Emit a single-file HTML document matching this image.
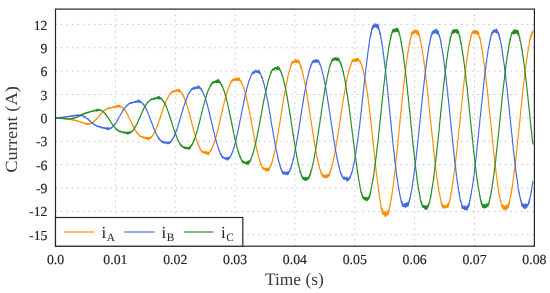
<!DOCTYPE html>
<html><head><meta charset="utf-8"><style>
html,body{margin:0;padding:0;background:#fff;}
svg{display:block;filter:blur(0.3px);text-rendering:geometricPrecision;}
text{font-family:"Liberation Serif",serif;fill:#222;}
</style></head><body>
<svg width="550" height="293" viewBox="0 0 550 293">
<rect width="550" height="293" fill="#fff"/>
<defs><clipPath id="ax"><rect x="55.5" y="9.1" width="478.90" height="237.10"/></clipPath></defs>
<g stroke="#c8c8c8" stroke-width="1" stroke-dasharray="1.6 3.88" fill="none">
<line x1="115.36" y1="246.2" x2="115.36" y2="9.1"/>
<line x1="175.22" y1="246.2" x2="175.22" y2="9.1"/>
<line x1="235.09" y1="246.2" x2="235.09" y2="9.1"/>
<line x1="294.95" y1="246.2" x2="294.95" y2="9.1"/>
<line x1="354.81" y1="246.2" x2="354.81" y2="9.1"/>
<line x1="414.67" y1="246.2" x2="414.67" y2="9.1"/>
<line x1="474.54" y1="246.2" x2="474.54" y2="9.1"/>
<line x1="55.5" y1="234.75" x2="534.4" y2="234.75"/>
<line x1="55.5" y1="211.38" x2="534.4" y2="211.38"/>
<line x1="55.5" y1="188.01" x2="534.4" y2="188.01"/>
<line x1="55.5" y1="164.64" x2="534.4" y2="164.64"/>
<line x1="55.5" y1="141.27" x2="534.4" y2="141.27"/>
<line x1="55.5" y1="117.90" x2="534.4" y2="117.90"/>
<line x1="55.5" y1="94.53" x2="534.4" y2="94.53"/>
<line x1="55.5" y1="71.16" x2="534.4" y2="71.16"/>
<line x1="55.5" y1="47.79" x2="534.4" y2="47.79"/>
<line x1="55.5" y1="24.42" x2="534.4" y2="24.42"/>
</g>
<g clip-path="url(#ax)" fill="none" stroke-width="1.15" stroke-linejoin="round">
<polyline stroke="#ff8c00" points="55.5,117.95 55.6,117.71 55.7,117.85 55.9,118.04 56.0,117.94 56.1,117.87 56.2,118.01 56.3,117.80 56.5,117.99 56.6,117.82 56.7,117.78 56.8,117.74 56.9,117.87 57.1,117.76 57.2,117.61 57.3,117.87 57.4,117.96 57.5,117.73 57.6,117.88 57.8,118.00 57.9,117.69 58.0,117.92 58.1,117.77 58.2,117.62 58.4,117.75 58.5,117.71 58.6,117.63 58.7,118.00 58.8,117.80 59.0,117.90 59.1,117.85 59.2,117.73 59.3,117.55 59.4,117.83 59.6,117.75 59.7,117.94 59.8,117.72 59.9,117.53 60.0,117.92 60.2,117.74 60.3,117.75 60.4,117.62 60.5,117.69 60.6,117.90 60.8,117.76 60.9,117.68 61.0,117.92 61.1,117.61 61.2,117.64 61.3,117.71 61.5,117.88 61.6,117.76 61.7,117.96 61.8,117.67 61.9,117.81 62.1,117.76 62.2,117.90 62.3,117.77 62.4,117.98 62.5,117.99 62.7,117.83 62.8,117.81 62.9,117.89 63.0,117.70 63.1,118.02 63.3,117.84 63.4,117.98 63.5,117.76 63.6,117.85 63.7,118.02 63.9,117.75 64.0,117.93 64.1,118.03 64.2,118.21 64.3,118.21 64.5,118.30 64.6,118.23 64.7,118.14 64.8,118.13 64.9,118.25 65.0,118.26 65.2,118.07 65.3,118.08 65.4,118.03 65.5,118.07 65.6,118.45 65.8,118.31 65.9,118.37 66.0,118.55 66.1,118.28 66.2,118.44 66.4,118.35 66.5,118.41 66.6,118.46 66.7,118.48 66.8,118.56 67.0,118.72 67.1,118.69 67.2,118.71 67.3,118.58 67.4,118.72 67.6,118.61 67.7,118.91 67.8,118.97 67.9,118.73 68.0,118.97 68.2,118.68 68.3,118.89 68.4,118.86 68.5,118.79 68.6,119.06 68.7,118.99 68.9,118.95 69.0,119.04 69.1,119.12 69.2,119.09 69.3,118.96 69.5,118.98 69.6,119.05 69.7,119.09 69.8,119.03 69.9,119.13 70.1,119.18 70.2,119.11 70.3,119.62 70.4,119.29 70.5,119.26 70.7,119.44 70.8,119.55 70.9,119.40 71.0,119.23 71.1,119.43 71.3,119.75 71.4,119.63 71.5,119.64 71.6,119.53 71.7,119.69 71.9,119.74 72.0,119.89 72.1,119.79 72.2,119.72 72.3,119.69 72.4,119.97 72.6,119.81 72.7,119.99 72.8,120.00 72.9,120.16 73.0,119.93 73.2,120.10 73.3,119.94 73.4,119.83 73.5,120.15 73.6,120.00 73.8,119.91 73.9,120.03 74.0,119.99 74.1,120.22 74.2,120.18 74.4,120.15 74.5,120.41 74.6,120.32 74.7,120.47 74.8,120.53 75.0,120.19 75.1,120.21 75.2,120.53 75.3,120.54 75.4,120.48 75.6,120.43 75.7,120.57 75.8,120.48 75.9,120.62 76.0,120.67 76.1,120.61 76.3,120.73 76.4,120.69 76.5,120.54 76.6,120.75 76.7,120.62 76.9,120.81 77.0,121.20 77.1,121.09 77.2,120.81 77.3,121.05 77.5,120.77 77.6,121.37 77.7,121.19 77.8,121.06 77.9,121.15 78.1,121.23 78.2,121.17 78.3,121.11 78.4,121.29 78.5,121.33 78.7,121.33 78.8,121.39 78.9,121.62 79.0,121.51 79.1,121.56 79.3,121.53 79.4,121.65 79.5,121.66 79.6,121.62 79.7,121.61 79.8,121.70 80.0,121.75 80.1,121.84 80.2,121.89 80.3,121.98 80.4,122.03 80.6,121.99 80.7,121.94 80.8,122.03 80.9,122.54 81.0,122.60 81.2,121.93 81.3,122.25 81.4,122.58 81.5,122.59 81.6,122.25 81.8,122.76 81.9,122.52 82.0,122.33 82.1,122.46 82.2,122.77 82.4,122.55 82.5,122.96 82.6,122.91 82.7,122.99 82.8,122.96 83.0,122.86 83.1,123.10 83.2,123.03 83.3,123.28 83.4,122.97 83.5,122.95 83.7,123.03 83.8,123.31 83.9,123.16 84.0,123.17 84.1,123.39 84.3,123.54 84.4,123.19 84.5,123.17 84.6,123.51 84.7,123.43 84.9,123.37 85.0,123.72 85.1,123.51 85.2,123.42 85.3,123.44 85.5,123.70 85.6,123.75 85.7,123.86 85.8,123.26 85.9,124.22 86.1,124.31 86.2,124.55 86.3,123.06 86.4,123.13 86.5,124.14 86.7,124.16 86.8,124.22 86.9,123.79 87.0,124.00 87.1,123.56 87.2,124.34 87.4,123.44 87.5,123.87 87.6,123.85 87.7,123.59 87.8,123.57 88.0,123.99 88.1,124.01 88.2,123.90 88.3,124.38 88.4,123.84 88.6,123.79 88.7,123.72 88.8,124.21 88.9,123.77 89.0,124.12 89.2,123.97 89.3,123.98 89.4,123.54 89.5,123.57 89.6,123.79 89.8,124.00 89.9,123.76 90.0,123.38 90.1,123.60 90.2,123.85 90.4,123.71 90.5,123.30 90.6,123.68 90.7,123.20 90.8,123.23 90.9,123.23 91.1,123.21 91.2,123.03 91.3,123.35 91.4,123.18 91.5,122.87 91.7,123.35 91.8,122.89 91.9,122.66 92.0,122.96 92.1,122.98 92.3,122.72 92.4,122.77 92.5,122.66 92.6,122.48 92.7,122.29 92.9,122.39 93.0,121.95 93.1,122.17 93.2,121.75 93.3,122.04 93.5,121.71 93.6,122.08 93.7,121.63 93.8,121.54 93.9,121.26 94.1,121.30 94.2,121.38 94.3,121.27 94.4,120.93 94.5,121.06 94.6,120.79 94.8,120.53 94.9,120.65 95.0,120.75 95.1,120.39 95.2,120.63 95.4,120.44 95.5,120.10 95.6,120.20 95.7,119.61 95.8,119.76 96.0,119.37 96.1,119.10 96.2,119.36 96.3,119.19 96.4,119.00 96.6,118.99 96.7,118.61 96.8,118.56 96.9,118.57 97.0,118.35 97.2,118.03 97.3,117.91 97.4,118.04 97.5,117.86 97.6,117.43 97.8,117.46 97.9,117.46 98.0,117.05 98.1,116.84 98.2,117.19 98.3,116.81 98.5,116.44 98.6,116.39 98.7,116.25 98.8,116.41 98.9,115.86 99.1,116.12 99.2,115.64 99.3,115.49 99.4,115.36 99.5,115.14 99.7,115.35 99.8,114.81 99.9,115.14 100.0,114.93 100.1,114.57 100.3,114.67 100.4,114.41 100.5,114.29 100.6,113.95 100.7,114.26 100.9,113.95 101.0,113.45 101.1,113.35 101.2,113.47 101.3,113.44 101.5,112.83 101.6,112.96 101.7,112.84 101.8,112.95 101.9,112.67 102.0,112.36 102.2,112.42 102.3,112.39 102.4,112.40 102.5,111.94 102.6,111.86 102.8,111.79 102.9,111.79 103.0,111.62 103.1,111.45 103.2,111.56 103.4,111.37 103.5,111.44 103.6,110.93 103.7,111.21 103.8,110.91 104.0,110.65 104.1,110.61 104.2,110.70 104.3,110.42 104.4,110.18 104.6,110.44 104.7,110.11 104.8,110.05 104.9,109.79 105.0,109.91 105.1,109.81 105.3,109.82 105.4,109.53 105.5,109.62 105.6,109.42 105.7,109.58 105.9,109.51 106.0,109.63 106.1,109.34 106.2,109.09 106.3,109.12 106.5,108.84 106.6,109.18 106.7,109.03 106.8,108.98 106.9,108.77 107.1,108.50 107.2,108.79 107.3,108.51 107.4,108.56 107.5,108.53 107.7,108.29 107.8,108.60 107.9,108.60 108.0,108.44 108.1,108.31 108.3,108.41 108.4,107.93 108.5,108.09 108.6,107.84 108.7,108.26 108.8,107.88 109.0,108.33 109.1,107.90 109.2,107.95 109.3,107.86 109.4,107.94 109.6,108.26 109.7,107.66 109.8,107.57 109.9,107.70 110.0,107.56 110.2,108.19 110.3,108.04 110.4,107.48 110.5,107.91 110.6,107.84 110.8,107.68 110.9,107.60 111.0,107.49 111.1,107.88 111.2,107.53 111.4,107.48 111.5,107.50 111.6,107.52 111.7,107.55 111.8,107.35 112.0,107.24 112.1,107.83 112.2,107.30 112.3,107.16 112.4,107.46 112.5,107.26 112.7,107.10 112.8,107.37 112.9,107.19 113.0,107.21 113.1,106.86 113.3,106.86 113.4,106.69 113.5,107.31 113.6,106.79 113.7,106.89 113.9,106.92 114.0,106.99 114.1,107.34 114.2,107.43 114.3,106.78 114.5,106.96 114.6,106.73 114.7,107.30 114.8,106.94 114.9,106.26 115.1,106.51 115.2,107.00 115.3,106.78 115.4,106.69 115.5,106.30 115.7,106.42 115.8,107.03 115.9,106.66 116.0,107.09 116.1,106.76 116.2,106.24 116.4,105.86 116.5,105.95 116.6,107.11 116.7,106.52 116.8,105.74 117.0,106.54 117.1,106.72 117.2,105.75 117.3,105.59 117.4,106.76 117.6,106.13 117.7,106.91 117.8,107.00 117.9,106.10 118.0,106.78 118.2,105.24 118.3,106.51 118.4,106.70 118.5,105.86 118.6,106.50 118.8,107.00 118.9,105.02 119.0,106.52 119.1,106.67 119.2,106.16 119.4,107.05 119.5,105.59 119.6,106.87 119.7,106.72 119.8,105.77 119.9,106.21 120.1,105.96 120.2,105.97 120.3,105.94 120.4,106.53 120.5,106.38 120.7,106.80 120.8,107.05 120.9,106.32 121.0,106.59 121.1,106.65 121.3,106.84 121.4,106.60 121.5,106.86 121.6,106.66 121.7,106.81 121.9,106.83 122.0,106.90 122.1,106.94 122.2,107.28 122.3,107.35 122.5,107.41 122.6,107.84 122.7,107.50 122.8,107.89 122.9,107.97 123.1,108.29 123.2,108.41 123.3,108.24 123.4,108.18 123.5,108.23 123.6,108.31 123.8,108.91 123.9,109.03 124.0,108.84 124.1,109.21 124.2,109.18 124.4,109.57 124.5,109.44 124.6,109.88 124.7,109.33 124.8,109.90 125.0,110.12 125.1,110.42 125.2,110.50 125.3,110.75 125.4,111.08 125.6,111.25 125.7,111.34 125.8,111.70 125.9,111.81 126.0,112.19 126.2,112.27 126.3,112.26 126.4,112.02 126.5,112.23 126.6,112.57 126.8,113.23 126.9,113.49 127.0,113.35 127.1,113.67 127.2,113.52 127.3,113.94 127.5,114.24 127.6,114.25 127.7,114.36 127.8,114.99 127.9,115.26 128.1,115.63 128.2,115.56 128.3,116.25 128.4,116.11 128.5,116.59 128.7,116.74 128.8,117.17 128.9,117.30 129.0,117.53 129.1,117.62 129.3,118.09 129.4,118.33 129.5,118.35 129.6,118.67 129.7,118.96 129.9,119.09 130.0,119.21 130.1,119.77 130.2,119.91 130.3,120.15 130.5,120.76 130.6,120.76 130.7,120.88 130.8,121.06 130.9,121.39 131.0,121.53 131.2,122.20 131.3,122.27 131.4,122.63 131.5,122.53 131.6,122.87 131.8,123.48 131.9,123.29 132.0,124.00 132.1,123.96 132.2,124.06 132.4,124.44 132.5,124.57 132.6,124.92 132.7,125.58 132.8,125.19 133.0,125.93 133.1,125.79 133.2,126.08 133.3,126.40 133.4,126.77 133.6,126.51 133.7,127.08 133.8,127.58 133.9,127.37 134.0,127.78 134.2,127.94 134.3,128.09 134.4,128.79 134.5,128.74 134.6,128.85 134.7,129.27 134.9,129.39 135.0,129.37 135.1,129.88 135.2,129.78 135.3,129.99 135.5,130.06 135.6,130.40 135.7,130.52 135.8,131.06 135.9,131.10 136.1,131.34 136.2,131.54 136.3,132.01 136.4,131.95 136.5,132.19 136.7,131.96 136.8,132.26 136.9,132.44 137.0,132.47 137.1,132.32 137.3,132.81 137.4,133.26 137.5,133.73 137.6,133.19 137.7,133.07 137.9,133.47 138.0,133.69 138.1,133.93 138.2,134.19 138.3,134.45 138.4,134.53 138.6,134.13 138.7,134.69 138.8,134.94 138.9,135.13 139.0,134.94 139.2,134.91 139.3,135.27 139.4,135.11 139.5,135.35 139.6,135.27 139.8,135.57 139.9,135.69 140.0,136.24 140.1,136.48 140.2,136.02 140.4,136.32 140.5,136.38 140.6,136.31 140.7,136.36 140.8,136.56 141.0,136.61 141.1,136.83 141.2,136.59 141.3,136.55 141.4,136.44 141.6,136.95 141.7,136.98 141.8,136.68 141.9,137.25 142.0,136.38 142.1,137.15 142.3,137.00 142.4,136.80 142.5,136.76 142.6,136.87 142.7,136.96 142.9,137.16 143.0,137.62 143.1,137.53 143.2,137.31 143.3,137.65 143.5,137.14 143.6,138.06 143.7,137.55 143.8,137.51 143.9,137.08 144.1,138.03 144.2,137.83 144.3,137.32 144.4,137.67 144.5,137.69 144.7,138.20 144.8,138.10 144.9,138.26 145.0,137.19 145.1,137.67 145.3,138.01 145.4,137.71 145.5,137.76 145.6,137.49 145.7,138.45 145.8,138.07 146.0,137.47 146.1,138.28 146.2,137.41 146.3,137.77 146.4,137.72 146.6,138.83 146.7,137.35 146.8,137.53 146.9,138.42 147.0,138.01 147.2,139.16 147.3,137.84 147.4,138.29 147.5,137.92 147.6,137.67 147.8,139.70 147.9,137.39 148.0,139.42 148.1,139.67 148.2,138.74 148.4,139.00 148.5,137.83 148.6,139.71 148.7,138.38 148.8,137.79 149.0,137.52 149.1,138.73 149.2,139.04 149.3,138.11 149.4,138.15 149.5,137.35 149.7,138.10 149.8,138.16 149.9,138.37 150.0,137.40 150.1,137.61 150.3,138.09 150.4,138.21 150.5,138.05 150.6,137.40 150.7,137.53 150.9,138.09 151.0,137.15 151.1,137.07 151.2,136.74 151.3,136.66 151.5,136.98 151.6,137.15 151.7,136.28 151.8,136.83 151.9,136.28 152.1,135.91 152.2,136.26 152.3,135.49 152.4,135.61 152.5,135.27 152.7,135.63 152.8,135.05 152.9,135.06 153.0,135.03 153.1,134.60 153.2,134.34 153.4,134.76 153.5,134.05 153.6,134.17 153.7,133.81 153.8,133.64 154.0,133.41 154.1,133.15 154.2,132.71 154.3,132.67 154.4,132.84 154.6,132.29 154.7,132.12 154.8,131.35 154.9,131.68 155.0,130.88 155.2,130.57 155.3,130.91 155.4,130.75 155.5,130.43 155.6,130.36 155.8,130.26 155.9,129.74 156.0,128.97 156.1,128.95 156.2,128.56 156.4,128.28 156.5,127.75 156.6,127.62 156.7,127.35 156.8,127.21 156.9,126.82 157.1,126.55 157.2,126.39 157.3,126.51 157.4,125.32 157.5,125.33 157.7,124.80 157.8,125.13 157.9,124.01 158.0,124.11 158.1,123.91 158.3,123.64 158.4,122.79 158.5,122.25 158.6,122.34 158.7,122.07 158.9,121.50 159.0,121.52 159.1,121.05 159.2,120.41 159.3,120.30 159.5,119.66 159.6,119.24 159.7,119.28 159.8,118.53 159.9,117.95 160.1,117.78 160.2,118.09 160.3,117.54 160.4,116.81 160.5,116.73 160.6,116.53 160.8,115.58 160.9,115.57 161.0,115.30 161.1,114.98 161.2,114.83 161.4,114.34 161.5,113.80 161.6,113.16 161.7,113.21 161.8,112.72 162.0,112.32 162.1,112.00 162.2,111.95 162.3,110.59 162.4,111.25 162.6,110.07 162.7,110.41 162.8,109.37 162.9,109.75 163.0,109.08 163.2,108.47 163.3,108.93 163.4,107.63 163.5,107.84 163.6,107.66 163.8,107.00 163.9,106.78 164.0,105.95 164.1,105.86 164.2,105.89 164.3,105.19 164.5,104.93 164.6,105.13 164.7,104.06 164.8,104.01 164.9,104.32 165.1,103.64 165.2,102.69 165.3,102.49 165.4,103.27 165.5,102.56 165.7,102.09 165.8,102.16 165.9,101.45 166.0,101.31 166.1,101.02 166.3,100.28 166.4,100.49 166.5,100.27 166.6,100.25 166.7,99.63 166.9,99.51 167.0,98.96 167.1,98.68 167.2,99.15 167.3,98.05 167.5,98.56 167.6,98.02 167.7,98.21 167.8,97.34 167.9,97.52 168.0,97.15 168.2,97.32 168.3,96.70 168.4,96.73 168.5,96.24 168.6,96.24 168.8,96.24 168.9,95.69 169.0,95.22 169.1,95.11 169.2,94.89 169.4,95.02 169.5,94.60 169.6,94.32 169.7,94.10 169.8,94.09 170.0,93.65 170.1,93.79 170.2,93.66 170.3,93.23 170.4,93.52 170.6,93.10 170.7,93.12 170.8,93.40 170.9,92.57 171.0,92.85 171.2,92.73 171.3,92.03 171.4,92.05 171.5,92.33 171.6,91.90 171.7,91.92 171.9,92.00 172.0,92.19 172.1,91.71 172.2,92.53 172.3,92.27 172.5,92.04 172.6,91.99 172.7,91.35 172.8,91.58 172.9,91.06 173.1,91.77 173.2,91.86 173.3,90.67 173.4,91.13 173.5,91.95 173.7,91.09 173.8,91.38 173.9,91.55 174.0,91.50 174.1,90.98 174.3,91.75 174.4,90.94 174.5,91.12 174.6,91.15 174.7,91.54 174.9,90.33 175.0,90.96 175.1,90.69 175.2,90.53 175.3,91.17 175.4,90.40 175.6,91.19 175.7,90.16 175.8,91.27 175.9,91.16 176.0,90.89 176.2,91.01 176.3,89.88 176.4,90.81 176.5,89.94 176.6,91.05 176.8,91.07 176.9,90.81 177.0,90.20 177.1,90.03 177.2,90.52 177.4,90.84 177.5,90.02 177.6,91.22 177.7,90.02 177.8,90.51 178.0,89.96 178.1,89.49 178.2,90.77 178.3,91.36 178.4,90.87 178.6,91.47 178.7,91.71 178.8,91.01 178.9,90.16 179.0,90.23 179.1,89.52 179.3,89.32 179.4,89.70 179.5,90.22 179.6,91.37 179.7,90.34 179.9,91.74 180.0,92.28 180.1,92.10 180.2,91.29 180.3,91.27 180.5,92.12 180.6,91.63 180.7,91.76 180.8,91.58 180.9,92.11 181.1,92.60 181.2,92.88 181.3,92.82 181.4,92.48 181.5,92.57 181.7,92.74 181.8,93.50 181.9,93.80 182.0,93.49 182.1,93.87 182.3,93.89 182.4,94.44 182.5,94.17 182.6,94.78 182.7,94.56 182.8,95.04 183.0,95.15 183.1,95.61 183.2,95.78 183.3,95.17 183.4,96.63 183.6,95.61 183.7,96.40 183.8,96.25 183.9,96.92 184.0,97.65 184.2,97.12 184.3,97.69 184.4,98.15 184.5,98.31 184.6,98.89 184.8,99.17 184.9,99.00 185.0,99.35 185.1,99.45 185.2,100.26 185.4,100.75 185.5,100.67 185.6,101.07 185.7,101.10 185.8,101.60 186.0,101.81 186.1,102.50 186.2,102.91 186.3,103.53 186.4,103.45 186.5,104.36 186.7,104.43 186.8,104.72 186.9,104.90 187.0,105.39 187.1,105.87 187.3,106.21 187.4,106.60 187.5,107.24 187.6,107.08 187.7,107.78 187.9,108.30 188.0,108.91 188.1,109.18 188.2,109.86 188.3,110.17 188.5,110.31 188.6,110.49 188.7,111.24 188.8,111.48 188.9,112.25 189.1,112.76 189.2,112.79 189.3,113.03 189.4,113.80 189.5,114.30 189.7,114.88 189.8,115.47 189.9,115.87 190.0,115.58 190.1,116.53 190.2,116.76 190.4,117.46 190.5,118.32 190.6,118.24 190.7,118.49 190.8,119.22 191.0,119.57 191.1,119.95 191.2,120.46 191.3,120.93 191.4,121.70 191.6,121.84 191.7,122.43 191.8,123.05 191.9,123.33 192.0,124.29 192.2,124.67 192.3,125.19 192.4,125.62 192.5,125.56 192.6,125.91 192.8,126.65 192.9,127.48 193.0,127.91 193.1,128.33 193.2,128.41 193.4,129.61 193.5,128.80 193.6,129.68 193.7,130.53 193.8,130.68 193.9,131.10 194.1,131.86 194.2,131.82 194.3,132.75 194.4,132.88 194.5,133.10 194.7,133.70 194.8,134.49 194.9,134.69 195.0,134.75 195.1,135.31 195.3,135.31 195.4,136.22 195.5,136.43 195.6,136.36 195.7,137.36 195.9,137.55 196.0,138.60 196.1,138.07 196.2,138.25 196.3,139.78 196.5,139.98 196.6,140.38 196.7,139.78 196.8,140.79 196.9,140.61 197.1,141.12 197.2,141.51 197.3,141.99 197.4,142.11 197.5,142.95 197.6,142.37 197.8,143.52 197.9,143.84 198.0,143.39 198.1,144.05 198.2,144.65 198.4,144.93 198.5,144.45 198.6,145.92 198.7,146.14 198.8,146.07 199.0,146.30 199.1,146.09 199.2,147.07 199.3,146.97 199.4,147.10 199.6,147.74 199.7,147.68 199.8,147.72 199.9,148.53 200.0,147.76 200.2,148.92 200.3,149.27 200.4,148.71 200.5,149.16 200.6,148.98 200.7,149.54 200.9,150.32 201.0,150.13 201.1,150.03 201.2,150.54 201.3,151.10 201.5,150.50 201.6,151.51 201.7,150.78 201.8,150.85 201.9,150.67 202.1,152.48 202.2,152.24 202.3,151.34 202.4,151.51 202.5,151.36 202.7,152.41 202.8,152.47 202.9,151.96 203.0,152.12 203.1,151.62 203.3,151.68 203.4,152.33 203.5,151.74 203.6,153.03 203.7,152.25 203.9,151.92 204.0,152.37 204.1,152.74 204.2,152.88 204.3,151.98 204.4,152.10 204.6,152.27 204.7,153.35 204.8,152.98 204.9,151.71 205.0,152.64 205.2,153.19 205.3,152.26 205.4,151.39 205.5,152.89 205.6,152.56 205.8,152.37 205.9,152.11 206.0,152.11 206.1,152.38 206.2,154.03 206.4,153.52 206.5,153.39 206.6,152.51 206.7,152.76 206.8,151.68 207.0,153.42 207.1,153.62 207.2,153.89 207.3,153.36 207.4,152.16 207.6,152.20 207.7,153.75 207.8,152.54 207.9,152.35 208.0,152.97 208.1,154.40 208.3,152.50 208.4,152.68 208.5,153.81 208.6,152.61 208.7,154.31 208.9,153.06 209.0,152.08 209.1,152.28 209.2,152.82 209.3,151.79 209.5,152.75 209.6,152.19 209.7,152.17 209.8,152.09 209.9,151.56 210.1,151.53 210.2,150.72 210.3,150.92 210.4,150.13 210.5,151.10 210.7,149.88 210.8,149.99 210.9,150.39 211.0,150.63 211.1,149.93 211.3,149.56 211.4,149.09 211.5,148.75 211.6,149.17 211.7,148.36 211.8,148.12 212.0,147.99 212.1,147.69 212.2,147.46 212.3,147.92 212.4,146.98 212.6,146.69 212.7,146.47 212.8,146.35 212.9,145.95 213.0,146.17 213.2,145.57 213.3,145.65 213.4,144.48 213.5,144.17 213.6,143.47 213.8,144.23 213.9,143.40 214.0,143.08 214.1,142.59 214.2,142.64 214.4,142.10 214.5,142.69 214.6,141.16 214.7,140.67 214.8,140.64 215.0,140.13 215.1,140.04 215.2,139.53 215.3,138.71 215.4,139.08 215.5,138.13 215.7,137.58 215.8,137.25 215.9,136.29 216.0,136.84 216.1,136.12 216.3,136.65 216.4,134.89 216.5,135.09 216.6,134.80 216.7,133.91 216.9,132.98 217.0,133.00 217.1,133.04 217.2,131.92 217.3,131.05 217.5,131.33 217.6,130.49 217.7,130.52 217.8,129.52 217.9,129.69 218.1,129.72 218.2,128.72 218.3,127.63 218.4,127.36 218.5,127.00 218.7,126.35 218.8,126.06 218.9,125.49 219.0,125.00 219.1,124.28 219.2,123.25 219.4,123.45 219.5,122.42 219.6,122.59 219.7,122.04 219.8,121.39 220.0,120.11 220.1,120.44 220.2,119.75 220.3,119.10 220.4,118.40 220.6,118.23 220.7,117.75 220.8,117.52 220.9,116.06 221.0,115.44 221.2,114.85 221.3,114.38 221.4,114.09 221.5,113.34 221.6,113.64 221.8,113.07 221.9,112.17 222.0,111.79 222.1,111.23 222.2,110.29 222.4,110.31 222.5,109.56 222.6,108.78 222.7,108.49 222.8,107.77 222.9,107.85 223.1,107.23 223.2,106.90 223.3,105.99 223.4,105.82 223.5,105.44 223.7,104.74 223.8,104.64 223.9,103.69 224.0,103.54 224.1,103.03 224.3,102.34 224.4,101.81 224.5,101.07 224.6,101.12 224.7,100.08 224.9,99.39 225.0,99.74 225.1,98.87 225.2,98.88 225.3,98.32 225.5,97.38 225.6,97.10 225.7,96.98 225.8,95.83 225.9,95.29 226.1,95.20 226.2,94.89 226.3,95.63 226.4,93.88 226.5,93.42 226.6,93.70 226.8,93.48 226.9,92.85 227.0,91.79 227.1,92.23 227.2,92.13 227.4,90.99 227.5,91.67 227.6,90.75 227.7,90.70 227.8,90.15 228.0,89.53 228.1,89.34 228.2,88.26 228.3,88.28 228.4,88.49 228.6,88.69 228.7,87.40 228.8,87.46 228.9,86.36 229.0,86.94 229.2,86.23 229.3,86.01 229.4,86.25 229.5,85.59 229.6,85.00 229.8,84.78 229.9,84.34 230.0,84.77 230.1,84.20 230.2,84.46 230.3,84.28 230.5,82.72 230.6,83.51 230.7,82.55 230.8,82.14 230.9,82.79 231.1,82.08 231.2,81.85 231.3,81.50 231.4,81.24 231.5,81.20 231.7,81.69 231.8,80.77 231.9,80.30 232.0,80.83 232.1,81.55 232.3,80.86 232.4,79.93 232.5,80.64 232.6,80.07 232.7,80.47 232.9,79.52 233.0,79.21 233.1,80.58 233.2,79.90 233.3,79.54 233.5,80.30 233.6,80.03 233.7,79.80 233.8,79.10 233.9,79.67 234.0,80.21 234.2,80.32 234.3,79.44 234.4,78.97 234.5,78.59 234.6,78.83 234.8,79.62 234.9,79.86 235.0,79.53 235.1,79.68 235.2,79.68 235.4,79.88 235.5,79.53 235.6,78.54 235.7,79.91 235.8,78.43 236.0,78.58 236.1,78.26 236.2,78.37 236.3,80.53 236.4,79.19 236.6,79.48 236.7,79.77 236.8,78.50 236.9,80.41 237.0,78.90 237.2,78.30 237.3,79.46 237.4,78.62 237.5,79.56 237.6,78.19 237.7,78.38 237.9,78.73 238.0,78.00 238.1,78.91 238.2,78.61 238.3,80.58 238.5,77.98 238.6,79.47 238.7,78.16 238.8,79.15 238.9,79.71 239.1,79.26 239.2,78.04 239.3,79.33 239.4,80.29 239.5,79.64 239.7,79.28 239.8,80.71 239.9,80.81 240.0,79.74 240.1,80.36 240.3,80.23 240.4,81.02 240.5,80.45 240.6,81.29 240.7,81.32 240.9,81.07 241.0,80.72 241.1,81.70 241.2,82.44 241.3,82.71 241.4,82.23 241.6,82.64 241.7,83.12 241.8,83.27 241.9,82.89 242.0,83.42 242.2,84.61 242.3,84.37 242.4,84.91 242.5,84.46 242.6,85.16 242.8,85.27 242.9,85.88 243.0,86.23 243.1,85.81 243.2,86.19 243.4,86.74 243.5,87.24 243.6,87.01 243.7,88.22 243.8,88.81 244.0,88.69 244.1,89.27 244.2,88.93 244.3,89.79 244.4,89.53 244.6,90.80 244.7,90.92 244.8,92.22 244.9,91.74 245.0,92.45 245.1,93.03 245.3,92.99 245.4,93.53 245.5,93.92 245.6,94.40 245.7,94.64 245.9,95.57 246.0,95.78 246.1,96.23 246.2,96.71 246.3,97.17 246.5,96.91 246.6,98.57 246.7,98.89 246.8,99.74 246.9,99.65 247.1,100.50 247.2,100.80 247.3,101.40 247.4,101.92 247.5,102.22 247.7,102.38 247.8,103.15 247.9,104.14 248.0,104.55 248.1,106.10 248.3,105.93 248.4,106.18 248.5,106.51 248.6,107.22 248.7,107.68 248.8,108.66 249.0,109.01 249.1,110.32 249.2,110.37 249.3,110.84 249.4,111.86 249.6,112.74 249.7,113.70 249.8,113.33 249.9,114.46 250.0,114.92 250.2,115.28 250.3,116.50 250.4,116.53 250.5,117.00 250.6,118.31 250.8,117.64 250.9,118.89 251.0,119.98 251.1,119.82 251.2,120.41 251.4,122.42 251.5,122.43 251.6,123.33 251.7,123.09 251.8,124.51 252.0,125.75 252.1,126.09 252.2,125.42 252.3,126.91 252.4,127.25 252.5,128.69 252.7,128.87 252.8,130.09 252.9,131.19 253.0,130.84 253.1,131.51 253.3,132.38 253.4,132.91 253.5,132.94 253.6,133.83 253.7,134.51 253.9,135.37 254.0,135.42 254.1,136.48 254.2,136.96 254.3,137.87 254.5,138.80 254.6,138.13 254.7,138.92 254.8,140.01 254.9,141.29 255.1,140.96 255.2,141.25 255.3,142.93 255.4,143.45 255.5,143.56 255.7,144.16 255.8,145.12 255.9,145.57 256.0,145.79 256.1,146.62 256.2,146.76 256.4,147.15 256.5,147.59 256.6,148.95 256.7,148.71 256.8,149.57 257.0,150.21 257.1,151.50 257.2,150.60 257.3,151.35 257.4,151.81 257.6,153.10 257.7,152.37 257.8,153.69 257.9,153.99 258.0,154.52 258.2,155.10 258.3,155.69 258.4,155.16 258.5,157.24 258.6,157.30 258.8,157.72 258.9,157.87 259.0,158.22 259.1,158.28 259.2,158.92 259.4,158.90 259.5,159.32 259.6,160.17 259.7,159.85 259.8,161.07 259.9,161.84 260.1,162.05 260.2,162.70 260.3,161.69 260.4,162.64 260.5,163.62 260.7,164.10 260.8,163.60 260.9,163.26 261.0,165.33 261.1,164.10 261.3,165.25 261.4,165.61 261.5,165.29 261.6,165.82 261.7,166.69 261.9,166.48 262.0,166.90 262.1,166.81 262.2,167.79 262.3,168.12 262.5,167.70 262.6,167.79 262.7,167.85 262.8,167.22 262.9,167.63 263.1,167.74 263.2,168.32 263.3,169.17 263.4,169.44 263.5,169.34 263.6,168.74 263.8,167.97 263.9,169.09 264.0,168.37 264.1,168.01 264.2,169.42 264.4,168.99 264.5,169.50 264.6,168.65 264.7,169.49 264.8,169.05 265.0,168.80 265.1,169.48 265.2,168.64 265.3,169.18 265.4,170.35 265.6,169.67 265.7,169.88 265.8,168.50 265.9,168.99 266.0,170.62 266.2,168.98 266.3,169.37 266.4,169.66 266.5,170.84 266.6,168.02 266.8,169.83 266.9,169.53 267.0,168.89 267.1,170.70 267.2,169.77 267.3,170.57 267.5,170.56 267.6,167.96 267.7,170.29 267.8,168.68 267.9,168.35 268.1,169.94 268.2,168.67 268.3,170.62 268.4,170.69 268.5,170.14 268.7,171.04 268.8,170.58 268.9,170.92 269.0,170.90 269.1,170.23 269.3,168.89 269.4,169.37 269.5,167.70 269.6,167.54 269.7,167.08 269.9,166.96 270.0,166.34 270.1,166.40 270.2,166.36 270.3,166.94 270.5,166.97 270.6,165.64 270.7,166.27 270.8,164.70 270.9,164.84 271.0,164.37 271.2,165.06 271.3,164.06 271.4,164.64 271.5,163.24 271.6,163.91 271.8,162.63 271.9,163.00 272.0,162.72 272.1,161.43 272.2,161.89 272.4,161.26 272.5,161.19 272.6,160.60 272.7,159.23 272.8,158.89 273.0,158.54 273.1,158.14 273.2,158.20 273.3,157.25 273.4,156.63 273.6,155.81 273.7,156.07 273.8,155.04 273.9,155.84 274.0,154.27 274.2,153.96 274.3,154.03 274.4,152.25 274.5,151.90 274.6,152.06 274.7,151.26 274.9,150.61 275.0,150.43 275.1,149.77 275.2,149.36 275.3,147.42 275.5,147.75 275.6,146.85 275.7,146.83 275.8,145.43 275.9,145.44 276.1,144.85 276.2,144.56 276.3,142.57 276.4,142.67 276.5,142.08 276.7,141.88 276.8,141.23 276.9,139.54 277.0,139.45 277.1,138.37 277.3,137.83 277.4,137.42 277.5,135.74 277.6,135.87 277.7,135.21 277.9,134.60 278.0,134.27 278.1,132.90 278.2,133.24 278.3,132.03 278.4,131.51 278.6,130.97 278.7,129.86 278.8,128.44 278.9,127.94 279.0,127.57 279.2,126.37 279.3,126.06 279.4,124.84 279.5,124.35 279.6,124.43 279.8,122.93 279.9,123.02 280.0,122.57 280.1,121.31 280.2,120.66 280.4,118.48 280.5,118.85 280.6,117.70 280.7,117.32 280.8,117.30 281.0,115.63 281.1,114.64 281.2,114.68 281.3,112.77 281.4,112.33 281.6,112.30 281.7,111.54 281.8,110.37 281.9,109.60 282.0,109.61 282.1,108.09 282.3,106.71 282.4,106.49 282.5,105.92 282.6,105.49 282.7,104.34 282.9,104.08 283.0,102.66 283.1,102.25 283.2,101.14 283.3,100.76 283.5,99.71 283.6,98.70 283.7,98.87 283.8,98.03 283.9,98.13 284.1,95.84 284.2,95.15 284.3,94.48 284.4,94.61 284.5,93.61 284.7,93.51 284.8,92.23 284.9,91.58 285.0,91.71 285.1,90.87 285.3,89.79 285.4,89.09 285.5,88.81 285.6,87.81 285.7,86.87 285.8,87.39 286.0,85.83 286.1,85.95 286.2,85.19 286.3,83.83 286.4,83.97 286.6,82.88 286.7,82.65 286.8,81.19 286.9,81.77 287.0,80.97 287.2,80.62 287.3,80.09 287.4,79.19 287.5,78.53 287.6,77.25 287.8,77.72 287.9,76.36 288.0,75.74 288.1,75.19 288.2,75.21 288.4,73.99 288.5,74.13 288.6,74.31 288.7,73.10 288.8,72.94 289.0,71.95 289.1,71.78 289.2,70.54 289.3,71.17 289.4,70.71 289.5,69.60 289.7,69.41 289.8,70.06 289.9,68.90 290.0,69.21 290.1,68.39 290.3,68.21 290.4,66.91 290.5,67.79 290.6,66.42 290.7,65.79 290.9,64.96 291.0,66.04 291.1,65.61 291.2,63.63 291.3,63.82 291.5,64.08 291.6,63.66 291.7,63.51 291.8,64.23 291.9,63.78 292.1,61.61 292.2,62.51 292.3,62.19 292.4,61.47 292.5,62.21 292.7,63.23 292.8,62.35 292.9,62.18 293.0,61.59 293.1,61.77 293.2,61.34 293.4,62.25 293.5,62.40 293.6,62.20 293.7,61.43 293.8,61.71 294.0,61.37 294.1,61.90 294.2,62.56 294.3,61.71 294.4,60.96 294.6,61.31 294.7,60.57 294.8,60.77 294.9,61.33 295.0,59.79 295.2,59.95 295.3,61.05 295.4,60.44 295.5,60.13 295.6,61.68 295.8,60.30 295.9,62.52 296.0,61.58 296.1,61.33 296.2,60.92 296.4,61.34 296.5,61.83 296.6,62.66 296.7,62.33 296.8,59.81 296.9,59.88 297.1,60.07 297.2,60.34 297.3,60.68 297.4,61.87 297.5,60.79 297.7,61.21 297.8,60.18 297.9,62.07 298.0,61.16 298.1,60.83 298.3,61.11 298.4,60.21 298.5,60.82 298.6,62.07 298.7,61.77 298.9,62.95 299.0,62.64 299.1,61.02 299.2,63.38 299.3,62.41 299.5,61.86 299.6,62.99 299.7,64.11 299.8,63.02 299.9,63.28 300.0,65.06 300.2,66.00 300.3,65.72 300.4,65.62 300.5,66.41 300.6,66.76 300.8,66.37 300.9,67.20 301.0,65.46 301.1,66.62 301.2,68.88 301.4,67.51 301.5,68.14 301.6,67.96 301.7,69.82 301.8,69.79 302.0,70.99 302.1,70.88 302.2,71.00 302.3,71.87 302.4,71.76 302.6,73.18 302.7,73.19 302.8,73.80 302.9,74.66 303.0,74.10 303.2,75.23 303.3,76.12 303.4,75.93 303.5,75.50 303.6,76.75 303.7,78.29 303.9,78.49 304.0,78.58 304.1,79.33 304.2,80.00 304.3,81.15 304.5,81.56 304.6,81.97 304.7,82.49 304.8,82.01 304.9,83.74 305.1,84.57 305.2,84.08 305.3,85.61 305.4,85.20 305.5,86.78 305.7,87.59 305.8,88.14 305.9,88.85 306.0,89.23 306.1,89.66 306.3,90.71 306.4,91.45 306.5,93.36 306.6,93.17 306.7,93.11 306.9,94.86 307.0,95.46 307.1,95.45 307.2,96.96 307.3,97.76 307.4,98.63 307.6,98.24 307.7,98.98 307.8,100.26 307.9,101.53 308.0,101.77 308.2,103.21 308.3,102.49 308.4,103.50 308.5,104.54 308.6,105.83 308.8,105.60 308.9,107.23 309.0,107.69 309.1,108.29 309.2,109.96 309.4,110.06 309.5,110.77 309.6,111.28 309.7,112.40 309.8,113.01 310.0,114.04 310.1,114.61 310.2,115.12 310.3,115.86 310.4,117.33 310.6,118.34 310.7,118.41 310.8,119.37 310.9,120.96 311.0,120.65 311.1,121.33 311.3,122.09 311.4,122.46 311.5,124.36 311.6,125.21 311.7,125.73 311.9,126.02 312.0,128.05 312.1,128.04 312.2,128.77 312.3,129.59 312.5,130.48 312.6,130.38 312.7,131.42 312.8,132.69 312.9,133.47 313.1,134.15 313.2,135.55 313.3,135.63 313.4,135.67 313.5,137.96 313.7,138.43 313.8,138.94 313.9,139.84 314.0,141.55 314.1,140.65 314.3,142.04 314.4,142.12 314.5,143.66 314.6,143.93 314.7,145.05 314.8,145.80 315.0,146.31 315.1,145.00 315.2,147.03 315.3,147.55 315.4,147.86 315.6,149.48 315.7,150.23 315.8,150.53 315.9,151.87 316.0,151.48 316.2,152.77 316.3,152.87 316.4,154.19 316.5,154.75 316.6,155.10 316.8,156.34 316.9,156.07 317.0,157.24 317.1,157.78 317.2,157.61 317.4,158.24 317.5,158.61 317.6,160.03 317.7,159.96 317.8,159.68 318.0,161.84 318.1,161.18 318.2,162.28 318.3,163.32 318.4,163.64 318.5,164.42 318.7,164.36 318.8,164.90 318.9,165.44 319.0,165.88 319.1,165.46 319.3,167.68 319.4,166.55 319.5,167.97 319.6,168.12 319.7,168.52 319.9,169.49 320.0,169.82 320.1,170.05 320.2,169.43 320.3,169.86 320.5,170.89 320.6,170.16 320.7,172.33 320.8,172.69 320.9,171.45 321.1,172.65 321.2,172.52 321.3,172.60 321.4,174.14 321.5,173.22 321.7,173.01 321.8,173.56 321.9,174.27 322.0,174.04 322.1,175.20 322.2,174.70 322.4,175.79 322.5,174.89 322.6,175.43 322.7,176.79 322.8,174.32 323.0,175.61 323.1,175.05 323.2,175.14 323.3,175.89 323.4,176.39 323.6,177.07 323.7,177.08 323.8,176.74 323.9,174.96 324.0,177.49 324.2,176.31 324.3,175.39 324.4,177.54 324.5,176.09 324.6,175.98 324.8,176.65 324.9,177.66 325.0,176.09 325.1,177.08 325.2,177.33 325.4,175.70 325.5,175.86 325.6,175.05 325.7,178.02 325.8,177.15 325.9,177.67 326.1,177.43 326.2,177.40 326.3,176.75 326.4,175.68 326.5,174.58 326.7,174.92 326.8,176.82 326.9,177.02 327.0,177.07 327.1,176.27 327.3,175.22 327.4,176.31 327.5,175.59 327.6,177.46 327.7,177.10 327.9,175.03 328.0,176.81 328.1,174.65 328.2,174.16 328.3,176.53 328.5,176.36 328.6,175.76 328.7,175.57 328.8,176.16 328.9,175.76 329.1,175.55 329.2,174.19 329.3,175.42 329.4,174.21 329.5,172.82 329.6,174.19 329.8,172.84 329.9,172.48 330.0,172.12 330.1,172.23 330.2,172.46 330.4,172.17 330.5,170.89 330.6,170.41 330.7,169.42 330.8,170.28 331.0,169.51 331.1,169.12 331.2,169.25 331.3,168.31 331.4,168.47 331.6,167.19 331.7,167.21 331.8,166.60 331.9,166.39 332.0,165.13 332.2,165.28 332.3,165.67 332.4,164.53 332.5,162.89 332.6,162.62 332.8,162.51 332.9,162.24 333.0,161.88 333.1,160.98 333.2,160.13 333.3,159.65 333.5,159.13 333.6,159.46 333.7,158.83 333.8,157.99 333.9,157.06 334.1,157.14 334.2,156.03 334.3,156.46 334.4,156.05 334.5,154.26 334.7,154.22 334.8,153.66 334.9,152.70 335.0,150.79 335.1,151.17 335.3,150.58 335.4,150.30 335.5,148.34 335.6,148.43 335.7,147.80 335.9,147.83 336.0,146.55 336.1,146.03 336.2,145.58 336.3,143.95 336.5,143.22 336.6,142.82 336.7,142.45 336.8,141.14 336.9,140.05 337.0,140.15 337.2,139.90 337.3,139.27 337.4,137.95 337.5,137.07 337.6,137.19 337.8,135.05 337.9,135.49 338.0,134.69 338.1,133.20 338.2,132.13 338.4,131.99 338.5,131.24 338.6,130.25 338.7,130.41 338.8,129.65 339.0,129.01 339.1,127.59 339.2,127.28 339.3,125.45 339.4,124.69 339.6,123.55 339.7,122.92 339.8,122.62 339.9,122.43 340.0,121.44 340.2,120.06 340.3,119.78 340.4,118.80 340.5,117.77 340.6,116.70 340.7,115.52 340.9,115.37 341.0,115.23 341.1,114.37 341.2,113.03 341.3,112.80 341.5,111.87 341.6,111.32 341.7,110.57 341.8,109.52 341.9,108.91 342.1,107.57 342.2,106.54 342.3,105.40 342.4,105.61 342.5,104.26 342.7,104.33 342.8,103.29 342.9,102.73 343.0,101.55 343.1,101.07 343.3,99.61 343.4,99.86 343.5,99.34 343.6,98.15 343.7,96.87 343.9,95.99 344.0,96.30 344.1,94.57 344.2,94.58 344.3,93.90 344.4,92.95 344.6,92.32 344.7,91.20 344.8,90.66 344.9,89.21 345.0,89.65 345.2,89.13 345.3,88.23 345.4,87.74 345.5,87.11 345.6,85.94 345.8,85.77 345.9,84.35 346.0,84.01 346.1,83.16 346.2,82.77 346.4,82.67 346.5,81.69 346.6,80.81 346.7,79.80 346.8,80.06 347.0,78.61 347.1,78.39 347.2,78.52 347.3,77.50 347.4,76.91 347.6,75.99 347.7,75.59 347.8,75.10 347.9,74.83 348.0,74.99 348.1,73.96 348.3,73.16 348.4,72.73 348.5,72.76 348.6,72.29 348.7,70.59 348.9,70.56 349.0,71.01 349.1,69.99 349.2,69.97 349.3,68.87 349.5,69.44 349.6,67.62 349.7,68.04 349.8,67.44 349.9,67.49 350.1,66.92 350.2,66.10 350.3,65.78 350.4,66.60 350.5,66.37 350.7,65.54 350.8,64.16 350.9,64.11 351.0,63.94 351.1,64.47 351.3,64.09 351.4,62.74 351.5,62.58 351.6,62.01 351.7,62.49 351.8,61.64 352.0,62.39 352.1,61.59 352.2,60.35 352.3,59.99 352.4,59.89 352.6,60.64 352.7,60.26 352.8,60.88 352.9,60.67 353.0,61.10 353.2,60.13 353.3,61.26 353.4,61.19 353.5,59.62 353.6,60.56 353.8,60.83 353.9,59.57 354.0,61.22 354.1,61.49 354.2,60.41 354.4,61.41 354.5,59.21 354.6,59.59 354.7,60.94 354.8,59.39 355.0,60.50 355.1,59.97 355.2,60.16 355.3,59.42 355.4,59.92 355.5,58.94 355.7,60.11 355.8,60.59 355.9,59.29 356.0,61.64 356.1,61.02 356.3,59.57 356.4,58.52 356.5,59.54 356.6,59.52 356.7,61.25 356.9,60.84 357.0,58.82 357.1,59.39 357.2,58.55 357.3,60.31 357.5,59.74 357.6,60.05 357.7,60.48 357.8,58.74 357.9,59.46 358.1,61.14 358.2,59.87 358.3,58.77 358.4,58.86 358.5,60.37 358.7,60.49 358.8,60.10 358.9,60.57 359.0,60.01 359.1,60.43 359.2,60.62 359.4,60.60 359.5,61.00 359.6,60.96 359.7,60.55 359.8,61.38 360.0,60.46 360.1,62.17 360.2,61.61 360.3,62.28 360.4,63.04 360.6,62.84 360.7,62.78 360.8,62.90 360.9,63.07 361.0,63.69 361.2,63.87 361.3,64.29 361.4,64.47 361.5,64.20 361.6,65.09 361.8,65.66 361.9,64.84 362.0,65.61 362.1,67.15 362.2,67.37 362.4,68.07 362.5,66.89 362.6,67.73 362.7,69.06 362.8,69.58 362.9,69.55 363.1,70.67 363.2,69.63 363.3,70.13 363.4,70.82 363.5,72.90 363.7,72.61 363.8,73.13 363.9,73.17 364.0,73.83 364.1,75.52 364.3,75.37 364.4,75.79 364.5,75.64 364.6,76.91 364.7,78.29 364.9,78.99 365.0,78.25 365.1,79.87 365.2,79.88 365.3,80.31 365.5,81.55 365.6,81.78 365.7,83.14 365.8,83.81 365.9,84.33 366.1,84.54 366.2,85.57 366.3,86.56 366.4,88.00 366.5,87.49 366.6,89.04 366.8,89.43 366.9,89.95 367.0,91.52 367.1,91.83 367.2,91.37 367.4,93.21 367.5,93.74 367.6,94.41 367.7,96.03 367.8,96.72 368.0,97.88 368.1,98.29 368.2,99.38 368.3,99.90 368.4,102.35 368.6,103.21 368.7,103.42 368.8,104.17 368.9,104.91 369.0,106.58 369.2,107.37 369.3,108.40 369.4,109.09 369.5,109.86 369.6,111.15 369.8,111.55 369.9,113.60 370.0,114.11 370.1,114.81 370.2,115.76 370.3,116.32 370.5,118.44 370.6,119.72 370.7,120.29 370.8,121.52 370.9,122.07 371.1,123.27 371.2,123.94 371.3,125.35 371.4,126.77 371.5,127.70 371.7,130.06 371.8,130.39 371.9,130.91 372.0,131.52 372.1,132.91 372.3,134.21 372.4,134.72 372.5,135.56 372.6,138.16 372.7,138.81 372.9,139.52 373.0,141.43 373.1,142.96 373.2,142.42 373.3,143.77 373.5,146.10 373.6,147.21 373.7,148.46 373.8,150.21 373.9,149.88 374.0,150.14 374.2,151.54 374.3,153.30 374.4,153.91 374.5,155.67 374.6,157.13 374.8,157.77 374.9,157.93 375.0,160.26 375.1,161.18 375.2,162.12 375.4,163.44 375.5,164.83 375.6,165.24 375.7,166.31 375.8,168.51 376.0,169.13 376.1,169.20 376.2,170.87 376.3,172.09 376.4,173.30 376.6,173.88 376.7,174.03 376.8,176.29 376.9,175.77 377.0,176.99 377.2,178.69 377.3,180.64 377.4,181.34 377.5,182.18 377.6,182.46 377.7,183.35 377.9,185.07 378.0,184.76 378.1,185.67 378.2,186.70 378.3,189.30 378.5,190.07 378.6,190.71 378.7,191.72 378.8,192.18 378.9,192.03 379.1,192.44 379.2,195.34 379.3,195.27 379.4,195.58 379.5,196.31 379.7,197.18 379.8,198.15 379.9,200.06 380.0,199.99 380.1,200.16 380.3,202.52 380.4,202.11 380.5,202.33 380.6,202.25 380.7,204.04 380.9,203.61 381.0,205.74 381.1,207.35 381.2,207.28 381.3,209.07 381.4,208.44 381.6,208.00 381.7,207.82 381.8,208.60 381.9,210.83 382.0,211.02 382.2,212.27 382.3,212.69 382.4,209.17 382.5,212.96 382.6,212.58 382.8,211.60 382.9,213.60 383.0,212.36 383.1,214.48 383.2,210.78 383.4,214.13 383.5,214.13 383.6,213.29 383.7,212.61 383.8,213.11 384.0,214.76 384.1,213.73 384.2,213.75 384.3,212.89 384.4,214.09 384.6,212.89 384.7,214.99 384.8,214.96 384.9,215.87 385.0,214.07 385.1,210.98 385.3,214.44 385.4,214.03 385.5,215.85 385.6,214.00 385.7,216.56 385.9,214.99 386.0,214.76 386.1,213.69 386.2,214.30 386.3,214.94 386.5,215.17 386.6,213.54 386.7,214.80 386.8,212.05 386.9,211.62 387.1,212.98 387.2,212.18 387.3,213.44 387.4,214.80 387.5,211.08 387.7,210.82 387.8,214.90 387.9,213.49 388.0,214.09 388.1,211.66 388.3,210.93 388.4,213.87 388.5,210.43 388.6,212.42 388.7,211.40 388.8,211.39 389.0,211.17 389.1,209.65 389.2,209.07 389.3,209.80 389.4,207.26 389.6,207.65 389.7,207.02 389.8,205.17 389.9,206.40 390.0,206.01 390.2,204.57 390.3,203.92 390.4,203.87 390.5,202.53 390.6,202.16 390.8,200.91 390.9,200.04 391.0,200.02 391.1,198.57 391.2,199.88 391.4,197.39 391.5,197.85 391.6,197.64 391.7,195.38 391.8,194.08 392.0,194.78 392.1,193.70 392.2,192.86 392.3,191.40 392.4,191.08 392.5,190.86 392.7,189.22 392.8,187.89 392.9,187.00 393.0,187.76 393.1,187.00 393.3,184.66 393.4,183.73 393.5,182.82 393.6,181.16 393.7,181.89 393.9,179.94 394.0,178.92 394.1,177.79 394.2,177.18 394.3,175.53 394.5,175.41 394.6,173.15 394.7,174.03 394.8,172.83 394.9,170.63 395.1,170.94 395.2,168.86 395.3,168.02 395.4,166.99 395.5,164.53 395.6,163.54 395.8,163.09 395.9,161.80 396.0,161.80 396.1,158.73 396.2,157.99 396.4,157.37 396.5,156.48 396.6,156.47 396.7,155.47 396.8,153.30 397.0,152.51 397.1,150.82 397.2,149.85 397.3,149.00 397.4,146.88 397.6,145.70 397.7,144.24 397.8,145.61 397.9,143.20 398.0,141.17 398.2,139.04 398.3,138.27 398.4,137.93 398.5,136.91 398.6,134.86 398.8,133.69 398.9,132.53 399.0,131.71 399.1,131.66 399.2,130.07 399.3,127.44 399.5,127.23 399.6,126.38 399.7,124.62 399.8,123.19 399.9,121.27 400.1,122.03 400.2,119.11 400.3,118.70 400.4,116.53 400.5,115.38 400.7,114.62 400.8,114.01 400.9,111.42 401.0,111.70 401.1,111.13 401.3,109.65 401.4,106.66 401.5,105.48 401.6,105.74 401.7,104.29 401.9,102.97 402.0,100.90 402.1,101.30 402.2,99.11 402.3,97.59 402.5,97.22 402.6,96.29 402.7,94.99 402.8,94.01 402.9,93.29 403.0,92.23 403.2,90.26 403.3,88.77 403.4,87.27 403.5,86.81 403.6,85.40 403.8,84.80 403.9,84.70 404.0,83.74 404.1,82.95 404.2,81.16 404.4,80.07 404.5,78.20 404.6,76.83 404.7,76.16 404.8,76.83 405.0,74.46 405.1,74.10 405.2,74.06 405.3,71.55 405.4,71.11 405.6,68.86 405.7,67.49 405.8,68.26 405.9,66.30 406.0,65.80 406.2,65.16 406.3,64.51 406.4,64.11 406.5,61.80 406.6,61.23 406.7,60.32 406.9,60.29 407.0,58.63 407.1,59.27 407.2,56.97 407.3,56.31 407.5,54.74 407.6,54.84 407.7,52.99 407.8,54.23 407.9,53.16 408.1,52.78 408.2,50.40 408.3,51.15 408.4,50.50 408.5,49.06 408.7,47.47 408.8,47.96 408.9,46.73 409.0,47.14 409.1,46.13 409.3,43.45 409.4,43.72 409.5,44.62 409.6,43.84 409.7,42.02 409.9,42.88 410.0,41.13 410.1,40.45 410.2,41.06 410.3,38.80 410.4,38.53 410.6,38.65 410.7,39.08 410.8,38.12 410.9,37.84 411.0,35.79 411.2,36.25 411.3,35.65 411.4,33.35 411.5,34.12 411.6,33.98 411.8,33.34 411.9,34.55 412.0,32.03 412.1,34.92 412.2,34.00 412.4,33.76 412.5,32.58 412.6,33.47 412.7,33.94 412.8,32.66 413.0,31.08 413.1,30.90 413.2,32.67 413.3,33.17 413.4,31.90 413.6,32.76 413.7,32.93 413.8,31.78 413.9,32.79 414.0,33.58 414.1,31.51 414.3,32.67 414.4,33.31 414.5,31.97 414.6,32.62 414.7,30.11 414.9,31.56 415.0,31.24 415.1,30.48 415.2,32.27 415.3,30.81 415.5,32.04 415.6,30.06 415.7,31.60 415.8,32.33 415.9,30.17 416.1,32.17 416.2,32.71 416.3,31.07 416.4,31.56 416.5,31.36 416.7,32.68 416.8,32.12 416.9,30.68 417.0,34.23 417.1,31.08 417.3,31.84 417.4,31.21 417.5,30.58 417.6,32.39 417.7,34.63 417.8,31.43 418.0,32.26 418.1,31.02 418.2,33.18 418.3,32.42 418.4,32.26 418.6,32.87 418.7,32.87 418.8,35.07 418.9,34.79 419.0,34.83 419.2,33.62 419.3,34.99 419.4,36.83 419.5,35.77 419.6,36.33 419.8,36.50 419.9,37.49 420.0,38.47 420.1,38.76 420.2,40.55 420.4,40.30 420.5,40.27 420.6,40.87 420.7,42.38 420.8,42.40 421.0,43.67 421.1,43.53 421.2,45.02 421.3,45.15 421.4,44.92 421.5,46.84 421.7,47.08 421.8,46.87 421.9,47.98 422.0,49.24 422.1,49.79 422.3,50.46 422.4,51.40 422.5,51.98 422.6,52.52 422.7,53.56 422.9,54.87 423.0,55.37 423.1,55.13 423.2,56.10 423.3,57.72 423.5,58.34 423.6,58.65 423.7,59.98 423.8,61.19 423.9,62.58 424.1,61.67 424.2,62.79 424.3,63.02 424.4,65.31 424.5,66.11 424.7,67.38 424.8,68.30 424.9,68.76 425.0,69.18 425.1,71.53 425.2,70.86 425.4,73.37 425.5,73.43 425.6,75.12 425.7,75.05 425.8,76.18 426.0,77.41 426.1,80.29 426.2,79.87 426.3,80.12 426.4,82.28 426.6,82.51 426.7,83.37 426.8,84.09 426.9,84.69 427.0,86.57 427.2,89.53 427.3,88.53 427.4,90.23 427.5,91.20 427.6,91.97 427.8,92.99 427.9,94.89 428.0,94.80 428.1,95.80 428.2,97.86 428.4,98.84 428.5,99.89 428.6,100.82 428.7,101.78 428.8,103.42 428.9,105.09 429.1,106.93 429.2,106.80 429.3,107.93 429.4,109.55 429.5,111.73 429.7,112.99 429.8,111.93 429.9,113.56 430.0,115.16 430.1,116.20 430.3,117.76 430.4,119.34 430.5,119.93 430.6,121.08 430.7,121.71 430.9,123.28 431.0,123.37 431.1,125.46 431.2,127.12 431.3,127.83 431.5,129.46 431.6,130.79 431.7,132.13 431.8,132.09 431.9,133.53 432.1,134.51 432.2,135.21 432.3,137.18 432.4,137.90 432.5,138.56 432.6,139.48 432.8,141.02 432.9,142.81 433.0,144.32 433.1,144.45 433.2,146.52 433.4,148.00 433.5,147.73 433.6,149.04 433.7,150.14 433.8,151.51 434.0,152.27 434.1,153.90 434.2,155.62 434.3,157.42 434.4,156.64 434.6,157.80 434.7,160.38 434.8,160.85 434.9,160.68 435.0,162.52 435.2,162.66 435.3,164.11 435.4,164.61 435.5,166.46 435.6,167.62 435.8,169.10 435.9,169.57 436.0,170.81 436.1,170.88 436.2,171.43 436.3,172.82 436.5,174.24 436.6,175.44 436.7,175.52 436.8,176.43 436.9,178.52 437.1,179.41 437.2,179.36 437.3,180.03 437.4,181.32 437.5,181.95 437.7,183.38 437.8,181.98 437.9,183.88 438.0,184.92 438.1,184.70 438.3,187.27 438.4,188.23 438.5,188.38 438.6,188.67 438.7,190.38 438.9,190.89 439.0,191.56 439.1,191.96 439.2,193.49 439.3,192.87 439.5,193.28 439.6,194.24 439.7,195.91 439.8,195.71 439.9,195.91 440.0,195.66 440.2,196.32 440.3,197.42 440.4,198.24 440.5,199.21 440.6,199.70 440.8,199.58 440.9,200.82 441.0,201.56 441.1,201.35 441.2,202.97 441.4,202.04 441.5,203.90 441.6,202.25 441.7,204.41 441.8,204.76 442.0,205.22 442.1,206.00 442.2,205.48 442.3,206.49 442.4,205.59 442.6,205.69 442.7,204.60 442.8,206.60 442.9,207.44 443.0,206.66 443.2,205.38 443.3,207.15 443.4,207.27 443.5,208.15 443.6,205.55 443.7,207.57 443.9,207.75 444.0,205.57 444.1,206.99 444.2,205.80 444.3,206.00 444.5,206.90 444.6,205.94 444.7,207.65 444.8,206.10 444.9,206.84 445.1,207.14 445.2,205.67 445.3,206.33 445.4,207.91 445.5,206.78 445.7,206.75 445.8,207.50 445.9,207.48 446.0,207.49 446.1,206.51 446.3,207.41 446.4,205.99 446.5,205.79 446.6,206.20 446.7,206.39 446.9,206.85 447.0,205.30 447.1,204.28 447.2,205.35 447.3,206.38 447.4,204.40 447.6,206.66 447.7,205.82 447.8,206.67 447.9,207.09 448.0,207.52 448.2,205.43 448.3,203.34 448.4,203.19 448.5,203.41 448.6,205.09 448.8,205.72 448.9,203.08 449.0,203.06 449.1,201.56 449.2,202.01 449.4,202.73 449.5,200.73 449.6,200.34 449.7,201.01 449.8,199.82 450.0,200.13 450.1,198.14 450.2,198.91 450.3,196.92 450.4,197.07 450.6,196.02 450.7,196.34 450.8,194.55 450.9,194.83 451.0,192.30 451.1,192.45 451.3,191.86 451.4,192.08 451.5,191.71 451.6,190.78 451.7,189.72 451.9,189.55 452.0,189.28 452.1,186.29 452.2,186.35 452.3,186.36 452.5,183.96 452.6,184.64 452.7,184.12 452.8,182.41 452.9,181.36 453.1,181.49 453.2,180.02 453.3,180.90 453.4,178.98 453.5,177.57 453.7,176.97 453.8,175.78 453.9,174.92 454.0,174.34 454.1,173.64 454.3,172.24 454.4,171.12 454.5,170.73 454.6,170.38 454.7,167.48 454.8,167.78 455.0,167.39 455.1,165.82 455.2,165.17 455.3,163.18 455.4,162.96 455.6,162.14 455.7,159.75 455.8,159.65 455.9,158.05 456.0,157.26 456.2,155.87 456.3,155.89 456.4,154.37 456.5,153.94 456.6,152.14 456.8,151.11 456.9,150.14 457.0,148.02 457.1,147.52 457.2,146.61 457.4,145.50 457.5,144.93 457.6,142.03 457.7,141.23 457.8,140.56 458.0,139.98 458.1,139.48 458.2,138.09 458.3,136.98 458.4,135.33 458.5,134.62 458.7,132.88 458.8,131.83 458.9,130.68 459.0,130.37 459.1,128.17 459.3,127.83 459.4,125.90 459.5,124.60 459.6,125.04 459.7,123.86 459.9,121.11 460.0,121.47 460.1,120.16 460.2,117.56 460.3,117.99 460.5,115.71 460.6,114.00 460.7,113.07 460.8,112.46 460.9,111.31 461.1,110.45 461.2,107.79 461.3,108.01 461.4,106.55 461.5,105.06 461.7,104.74 461.8,102.22 461.9,102.60 462.0,102.06 462.1,100.20 462.2,99.08 462.4,97.20 462.5,95.74 462.6,95.54 462.7,95.27 462.8,93.99 463.0,91.40 463.1,91.17 463.2,91.01 463.3,88.25 463.4,87.85 463.6,86.39 463.7,85.31 463.8,83.49 463.9,82.72 464.0,83.10 464.2,80.87 464.3,80.20 464.4,78.39 464.5,78.29 464.6,76.13 464.8,75.34 464.9,75.98 465.0,74.56 465.1,73.28 465.2,72.42 465.4,70.08 465.5,70.19 465.6,69.96 465.7,67.84 465.8,66.93 465.9,67.61 466.1,66.69 466.2,64.44 466.3,63.18 466.4,62.65 466.5,62.00 466.7,60.99 466.8,60.23 466.9,59.47 467.0,58.36 467.1,58.25 467.3,56.36 467.4,56.41 467.5,54.50 467.6,54.39 467.7,53.86 467.9,53.14 468.0,52.82 468.1,52.61 468.2,51.66 468.3,50.16 468.5,48.94 468.6,48.19 468.7,48.88 468.8,45.83 468.9,46.37 469.1,44.83 469.2,45.97 469.3,43.23 469.4,44.67 469.5,43.52 469.6,42.49 469.8,40.81 469.9,41.19 470.0,40.72 470.1,40.27 470.2,40.92 470.4,40.98 470.5,39.61 470.6,39.86 470.7,36.96 470.8,37.58 471.0,36.27 471.1,36.06 471.2,34.79 471.3,36.57 471.4,35.97 471.6,34.83 471.7,35.07 471.8,34.42 471.9,32.53 472.0,33.27 472.2,32.05 472.3,32.81 472.4,32.83 472.5,33.22 472.6,32.31 472.8,31.53 472.9,31.58 473.0,31.08 473.1,32.75 473.2,32.98 473.3,31.65 473.5,32.50 473.6,30.94 473.7,33.33 473.8,30.59 473.9,30.84 474.1,34.19 474.2,33.52 474.3,30.77 474.4,32.01 474.5,33.08 474.7,30.87 474.8,30.76 474.9,31.94 475.0,31.76 475.1,30.31 475.3,33.02 475.4,31.37 475.5,31.97 475.6,33.34 475.7,30.67 475.9,33.28 476.0,32.05 476.1,32.93 476.2,32.66 476.3,31.18 476.5,33.25 476.6,31.71 476.7,31.01 476.8,31.10 476.9,33.32 477.0,33.75 477.2,31.96 477.3,33.16 477.4,31.40 477.5,34.76 477.6,31.04 477.8,32.99 477.9,33.66 478.0,33.62 478.1,34.60 478.2,32.82 478.4,32.30 478.5,33.53 478.6,33.69 478.7,33.16 478.8,35.15 479.0,34.81 479.1,35.90 479.2,36.43 479.3,36.54 479.4,37.73 479.6,37.49 479.7,38.75 479.8,36.73 479.9,38.25 480.0,38.90 480.2,39.48 480.3,38.94 480.4,41.17 480.5,41.59 480.6,42.79 480.7,42.48 480.9,42.80 481.0,43.91 481.1,44.06 481.2,44.33 481.3,46.28 481.5,45.72 481.6,47.06 481.7,48.60 481.8,48.33 481.9,49.51 482.1,49.28 482.2,50.49 482.3,50.45 482.4,52.54 482.5,51.77 482.7,52.73 482.8,54.63 482.9,55.91 483.0,55.37 483.1,56.25 483.3,57.52 483.4,58.46 483.5,59.19 483.6,60.43 483.7,62.28 483.9,62.71 484.0,62.52 484.1,63.72 484.2,63.84 484.3,64.52 484.4,65.62 484.6,67.63 484.7,68.27 484.8,68.20 484.9,69.52 485.0,70.66 485.2,71.76 485.3,72.89 485.4,72.45 485.5,75.08 485.6,74.90 485.8,77.14 485.9,77.50 486.0,77.68 486.1,79.12 486.2,81.08 486.4,82.01 486.5,83.71 486.6,83.06 486.7,85.57 486.8,86.50 487.0,86.24 487.1,88.50 487.2,88.84 487.3,90.18 487.4,90.92 487.6,92.80 487.7,94.34 487.8,95.25 487.9,94.62 488.0,96.24 488.1,97.72 488.3,98.81 488.4,100.20 488.5,101.90 488.6,102.22 488.7,104.52 488.9,105.61 489.0,106.68 489.1,107.73 489.2,108.18 489.3,110.67 489.5,111.97 489.6,112.47 489.7,113.83 489.8,114.50 489.9,115.34 490.1,116.12 490.2,117.10 490.3,119.87 490.4,119.97 490.5,122.29 490.7,122.32 490.8,123.29 490.9,125.35 491.0,125.57 491.1,126.85 491.2,126.98 491.4,129.80 491.5,131.26 491.6,131.27 491.7,133.67 491.8,134.20 492.0,135.35 492.1,135.94 492.2,137.85 492.3,139.33 492.4,140.06 492.6,140.03 492.7,142.78 492.8,142.42 492.9,144.06 493.0,145.85 493.2,146.34 493.3,148.12 493.4,149.03 493.5,149.86 493.6,151.54 493.8,153.14 493.9,153.20 494.0,154.27 494.1,155.20 494.2,157.17 494.4,156.82 494.5,158.85 494.6,159.09 494.7,160.25 494.8,162.04 494.9,162.84 495.1,162.87 495.2,165.06 495.3,166.82 495.4,166.25 495.5,167.30 495.7,168.69 495.8,170.04 495.9,171.39 496.0,172.69 496.1,173.03 496.3,174.43 496.4,174.87 496.5,175.79 496.6,177.03 496.7,177.63 496.9,179.19 497.0,179.28 497.1,181.51 497.2,180.50 497.3,181.20 497.5,182.75 497.6,182.86 497.7,184.31 497.8,185.97 497.9,185.64 498.1,187.12 498.2,187.16 498.3,189.59 498.4,189.06 498.5,190.69 498.6,191.00 498.8,190.63 498.9,192.47 499.0,193.80 499.1,193.71 499.2,194.80 499.4,195.05 499.5,196.68 499.6,194.64 499.7,197.32 499.8,197.71 500.0,198.33 500.1,198.42 500.2,199.38 500.3,200.58 500.4,201.23 500.6,200.62 500.7,200.89 500.8,200.76 500.9,201.78 501.0,201.71 501.2,204.47 501.3,204.15 501.4,204.63 501.5,204.66 501.6,205.87 501.8,206.50 501.9,205.45 502.0,205.33 502.1,206.96 502.2,205.72 502.3,204.90 502.5,205.63 502.6,206.69 502.7,205.52 502.8,208.37 502.9,205.91 503.1,207.54 503.2,208.48 503.3,208.95 503.4,205.84 503.5,206.14 503.7,205.48 503.8,206.89 503.9,207.04 504.0,208.05 504.1,210.16 504.3,209.52 504.4,208.08 504.5,207.90 504.6,209.12 504.7,208.74 504.9,209.03 505.0,209.00 505.1,205.78 505.2,206.58 505.3,208.64 505.5,208.71 505.6,207.28 505.7,206.40 505.8,209.14 505.9,206.98 506.0,207.63 506.2,205.62 506.3,209.99 506.4,206.81 506.5,207.23 506.6,206.27 506.8,207.04 506.9,205.45 507.0,206.67 507.1,208.12 507.2,206.30 507.4,208.09 507.5,205.13 507.6,208.18 507.7,207.98 507.8,205.85 508.0,207.57 508.1,207.53 508.2,207.28 508.3,207.23 508.4,204.64 508.6,205.15 508.7,204.14 508.8,203.91 508.9,202.01 509.0,205.46 509.2,201.96 509.3,202.94 509.4,202.81 509.5,200.64 509.6,200.39 509.7,201.32 509.9,198.43 510.0,198.64 510.1,197.64 510.2,197.84 510.3,197.04 510.5,196.57 510.6,195.98 510.7,194.60 510.8,195.57 510.9,195.31 511.1,194.82 511.2,192.38 511.3,193.38 511.4,191.36 511.5,191.89 511.7,190.77 511.8,189.93 511.9,188.41 512.0,187.34 512.1,187.34 512.3,187.74 512.4,186.00 512.5,184.42 512.6,183.65 512.7,183.30 512.9,182.58 513.0,181.80 513.1,180.29 513.2,179.99 513.3,179.20 513.4,177.72 513.6,177.23 513.7,176.89 513.8,175.73 513.9,174.42 514.0,173.81 514.2,172.36 514.3,171.15 514.4,171.58 514.5,170.22 514.6,168.78 514.8,168.04 514.9,165.91 515.0,166.83 515.1,163.87 515.2,162.73 515.4,163.43 515.5,163.07 515.6,160.41 515.7,160.77 515.8,158.77 516.0,157.91 516.1,156.14 516.2,154.97 516.3,153.82 516.4,153.90 516.6,152.30 516.7,150.66 516.8,149.77 516.9,149.04 517.0,147.17 517.1,145.97 517.3,145.28 517.4,144.16 517.5,143.71 517.6,140.91 517.7,140.11 517.9,139.67 518.0,137.89 518.1,137.18 518.2,136.45 518.3,135.68 518.5,133.95 518.6,132.43 518.7,132.14 518.8,129.95 518.9,130.03 519.1,128.47 519.2,126.32 519.3,124.85 519.4,123.81 519.5,122.68 519.7,122.18 519.8,122.47 519.9,119.76 520.0,118.47 520.1,118.08 520.3,116.97 520.4,115.28 520.5,113.38 520.6,112.80 520.7,110.50 520.8,110.54 521.0,108.16 521.1,108.14 521.2,106.36 521.3,105.71 521.4,105.06 521.6,103.52 521.7,103.84 521.8,101.09 521.9,99.24 522.0,99.69 522.2,97.82 522.3,96.33 522.4,95.90 522.5,94.34 522.6,92.77 522.8,91.95 522.9,91.09 523.0,89.95 523.1,88.51 523.2,87.46 523.4,86.53 523.5,84.89 523.6,83.92 523.7,83.02 523.8,82.18 524.0,81.56 524.1,79.76 524.2,79.90 524.3,79.87 524.4,77.86 524.5,76.83 524.7,76.01 524.8,73.88 524.9,72.87 525.0,72.12 525.1,72.50 525.3,70.02 525.4,70.41 525.5,68.02 525.6,67.97 525.7,66.78 525.9,65.08 526.0,63.93 526.1,64.78 526.2,63.76 526.3,62.52 526.5,61.77 526.6,61.27 526.7,59.24 526.8,58.79 526.9,57.97 527.1,57.96 527.2,56.90 527.3,55.71 527.4,54.71 527.5,53.16 527.7,52.90 527.8,52.92 527.9,51.80 528.0,50.43 528.1,49.25 528.2,48.96 528.4,49.72 528.5,47.98 528.6,47.45 528.7,45.97 528.8,46.07 529.0,45.69 529.1,45.53 529.2,45.08 529.3,43.30 529.4,41.99 529.6,41.57 529.7,41.05 529.8,40.78 529.9,39.07 530.0,40.24 530.2,39.14 530.3,39.37 530.4,38.33 530.5,39.51 530.6,35.50 530.8,35.45 530.9,35.73 531.0,37.08 531.1,35.08 531.2,35.23 531.4,36.28 531.5,34.21 531.6,35.20 531.7,33.78 531.8,32.90 531.9,34.35 532.1,33.78 532.2,32.68 532.3,32.14 532.4,32.21 532.5,33.86 532.7,31.79 532.8,30.79 532.9,32.95"/>
<polyline stroke="#4169e1" points="55.5,117.92 55.6,117.90 55.7,117.65 55.9,117.75 56.0,117.70 56.1,117.98 56.2,117.82 56.3,117.77 56.5,118.00 56.6,117.92 56.7,117.83 56.8,117.91 56.9,117.83 57.1,117.63 57.2,117.77 57.3,117.88 57.4,117.81 57.5,117.89 57.6,117.73 57.8,117.63 57.9,117.66 58.0,117.60 58.1,117.73 58.2,117.79 58.4,117.65 58.5,117.84 58.6,117.73 58.7,117.84 58.8,117.61 59.0,117.59 59.1,117.64 59.2,117.73 59.3,117.67 59.4,117.66 59.6,117.65 59.7,117.57 59.8,117.47 59.9,117.51 60.0,117.78 60.2,117.66 60.3,117.36 60.4,117.65 60.5,117.47 60.6,117.50 60.8,117.50 60.9,117.48 61.0,117.46 61.1,117.61 61.2,117.41 61.3,117.30 61.5,117.25 61.6,117.38 61.7,117.54 61.8,117.46 61.9,117.56 62.1,117.47 62.2,117.34 62.3,117.22 62.4,117.40 62.5,117.46 62.7,117.26 62.8,117.26 62.9,117.37 63.0,117.44 63.1,117.15 63.3,117.12 63.4,117.33 63.5,117.29 63.6,117.01 63.7,117.12 63.9,117.07 64.0,117.00 64.1,117.26 64.2,116.98 64.3,117.11 64.5,117.00 64.6,117.26 64.7,117.26 64.8,116.88 64.9,117.08 65.0,117.02 65.2,116.85 65.3,116.99 65.4,116.94 65.5,117.07 65.6,116.86 65.8,116.96 65.9,116.85 66.0,116.86 66.1,116.91 66.2,116.94 66.4,116.68 66.5,116.67 66.6,116.71 66.7,116.79 66.8,116.89 67.0,116.65 67.1,116.69 67.2,116.57 67.3,116.67 67.4,116.69 67.6,116.77 67.7,116.76 67.8,116.75 67.9,116.67 68.0,116.48 68.2,116.47 68.3,116.41 68.4,116.56 68.5,116.43 68.6,116.63 68.7,116.54 68.9,116.29 69.0,116.20 69.1,116.36 69.2,116.66 69.3,116.48 69.5,116.18 69.6,116.33 69.7,116.26 69.8,116.44 69.9,116.22 70.1,116.23 70.2,116.36 70.3,116.44 70.4,116.08 70.5,116.44 70.7,116.16 70.8,116.36 70.9,116.34 71.0,116.16 71.1,116.36 71.3,115.88 71.4,116.12 71.5,116.04 71.6,116.18 71.7,116.04 71.9,115.83 72.0,116.07 72.1,116.06 72.2,116.02 72.3,116.05 72.4,116.13 72.6,115.66 72.7,115.69 72.8,115.95 72.9,115.67 73.0,116.04 73.2,115.94 73.3,116.19 73.4,115.97 73.5,116.04 73.6,115.89 73.8,115.51 73.9,115.65 74.0,115.91 74.1,115.65 74.2,115.59 74.4,115.95 74.5,115.96 74.6,115.22 74.7,115.68 74.8,115.69 75.0,115.56 75.1,115.43 75.2,115.44 75.3,115.37 75.4,115.17 75.6,115.60 75.7,115.16 75.8,115.18 75.9,115.41 76.0,115.24 76.1,115.74 76.3,115.19 76.4,115.23 76.5,115.04 76.6,115.22 76.7,115.36 76.9,115.44 77.0,115.41 77.1,115.52 77.2,115.12 77.3,115.21 77.5,115.08 77.6,115.42 77.7,115.55 77.8,115.05 77.9,115.14 78.1,115.30 78.2,115.24 78.3,115.13 78.4,115.11 78.5,115.40 78.7,115.23 78.8,115.10 78.9,114.92 79.0,115.24 79.1,115.34 79.3,115.06 79.4,115.38 79.5,115.19 79.6,115.36 79.7,115.28 79.8,115.29 80.0,115.24 80.1,115.51 80.2,115.55 80.3,115.02 80.4,115.37 80.6,115.12 80.7,115.41 80.8,115.28 80.9,115.26 81.0,115.64 81.2,115.56 81.3,115.59 81.4,115.60 81.5,115.49 81.6,115.56 81.8,115.74 81.9,115.81 82.0,115.97 82.1,115.61 82.2,115.82 82.4,115.54 82.5,116.00 82.6,115.71 82.7,115.98 82.8,115.98 83.0,115.70 83.1,116.10 83.2,115.99 83.3,116.17 83.4,116.22 83.5,116.16 83.7,116.10 83.8,116.63 83.9,116.32 84.0,116.50 84.1,116.23 84.3,116.90 84.4,116.45 84.5,116.66 84.6,116.88 84.7,116.79 84.9,117.28 85.0,117.09 85.1,116.95 85.2,117.12 85.3,117.33 85.5,117.15 85.6,117.45 85.7,117.68 85.8,117.45 85.9,117.65 86.1,117.76 86.2,118.02 86.3,117.78 86.4,117.95 86.5,118.27 86.7,118.23 86.8,118.36 86.9,118.24 87.0,118.74 87.1,118.49 87.2,118.59 87.4,118.80 87.5,118.91 87.6,118.88 87.7,119.32 87.8,119.37 88.0,119.01 88.1,119.25 88.2,119.57 88.3,119.50 88.4,119.38 88.6,119.70 88.7,119.94 88.8,120.05 88.9,120.24 89.0,119.89 89.2,120.27 89.3,120.38 89.4,120.26 89.5,120.51 89.6,120.90 89.8,120.88 89.9,120.94 90.0,120.87 90.1,121.11 90.2,121.30 90.4,121.35 90.5,121.49 90.6,121.41 90.7,121.59 90.8,121.58 90.9,121.77 91.1,121.90 91.2,121.97 91.3,122.35 91.4,122.34 91.5,122.21 91.7,122.23 91.8,122.59 91.9,122.40 92.0,122.76 92.1,122.67 92.3,123.15 92.4,123.09 92.5,123.30 92.6,123.41 92.7,123.37 92.9,123.13 93.0,123.38 93.1,123.45 93.2,123.89 93.3,123.77 93.5,124.22 93.6,124.08 93.7,123.89 93.8,124.10 93.9,124.42 94.1,124.41 94.2,124.51 94.3,124.70 94.4,124.45 94.5,124.54 94.6,124.57 94.8,125.00 94.9,125.08 95.0,125.10 95.1,124.88 95.2,125.04 95.4,125.45 95.5,125.19 95.6,125.19 95.7,125.52 95.8,125.22 96.0,125.53 96.1,125.65 96.2,125.42 96.3,125.67 96.4,126.07 96.6,125.66 96.7,125.74 96.8,126.20 96.9,125.81 97.0,126.28 97.2,125.95 97.3,125.89 97.4,126.16 97.5,126.45 97.6,126.06 97.8,126.53 97.9,126.53 98.0,126.56 98.1,126.29 98.2,126.54 98.3,126.63 98.5,126.88 98.6,126.69 98.7,126.50 98.8,126.78 98.9,126.58 99.1,126.78 99.2,127.04 99.3,126.81 99.4,126.54 99.5,126.63 99.7,126.78 99.8,126.87 99.9,126.68 100.0,127.07 100.1,126.94 100.3,126.69 100.4,127.47 100.5,127.33 100.6,126.96 100.7,127.68 100.9,127.22 101.0,127.26 101.1,127.49 101.2,127.33 101.3,127.68 101.5,127.35 101.6,126.94 101.7,127.50 101.8,127.46 101.9,127.40 102.0,127.71 102.2,127.35 102.3,127.71 102.4,127.56 102.5,128.11 102.6,127.85 102.8,127.85 102.9,127.47 103.0,128.13 103.1,127.56 103.2,127.50 103.4,127.79 103.5,127.66 103.6,127.90 103.7,127.69 103.8,128.00 104.0,128.31 104.1,128.32 104.2,127.77 104.3,127.59 104.4,128.11 104.6,128.14 104.7,128.43 104.8,128.25 104.9,128.06 105.0,127.78 105.1,128.77 105.3,128.22 105.4,127.83 105.5,128.68 105.6,128.17 105.7,128.35 105.9,128.12 106.0,128.06 106.1,128.74 106.2,128.93 106.3,128.92 106.5,128.77 106.6,128.28 106.7,128.86 106.8,128.15 106.9,129.17 107.1,129.25 107.2,127.61 107.3,128.60 107.4,129.07 107.5,128.00 107.7,129.69 107.8,128.46 107.9,127.65 108.0,129.78 108.1,129.07 108.3,129.58 108.4,128.54 108.5,128.29 108.6,128.32 108.7,128.79 108.8,129.42 109.0,129.23 109.1,128.51 109.2,128.14 109.3,129.03 109.4,129.01 109.6,128.39 109.7,128.23 109.8,128.25 109.9,128.76 110.0,128.71 110.2,128.28 110.3,128.19 110.4,128.24 110.5,128.23 110.6,128.00 110.8,128.04 110.9,128.55 111.0,127.75 111.1,128.21 111.2,127.95 111.4,127.96 111.5,127.65 111.6,127.63 111.7,127.57 111.8,127.34 112.0,127.43 112.1,127.06 112.2,127.18 112.3,126.68 112.4,127.19 112.5,126.82 112.7,126.46 112.8,126.37 112.9,126.40 113.0,126.51 113.1,126.14 113.3,126.24 113.4,125.96 113.5,125.69 113.6,125.89 113.7,125.49 113.9,125.66 114.0,125.58 114.1,125.50 114.2,125.18 114.3,125.10 114.5,124.96 114.6,124.82 114.7,124.56 114.8,124.19 114.9,124.37 115.1,124.06 115.2,123.88 115.3,123.71 115.4,123.62 115.5,123.53 115.7,123.41 115.8,122.91 115.9,122.72 116.0,122.67 116.1,122.53 116.2,122.60 116.4,121.93 116.5,121.84 116.6,121.92 116.7,121.44 116.8,121.32 117.0,120.86 117.1,121.07 117.2,120.85 117.3,120.52 117.4,120.46 117.6,120.00 117.7,120.19 117.8,119.67 117.9,119.32 118.0,119.40 118.2,119.32 118.3,118.74 118.4,118.77 118.5,118.33 118.6,118.07 118.8,118.27 118.9,117.58 119.0,117.47 119.1,117.31 119.2,116.82 119.4,116.79 119.5,116.48 119.6,116.61 119.7,116.32 119.8,116.20 119.9,115.55 120.1,115.88 120.2,115.15 120.3,115.22 120.4,114.93 120.5,114.86 120.7,114.40 120.8,114.08 120.9,113.93 121.0,113.81 121.1,113.23 121.3,113.28 121.4,113.27 121.5,112.88 121.6,113.00 121.7,112.69 121.9,112.26 122.0,112.03 122.1,112.23 122.2,111.80 122.3,111.46 122.5,111.78 122.6,111.28 122.7,111.26 122.8,110.34 122.9,110.74 123.1,109.99 123.2,110.46 123.3,110.30 123.4,110.13 123.5,109.78 123.6,109.34 123.8,109.66 123.9,109.04 124.0,108.70 124.1,108.87 124.2,108.45 124.4,108.35 124.5,108.42 124.6,108.01 124.7,108.10 124.8,108.17 125.0,107.52 125.1,107.44 125.2,107.12 125.3,107.34 125.4,107.09 125.6,107.00 125.7,106.96 125.8,106.65 125.9,106.58 126.0,106.31 126.2,106.53 126.3,105.88 126.4,106.25 126.5,106.03 126.6,105.62 126.8,105.61 126.9,105.50 127.0,105.75 127.1,105.38 127.2,105.15 127.3,105.04 127.5,104.95 127.6,104.62 127.7,105.04 127.8,104.94 127.9,104.24 128.1,104.79 128.2,104.35 128.3,104.45 128.4,104.42 128.5,104.04 128.7,104.13 128.8,103.60 128.9,103.99 129.0,103.89 129.1,103.61 129.3,103.71 129.4,103.85 129.5,103.37 129.6,103.09 129.7,103.18 129.9,103.14 130.0,102.88 130.1,103.31 130.2,103.11 130.3,103.46 130.5,103.30 130.6,102.90 130.7,102.74 130.8,103.47 130.9,102.72 131.0,103.39 131.2,102.90 131.3,102.99 131.4,102.75 131.5,102.66 131.6,103.21 131.8,102.56 131.9,102.34 132.0,102.84 132.1,103.09 132.2,102.78 132.4,103.10 132.5,102.64 132.6,102.98 132.7,102.31 132.8,102.35 133.0,102.38 133.1,102.61 133.2,102.06 133.3,102.62 133.4,101.97 133.6,102.18 133.7,102.10 133.8,102.20 133.9,102.43 134.0,102.06 134.2,102.16 134.3,102.46 134.4,101.73 134.5,102.35 134.6,102.00 134.7,102.24 134.9,102.35 135.0,101.81 135.1,101.50 135.2,101.38 135.3,101.79 135.5,102.09 135.6,102.00 135.7,102.11 135.8,101.77 135.9,102.46 136.1,101.84 136.2,101.14 136.3,101.68 136.4,101.01 136.5,101.26 136.7,101.48 136.8,101.97 136.9,101.65 137.0,101.89 137.1,101.35 137.3,101.13 137.4,101.06 137.5,100.90 137.6,102.18 137.7,102.12 137.9,102.11 138.0,102.26 138.1,100.67 138.2,102.05 138.3,100.10 138.4,101.86 138.6,101.42 138.7,100.58 138.8,100.18 138.9,100.28 139.0,101.63 139.2,100.59 139.3,102.14 139.4,101.33 139.5,102.38 139.6,102.17 139.8,101.84 139.9,101.83 140.0,100.97 140.1,101.70 140.2,101.05 140.4,101.90 140.5,102.26 140.6,101.23 140.7,101.49 140.8,102.05 141.0,102.29 141.1,101.79 141.2,102.31 141.3,101.96 141.4,102.37 141.6,102.66 141.7,102.61 141.8,102.44 141.9,102.58 142.0,102.64 142.1,102.89 142.3,103.14 142.4,102.96 142.5,103.49 142.6,103.70 142.7,103.71 142.9,103.48 143.0,103.65 143.1,104.00 143.2,104.17 143.3,104.56 143.5,104.18 143.6,104.76 143.7,104.63 143.8,105.21 143.9,105.03 144.1,104.84 144.2,105.50 144.3,105.88 144.4,105.54 144.5,106.02 144.7,106.38 144.8,106.25 144.9,106.62 145.0,106.59 145.1,107.23 145.3,107.15 145.4,107.21 145.5,107.96 145.6,107.99 145.7,107.96 145.8,108.24 146.0,108.23 146.1,108.78 146.2,109.01 146.3,109.41 146.4,109.48 146.6,109.45 146.7,109.86 146.8,110.19 146.9,110.82 147.0,110.56 147.2,111.38 147.3,111.50 147.4,111.87 147.5,111.86 147.6,112.07 147.8,112.30 147.9,113.22 148.0,112.54 148.1,113.17 148.2,113.65 148.4,114.10 148.5,114.43 148.6,114.57 148.7,114.98 148.8,115.22 149.0,115.40 149.1,115.67 149.2,115.90 149.3,115.93 149.4,116.33 149.5,116.65 149.7,117.46 149.8,117.69 149.9,117.44 150.0,118.28 150.1,118.67 150.3,119.17 150.4,119.11 150.5,119.84 150.6,119.87 150.7,120.18 150.9,120.31 151.0,120.71 151.1,120.95 151.2,121.81 151.3,121.57 151.5,121.64 151.6,122.30 151.7,122.37 151.8,123.02 151.9,122.90 152.1,123.81 152.2,123.76 152.3,124.46 152.4,124.83 152.5,125.33 152.7,125.69 152.8,125.66 152.9,125.70 153.0,125.97 153.1,126.33 153.2,126.73 153.4,127.56 153.5,127.65 153.6,128.02 153.7,127.88 153.8,128.33 154.0,128.74 154.1,129.15 154.2,129.24 154.3,129.58 154.4,129.74 154.6,130.37 154.7,129.96 154.8,130.71 154.9,130.93 155.0,131.47 155.2,131.24 155.3,131.98 155.4,132.13 155.5,132.30 155.6,132.72 155.8,132.97 155.9,132.95 156.0,133.33 156.1,133.83 156.2,133.67 156.4,134.11 156.5,134.47 156.6,134.64 156.7,134.54 156.8,135.15 156.9,135.34 157.1,135.74 157.2,135.67 157.3,136.27 157.4,136.23 157.5,136.52 157.7,136.68 157.8,136.88 157.9,137.31 158.0,137.31 158.1,137.03 158.3,137.44 158.4,137.21 158.5,138.27 158.6,138.42 158.7,138.15 158.9,138.42 159.0,138.44 159.1,139.21 159.2,139.07 159.3,138.82 159.5,138.57 159.6,138.75 159.7,139.82 159.8,139.23 159.9,140.11 160.1,139.90 160.2,140.32 160.3,140.12 160.4,140.79 160.5,140.15 160.6,140.53 160.8,140.59 160.9,140.97 161.0,140.47 161.1,141.10 161.2,141.16 161.4,141.10 161.5,141.57 161.6,141.46 161.7,141.07 161.8,141.44 162.0,141.31 162.1,141.52 162.2,141.28 162.3,142.30 162.4,142.14 162.6,141.92 162.7,141.42 162.8,142.51 162.9,141.98 163.0,142.32 163.2,141.53 163.3,141.38 163.4,142.81 163.5,142.26 163.6,142.66 163.8,142.48 163.9,142.83 164.0,142.48 164.1,142.47 164.2,141.98 164.3,141.90 164.5,142.69 164.6,142.67 164.7,142.33 164.8,142.90 164.9,143.19 165.1,142.81 165.2,143.04 165.3,143.01 165.4,142.09 165.5,142.62 165.7,142.02 165.8,142.65 165.9,142.73 166.0,142.76 166.1,142.91 166.3,142.49 166.4,143.28 166.5,142.42 166.6,142.02 166.7,142.73 166.9,143.07 167.0,143.39 167.1,142.43 167.2,143.04 167.3,143.40 167.5,143.72 167.6,142.95 167.7,142.22 167.8,142.66 167.9,143.53 168.0,142.14 168.2,143.81 168.3,142.17 168.4,142.99 168.5,143.14 168.6,142.46 168.8,142.76 168.9,143.28 169.0,143.13 169.1,142.36 169.2,142.88 169.4,142.18 169.5,141.80 169.6,143.43 169.7,143.11 169.8,143.23 170.0,141.45 170.1,142.64 170.2,142.55 170.3,141.80 170.4,142.32 170.6,142.15 170.7,141.79 170.8,142.00 170.9,141.76 171.0,142.03 171.2,141.11 171.3,140.51 171.4,140.40 171.5,140.38 171.6,140.67 171.7,140.59 171.9,140.13 172.0,140.51 172.1,139.39 172.2,139.48 172.3,139.36 172.5,139.49 172.6,138.75 172.7,138.69 172.8,138.51 172.9,138.27 173.1,137.66 173.2,138.33 173.3,137.82 173.4,138.16 173.5,137.40 173.7,137.26 173.8,137.07 173.9,136.59 174.0,136.40 174.1,135.91 174.3,136.78 174.4,135.49 174.5,135.19 174.6,135.76 174.7,134.66 174.9,134.93 175.0,134.19 175.1,133.98 175.2,134.03 175.3,133.25 175.4,132.85 175.6,132.99 175.7,133.14 175.8,132.18 175.9,131.98 176.0,131.88 176.2,131.51 176.3,131.36 176.4,130.60 176.5,130.02 176.6,130.32 176.8,129.58 176.9,129.36 177.0,129.08 177.1,129.04 177.2,128.40 177.4,127.59 177.5,127.54 177.6,126.93 177.7,126.65 177.8,125.91 178.0,125.90 178.1,125.34 178.2,125.31 178.3,124.70 178.4,124.47 178.6,124.12 178.7,123.35 178.8,123.34 178.9,122.72 179.0,122.91 179.1,121.99 179.3,121.99 179.4,120.89 179.5,121.33 179.6,120.33 179.7,120.47 179.9,119.72 180.0,118.86 180.1,118.91 180.2,118.58 180.3,117.72 180.5,117.52 180.6,117.36 180.7,116.89 180.8,116.58 180.9,115.76 181.1,115.37 181.2,115.31 181.3,114.24 181.4,114.74 181.5,114.01 181.7,113.47 181.8,112.94 181.9,112.92 182.0,112.55 182.1,111.75 182.3,111.45 182.4,111.01 182.5,110.63 182.6,110.09 182.7,110.28 182.8,109.20 183.0,109.36 183.1,108.69 183.2,108.82 183.3,107.82 183.4,107.41 183.6,107.25 183.7,106.77 183.8,106.12 183.9,105.60 184.0,105.68 184.2,105.32 184.3,105.22 184.4,104.90 184.5,104.41 184.6,104.06 184.8,103.37 184.9,103.70 185.0,102.95 185.1,102.03 185.2,101.55 185.4,102.11 185.5,101.50 185.6,101.49 185.7,100.52 185.8,100.70 186.0,100.04 186.1,99.62 186.2,100.10 186.3,99.49 186.4,98.55 186.5,98.50 186.7,98.27 186.8,98.13 186.9,97.83 187.0,97.29 187.1,96.98 187.3,97.20 187.4,96.80 187.5,96.36 187.6,96.14 187.7,95.91 187.9,95.86 188.0,94.96 188.1,94.68 188.2,94.70 188.3,94.14 188.5,93.78 188.6,93.71 188.7,93.25 188.8,93.22 188.9,92.99 189.1,93.21 189.2,92.80 189.3,92.86 189.4,91.91 189.5,91.93 189.7,91.93 189.8,92.06 189.9,91.67 190.0,91.51 190.1,91.41 190.2,91.32 190.4,91.35 190.5,90.79 190.6,90.79 190.7,91.01 190.8,89.94 191.0,90.48 191.1,90.30 191.2,90.29 191.3,89.28 191.4,90.01 191.6,89.32 191.7,89.14 191.8,88.65 191.9,89.30 192.0,88.74 192.2,89.42 192.3,88.66 192.4,89.09 192.5,88.00 192.6,88.48 192.8,89.20 192.9,88.75 193.0,89.14 193.1,89.39 193.2,88.36 193.4,87.75 193.5,88.29 193.6,88.38 193.7,88.66 193.8,87.79 193.9,88.29 194.1,88.12 194.2,88.68 194.3,87.32 194.4,87.74 194.5,87.44 194.7,87.31 194.8,88.03 194.9,88.26 195.0,87.81 195.1,88.95 195.3,87.30 195.4,88.18 195.5,87.16 195.6,87.61 195.7,87.61 195.9,87.16 196.0,87.69 196.1,87.40 196.2,88.35 196.3,87.97 196.5,86.96 196.6,88.14 196.7,87.55 196.8,88.04 196.9,87.38 197.1,88.20 197.2,87.70 197.3,87.37 197.4,87.48 197.5,88.61 197.6,86.95 197.8,86.67 197.9,86.18 198.0,86.93 198.1,86.83 198.2,87.71 198.4,87.11 198.5,86.91 198.6,87.49 198.7,85.94 198.8,86.93 199.0,88.27 199.1,88.29 199.2,88.23 199.3,87.91 199.4,86.92 199.6,86.76 199.7,88.17 199.8,88.53 199.9,88.49 200.0,87.77 200.2,87.68 200.3,88.63 200.4,88.47 200.5,88.58 200.6,88.65 200.7,89.20 200.9,88.26 201.0,88.93 201.1,90.07 201.2,90.09 201.3,89.07 201.5,89.79 201.6,90.26 201.7,90.07 201.8,90.42 201.9,90.27 202.1,90.46 202.2,91.28 202.3,90.41 202.4,91.37 202.5,91.88 202.7,92.16 202.8,91.66 202.9,92.63 203.0,92.63 203.1,92.94 203.3,93.29 203.4,93.30 203.5,93.72 203.6,94.55 203.7,94.29 203.9,94.79 204.0,94.29 204.1,95.24 204.2,95.08 204.3,95.45 204.4,95.80 204.6,96.02 204.7,96.37 204.8,96.73 204.9,97.30 205.0,97.25 205.2,97.66 205.3,98.20 205.4,98.26 205.5,99.21 205.6,98.97 205.8,99.81 205.9,99.96 206.0,99.93 206.1,100.31 206.2,100.94 206.4,101.88 206.5,102.21 206.6,102.41 206.7,102.86 206.8,103.40 207.0,103.65 207.1,104.47 207.2,103.83 207.3,104.93 207.4,105.25 207.6,106.06 207.7,106.05 207.8,106.42 207.9,107.47 208.0,107.43 208.1,108.02 208.3,108.42 208.4,108.91 208.5,109.94 208.6,109.54 208.7,110.34 208.9,110.70 209.0,111.96 209.1,111.74 209.2,111.84 209.3,112.58 209.5,113.08 209.6,114.02 209.7,113.87 209.8,115.18 209.9,115.00 210.1,116.26 210.2,116.52 210.3,116.87 210.4,117.66 210.5,118.07 210.7,118.31 210.8,118.39 210.9,119.70 211.0,120.22 211.1,120.43 211.3,120.95 211.4,121.48 211.5,121.21 211.6,122.32 211.7,123.14 211.8,123.10 212.0,124.25 212.1,123.89 212.2,124.29 212.3,124.98 212.4,126.28 212.6,126.25 212.7,126.82 212.8,127.57 212.9,127.65 213.0,128.60 213.2,129.53 213.3,129.35 213.4,130.15 213.5,130.83 213.6,131.41 213.8,130.95 213.9,131.84 214.0,131.99 214.1,132.40 214.2,133.10 214.4,133.52 214.5,134.75 214.6,134.73 214.7,135.58 214.8,136.42 215.0,136.63 215.1,136.67 215.2,137.71 215.3,137.27 215.4,137.85 215.5,138.75 215.7,139.38 215.8,139.83 215.9,139.50 216.0,140.23 216.1,140.37 216.3,140.64 216.4,141.63 216.5,142.20 216.6,142.49 216.7,143.16 216.9,143.93 217.0,143.65 217.1,144.10 217.2,144.51 217.3,145.35 217.5,145.47 217.6,146.07 217.7,146.38 217.8,147.09 217.9,147.34 218.1,147.14 218.2,147.43 218.3,147.98 218.4,148.53 218.5,148.49 218.7,149.13 218.8,149.60 218.9,149.83 219.0,149.79 219.1,149.87 219.2,150.70 219.4,150.67 219.5,151.03 219.6,150.86 219.7,151.87 219.8,151.90 220.0,152.87 220.1,153.41 220.2,152.75 220.3,153.24 220.4,154.31 220.6,153.87 220.7,153.64 220.8,153.77 220.9,154.06 221.0,154.76 221.2,154.80 221.3,154.42 221.4,155.54 221.5,155.19 221.6,156.34 221.8,155.60 221.9,155.53 222.0,156.93 222.1,156.88 222.2,157.15 222.4,157.65 222.5,157.22 222.6,157.70 222.7,157.52 222.8,157.56 222.9,156.69 223.1,157.43 223.2,158.09 223.3,157.10 223.4,158.14 223.5,157.42 223.7,157.28 223.8,158.10 223.9,157.61 224.0,158.50 224.1,158.26 224.3,158.31 224.4,158.18 224.5,157.55 224.6,158.50 224.7,158.75 224.9,158.79 225.0,158.75 225.1,159.14 225.2,158.92 225.3,158.32 225.5,159.27 225.6,159.00 225.7,158.23 225.8,159.02 225.9,158.44 226.1,157.58 226.2,158.29 226.3,158.63 226.4,158.43 226.5,158.24 226.6,158.93 226.8,158.57 226.9,158.11 227.0,157.68 227.1,159.89 227.2,159.56 227.4,158.68 227.5,159.80 227.6,159.37 227.7,160.02 227.8,157.25 228.0,157.91 228.1,158.74 228.2,159.70 228.3,158.41 228.4,158.62 228.6,159.08 228.7,157.55 228.8,157.34 228.9,158.61 229.0,158.39 229.2,157.44 229.3,157.59 229.4,157.67 229.5,158.63 229.6,157.22 229.8,156.74 229.9,156.95 230.0,156.58 230.1,156.70 230.2,156.56 230.3,156.80 230.5,156.93 230.6,155.62 230.7,156.00 230.8,156.20 230.9,155.36 231.1,154.58 231.2,154.95 231.3,154.54 231.4,154.69 231.5,154.44 231.7,153.35 231.8,154.00 231.9,152.97 232.0,152.90 232.1,153.08 232.3,153.01 232.4,152.04 232.5,151.62 232.6,151.06 232.7,151.50 232.9,150.84 233.0,150.68 233.1,150.31 233.2,149.28 233.3,149.37 233.5,148.57 233.6,149.03 233.7,148.77 233.8,148.71 233.9,147.10 234.0,147.50 234.2,147.12 234.3,146.48 234.4,146.13 234.5,145.53 234.6,144.46 234.8,145.10 234.9,144.28 235.0,143.34 235.1,142.82 235.2,142.93 235.4,142.65 235.5,142.02 235.6,141.27 235.7,140.60 235.8,139.75 236.0,140.39 236.1,139.70 236.2,139.29 236.3,138.66 236.4,138.10 236.6,137.20 236.7,136.39 236.8,135.70 236.9,135.70 237.0,135.20 237.2,134.52 237.3,134.00 237.4,133.69 237.5,133.53 237.6,132.87 237.7,132.33 237.9,132.17 238.0,130.77 238.1,130.05 238.2,130.14 238.3,129.00 238.5,129.01 238.6,128.03 238.7,127.40 238.8,127.24 238.9,126.07 239.1,125.55 239.2,124.73 239.3,124.53 239.4,123.99 239.5,123.19 239.7,123.07 239.8,122.21 239.9,121.80 240.0,121.00 240.1,120.15 240.3,119.61 240.4,119.12 240.5,118.10 240.6,117.99 240.7,117.66 240.9,116.79 241.0,115.74 241.1,115.07 241.2,114.92 241.3,114.58 241.4,113.71 241.6,112.88 241.7,112.27 241.8,111.78 241.9,111.14 242.0,110.61 242.2,110.45 242.3,109.24 242.4,109.17 242.5,108.30 242.6,107.95 242.8,107.48 242.9,106.75 243.0,105.89 243.1,105.35 243.2,105.14 243.4,104.27 243.5,103.63 243.6,102.19 243.7,103.01 243.8,101.35 244.0,100.90 244.1,100.76 244.2,100.60 244.3,99.19 244.4,99.38 244.6,98.39 244.7,97.22 244.8,97.70 244.9,96.88 245.0,96.46 245.1,95.11 245.3,94.74 245.4,94.88 245.5,94.25 245.6,93.95 245.7,92.76 245.9,92.38 246.0,92.68 246.1,91.96 246.2,90.62 246.3,91.06 246.5,90.05 246.6,89.88 246.7,88.95 246.8,88.66 246.9,88.73 247.1,87.82 247.2,87.84 247.3,86.63 247.4,86.26 247.5,85.94 247.7,86.20 247.8,84.95 247.9,84.09 248.0,84.97 248.1,83.97 248.3,83.18 248.4,83.42 248.5,82.70 248.6,81.84 248.7,81.45 248.8,80.78 249.0,80.94 249.1,80.96 249.2,79.98 249.3,80.05 249.4,79.60 249.6,79.21 249.7,80.01 249.8,78.47 249.9,78.61 250.0,78.35 250.2,77.89 250.3,77.44 250.4,77.40 250.5,77.88 250.6,76.77 250.8,76.32 250.9,75.22 251.0,75.34 251.1,75.38 251.2,75.15 251.4,75.01 251.5,74.36 251.6,74.13 251.7,74.49 251.8,74.66 252.0,74.47 252.1,72.96 252.2,73.60 252.3,73.16 252.4,72.32 252.5,73.03 252.7,72.44 252.8,72.33 252.9,73.49 253.0,73.72 253.1,72.75 253.3,72.17 253.4,72.05 253.5,71.75 253.6,72.98 253.7,71.63 253.9,72.17 254.0,72.44 254.1,71.65 254.2,71.54 254.3,72.22 254.5,71.99 254.6,72.69 254.7,73.11 254.8,71.65 254.9,72.21 255.1,71.85 255.2,70.87 255.3,71.63 255.4,71.08 255.5,70.15 255.7,70.59 255.8,71.50 255.9,71.56 256.0,70.90 256.1,70.65 256.2,72.16 256.4,71.55 256.5,71.98 256.6,71.52 256.7,71.40 256.8,70.98 257.0,71.55 257.1,71.88 257.2,72.38 257.3,72.46 257.4,71.43 257.6,72.38 257.7,71.64 257.8,70.99 257.9,72.07 258.0,71.82 258.2,72.44 258.3,71.84 258.4,72.28 258.5,69.99 258.6,72.49 258.8,70.44 258.9,72.35 259.0,71.15 259.1,70.99 259.2,73.48 259.4,71.75 259.5,72.95 259.6,72.49 259.7,72.78 259.8,73.09 259.9,73.12 260.1,72.61 260.2,73.90 260.3,73.40 260.4,73.39 260.5,73.67 260.7,74.12 260.8,74.70 260.9,74.66 261.0,75.18 261.1,75.29 261.3,76.24 261.4,75.62 261.5,75.74 261.6,77.07 261.7,77.57 261.9,76.76 262.0,77.58 262.1,77.16 262.2,78.13 262.3,78.03 262.5,78.06 262.6,78.50 262.7,79.54 262.8,80.78 262.9,80.05 263.1,80.86 263.2,82.02 263.3,81.13 263.4,81.67 263.5,82.51 263.6,82.98 263.8,83.12 263.9,83.03 264.0,83.50 264.1,84.12 264.2,85.11 264.4,84.95 264.5,86.55 264.6,86.86 264.7,86.94 264.8,87.27 265.0,88.55 265.1,88.75 265.2,88.89 265.3,88.88 265.4,90.65 265.6,90.48 265.7,90.28 265.8,92.07 265.9,92.49 266.0,92.80 266.2,93.19 266.3,93.70 266.4,95.29 266.5,95.04 266.6,96.18 266.8,96.83 266.9,96.70 267.0,97.98 267.1,97.76 267.2,98.73 267.3,99.84 267.5,100.07 267.6,99.90 267.7,100.58 267.8,102.36 267.9,102.21 268.1,103.73 268.2,103.84 268.3,105.25 268.4,104.81 268.5,105.29 268.7,106.10 268.8,107.11 268.9,107.36 269.0,109.05 269.1,109.64 269.3,109.83 269.4,110.62 269.5,111.07 269.6,112.12 269.7,112.81 269.9,113.33 270.0,114.20 270.1,114.57 270.2,115.48 270.3,116.14 270.5,116.87 270.6,117.62 270.7,117.23 270.8,118.89 270.9,119.41 271.0,120.89 271.2,121.56 271.3,122.13 271.4,123.72 271.5,122.76 271.6,124.36 271.8,125.37 271.9,125.53 272.0,126.12 272.1,127.53 272.2,127.20 272.4,128.41 272.5,129.54 272.6,129.42 272.7,130.62 272.8,131.11 273.0,131.57 273.1,132.04 273.2,132.61 273.3,134.01 273.4,135.23 273.6,135.54 273.7,136.26 273.8,136.06 273.9,136.70 274.0,138.91 274.2,139.62 274.3,139.62 274.4,139.93 274.5,140.86 274.6,141.33 274.7,142.32 274.9,142.36 275.0,143.79 275.1,144.44 275.2,144.62 275.3,145.52 275.5,146.35 275.6,145.76 275.7,147.10 275.8,148.84 275.9,147.91 276.1,149.61 276.2,149.73 276.3,150.45 276.4,150.49 276.5,151.84 276.7,151.50 276.8,152.77 276.9,152.95 277.0,153.36 277.1,153.82 277.3,154.35 277.4,155.68 277.5,155.91 277.6,156.13 277.7,157.41 277.9,157.32 278.0,157.94 278.1,159.13 278.2,158.98 278.3,159.33 278.4,160.39 278.6,160.40 278.7,160.79 278.8,161.44 278.9,161.82 279.0,162.98 279.2,162.78 279.3,163.06 279.4,162.79 279.5,163.73 279.6,164.58 279.8,164.76 279.9,165.26 280.0,165.55 280.1,166.32 280.2,165.78 280.4,167.66 280.5,166.73 280.6,167.03 280.7,168.42 280.8,168.19 281.0,169.17 281.1,169.65 281.2,169.51 281.3,169.85 281.4,168.93 281.6,170.76 281.7,171.49 281.8,169.99 281.9,170.67 282.0,170.87 282.1,171.91 282.3,171.95 282.4,171.82 282.5,173.26 282.6,171.56 282.7,173.35 282.9,172.00 283.0,172.68 283.1,172.01 283.2,172.92 283.3,171.73 283.5,171.87 283.6,173.66 283.7,173.68 283.8,173.96 283.9,173.43 284.1,173.85 284.2,172.52 284.3,173.34 284.4,173.61 284.5,172.99 284.7,173.90 284.8,171.88 284.9,173.66 285.0,174.17 285.1,173.53 285.3,173.30 285.4,173.72 285.5,174.31 285.6,173.91 285.7,172.91 285.8,174.28 286.0,173.58 286.1,172.99 286.2,174.24 286.3,172.81 286.4,172.34 286.6,173.92 286.7,172.65 286.8,172.65 286.9,173.08 287.0,171.95 287.2,172.14 287.3,174.56 287.4,173.24 287.5,172.91 287.6,174.60 287.8,173.83 287.9,173.68 288.0,171.49 288.1,174.05 288.2,174.44 288.4,172.94 288.5,174.06 288.6,172.24 288.7,173.12 288.8,172.12 289.0,171.43 289.1,171.97 289.2,171.76 289.3,170.76 289.4,171.87 289.5,171.24 289.7,171.25 289.8,171.43 289.9,170.67 290.0,169.45 290.1,168.79 290.3,169.46 290.4,169.21 290.5,168.05 290.6,169.13 290.7,169.02 290.9,168.71 291.0,168.63 291.1,167.69 291.2,165.77 291.3,165.88 291.5,166.31 291.6,165.24 291.7,164.53 291.8,165.22 291.9,163.81 292.1,164.34 292.2,163.99 292.3,163.17 292.4,162.59 292.5,162.48 292.7,161.63 292.8,160.87 292.9,161.12 293.0,159.65 293.1,160.30 293.2,158.97 293.4,159.75 293.5,158.66 293.6,158.03 293.7,157.85 293.8,156.91 294.0,157.03 294.1,155.86 294.2,154.81 294.3,154.87 294.4,154.16 294.6,153.36 294.7,152.95 294.8,152.40 294.9,150.71 295.0,150.10 295.2,149.71 295.3,149.03 295.4,148.75 295.5,147.81 295.6,148.13 295.8,146.95 295.9,146.43 296.0,146.07 296.1,145.61 296.2,144.84 296.4,144.01 296.5,142.90 296.6,142.00 296.7,141.43 296.8,140.72 296.9,140.25 297.1,139.58 297.2,139.10 297.3,138.79 297.4,136.96 297.5,137.85 297.7,136.18 297.8,135.14 297.9,135.09 298.0,134.38 298.1,133.56 298.3,132.22 298.4,130.90 298.5,131.20 298.6,130.44 298.7,130.47 298.9,128.88 299.0,128.23 299.1,127.85 299.2,126.33 299.3,125.63 299.5,124.94 299.6,124.35 299.7,124.12 299.8,122.39 299.9,122.33 300.0,122.02 300.2,121.08 300.3,119.69 300.4,118.84 300.5,118.24 300.6,117.01 300.8,115.78 300.9,115.50 301.0,115.55 301.1,114.55 301.2,113.84 301.4,113.46 301.5,111.53 301.6,111.07 301.7,110.44 301.8,109.11 302.0,109.03 302.1,108.25 302.2,107.63 302.3,106.74 302.4,106.05 302.6,105.59 302.7,104.22 302.8,104.19 302.9,102.85 303.0,101.36 303.2,102.14 303.3,100.71 303.4,100.24 303.5,99.22 303.6,98.70 303.7,97.77 303.9,96.87 304.0,96.50 304.1,95.87 304.2,95.03 304.3,94.66 304.5,94.10 304.6,92.98 304.7,92.37 304.8,91.64 304.9,91.67 305.1,89.80 305.2,89.40 305.3,89.15 305.4,88.87 305.5,87.65 305.7,87.06 305.8,86.58 305.9,85.52 306.0,85.34 306.1,84.18 306.3,83.44 306.4,83.32 306.5,82.57 306.6,82.07 306.7,81.63 306.9,80.52 307.0,79.38 307.1,80.02 307.2,79.43 307.3,78.22 307.4,77.78 307.6,77.70 307.7,77.17 307.8,76.89 307.9,76.33 308.0,75.61 308.2,75.38 308.3,74.48 308.4,74.01 308.5,73.61 308.6,73.30 308.8,72.78 308.9,72.74 309.0,71.45 309.1,71.76 309.2,70.16 309.4,70.24 309.5,70.56 309.6,69.42 309.7,69.30 309.8,68.77 310.0,68.50 310.1,68.03 310.2,68.09 310.3,66.48 310.4,67.48 310.6,67.24 310.7,65.73 310.8,65.17 310.9,66.12 311.0,64.74 311.1,65.54 311.3,64.24 311.4,64.61 311.5,64.60 311.6,63.91 311.7,62.60 311.9,63.73 312.0,63.77 312.1,61.85 312.2,63.00 312.3,62.16 312.5,62.18 312.6,61.48 312.7,62.22 312.8,62.14 312.9,62.65 313.1,62.30 313.2,61.71 313.3,60.38 313.4,60.57 313.5,61.27 313.7,60.84 313.8,61.70 313.9,62.13 314.0,60.82 314.1,60.34 314.3,62.21 314.4,61.30 314.5,61.46 314.6,60.65 314.7,61.15 314.8,61.14 315.0,60.04 315.1,61.08 315.2,61.02 315.3,60.54 315.4,62.49 315.6,61.01 315.7,59.48 315.8,62.24 315.9,61.52 316.0,60.48 316.2,62.23 316.3,61.10 316.4,60.32 316.5,59.73 316.6,60.41 316.8,61.40 316.9,61.39 317.0,60.09 317.1,61.37 317.2,61.06 317.4,62.17 317.5,62.17 317.6,60.79 317.7,60.45 317.8,62.17 318.0,59.99 318.1,61.83 318.2,62.04 318.3,61.06 318.4,60.63 318.5,60.77 318.7,60.45 318.8,61.59 318.9,60.95 319.0,61.46 319.1,62.08 319.3,63.94 319.4,62.95 319.5,63.64 319.6,62.87 319.7,63.86 319.9,63.62 320.0,64.15 320.1,64.88 320.2,64.50 320.3,64.83 320.5,65.75 320.6,66.04 320.7,66.53 320.8,66.34 320.9,66.62 321.1,67.10 321.2,67.96 321.3,68.21 321.4,68.66 321.5,68.53 321.7,69.67 321.8,69.48 321.9,70.50 322.0,70.82 322.1,71.62 322.2,71.72 322.4,72.23 322.5,72.79 322.6,73.33 322.7,73.17 322.8,73.32 323.0,74.29 323.1,75.54 323.2,75.40 323.3,75.63 323.4,76.28 323.6,76.64 323.7,77.85 323.8,79.00 323.9,78.16 324.0,79.51 324.2,79.62 324.3,80.56 324.4,81.16 324.5,81.61 324.6,82.84 324.8,83.73 324.9,83.68 325.0,83.62 325.1,84.53 325.2,85.41 325.4,85.72 325.5,87.23 325.6,87.44 325.7,87.61 325.8,89.00 325.9,88.56 326.1,89.10 326.2,90.26 326.3,92.01 326.4,91.94 326.5,93.14 326.7,93.80 326.8,93.97 326.9,94.95 327.0,95.01 327.1,95.66 327.3,96.57 327.4,97.53 327.5,98.07 327.6,99.03 327.7,100.24 327.9,100.82 328.0,101.63 328.1,102.41 328.2,102.42 328.3,104.56 328.5,103.85 328.6,104.59 328.7,105.72 328.8,106.51 328.9,107.76 329.1,108.64 329.2,109.48 329.3,110.35 329.4,110.62 329.5,111.18 329.6,111.47 329.8,112.27 329.9,113.45 330.0,114.70 330.1,115.41 330.2,115.83 330.4,116.61 330.5,117.39 330.6,118.43 330.7,119.19 330.8,119.71 331.0,121.10 331.1,122.03 331.2,121.93 331.3,123.64 331.4,124.36 331.6,124.57 331.7,125.81 331.8,126.37 331.9,126.79 332.0,127.78 332.2,129.12 332.3,129.79 332.4,129.64 332.5,130.86 332.6,131.69 332.8,132.12 332.9,132.67 333.0,134.91 333.1,134.93 333.2,135.36 333.3,137.13 333.5,138.19 333.6,138.85 333.7,139.01 333.8,139.47 333.9,140.27 334.1,141.12 334.2,141.88 334.3,142.04 334.4,143.11 334.5,143.04 334.7,144.90 334.8,144.19 334.9,146.42 335.0,146.77 335.1,147.86 335.3,148.81 335.4,149.12 335.5,149.89 335.6,149.12 335.7,151.26 335.9,151.54 336.0,151.96 336.1,152.19 336.2,153.63 336.3,154.15 336.5,154.11 336.6,155.29 336.7,155.01 336.8,156.94 336.9,157.35 337.0,158.47 337.2,159.16 337.3,158.92 337.4,160.14 337.5,159.74 337.6,160.60 337.8,160.72 337.9,162.73 338.0,162.23 338.1,163.06 338.2,163.24 338.4,164.65 338.5,165.23 338.6,164.68 338.7,165.77 338.8,165.78 339.0,166.78 339.1,165.82 339.2,167.79 339.3,167.46 339.4,167.78 339.6,168.85 339.7,169.88 339.8,169.97 339.9,169.83 340.0,171.22 340.2,171.25 340.3,171.53 340.4,172.37 340.5,171.66 340.6,172.59 340.7,173.42 340.9,173.25 341.0,174.12 341.1,173.19 341.2,173.75 341.3,174.49 341.5,175.42 341.6,175.12 341.7,175.62 341.8,174.63 341.9,175.37 342.1,177.20 342.2,176.38 342.3,176.99 342.4,176.58 342.5,176.79 342.7,177.27 342.8,176.95 342.9,177.07 343.0,177.41 343.1,177.18 343.3,177.92 343.4,177.67 343.5,178.83 343.6,178.02 343.7,179.08 343.9,177.93 344.0,177.05 344.1,176.94 344.2,178.18 344.3,179.22 344.4,178.93 344.6,177.39 344.7,178.12 344.8,178.27 344.9,177.59 345.0,179.59 345.2,178.07 345.3,178.02 345.4,178.43 345.5,178.43 345.6,178.66 345.8,178.69 345.9,178.49 346.0,177.86 346.1,178.74 346.2,179.43 346.4,178.13 346.5,179.36 346.6,177.72 346.7,177.11 346.8,181.23 347.0,177.79 347.1,177.82 347.2,180.39 347.3,178.12 347.4,179.04 347.6,179.22 347.7,178.19 347.8,178.91 347.9,178.58 348.0,180.54 348.1,179.98 348.3,180.30 348.4,178.76 348.5,179.08 348.6,178.00 348.7,178.75 348.9,178.62 349.0,178.72 349.1,179.45 349.2,177.96 349.3,178.63 349.5,178.02 349.6,178.21 349.7,176.83 349.8,178.21 349.9,177.71 350.1,177.50 350.2,178.10 350.3,176.23 350.4,177.23 350.5,176.39 350.7,175.40 350.8,175.47 350.9,174.82 351.0,175.22 351.1,174.13 351.3,174.21 351.4,173.24 351.5,172.83 351.6,173.10 351.7,173.89 351.8,172.30 352.0,171.39 352.1,172.00 352.2,171.22 352.3,171.95 352.4,170.50 352.6,169.37 352.7,169.60 352.8,169.78 352.9,167.79 353.0,167.15 353.2,167.13 353.3,167.33 353.4,165.51 353.5,165.93 353.6,165.65 353.8,164.75 353.9,163.17 354.0,163.68 354.1,163.64 354.2,161.57 354.4,161.86 354.5,161.84 354.6,160.30 354.7,160.29 354.8,158.51 355.0,157.95 355.1,158.57 355.2,158.15 355.3,155.59 355.4,155.66 355.5,155.46 355.7,153.85 355.8,152.74 355.9,152.71 356.0,152.11 356.1,150.98 356.3,149.48 356.4,149.73 356.5,148.31 356.6,148.64 356.7,146.65 356.9,146.12 357.0,144.85 357.1,145.27 357.2,143.47 357.3,142.89 357.5,142.77 357.6,141.60 357.7,139.83 357.8,139.27 357.9,139.05 358.1,137.72 358.2,136.50 358.3,135.90 358.4,133.74 358.5,133.83 358.7,133.44 358.8,131.43 358.9,130.84 359.0,130.08 359.1,130.16 359.2,128.91 359.4,127.28 359.5,127.31 359.6,126.09 359.7,124.30 359.8,124.25 360.0,122.59 360.1,120.87 360.2,120.26 360.3,120.09 360.4,118.23 360.6,117.10 360.7,116.66 360.8,115.62 360.9,113.48 361.0,113.63 361.2,111.68 361.3,111.57 361.4,109.34 361.5,108.94 361.6,107.49 361.8,106.00 361.9,105.31 362.0,105.06 362.1,102.84 362.2,102.22 362.4,100.68 362.5,99.25 362.6,98.05 362.7,97.57 362.8,96.65 362.9,95.39 363.1,94.26 363.2,92.62 363.3,91.39 363.4,90.60 363.5,89.84 363.7,88.43 363.8,87.66 363.9,86.54 364.0,84.80 364.1,84.66 364.3,82.66 364.4,83.33 364.5,81.20 364.6,79.60 364.7,78.61 364.9,78.22 365.0,76.36 365.1,75.70 365.2,74.95 365.3,73.41 365.5,73.10 365.6,72.28 365.7,70.79 365.8,69.77 365.9,68.36 366.1,67.46 366.2,66.50 366.3,65.98 366.4,64.84 366.5,63.70 366.6,62.99 366.8,62.28 366.9,61.12 367.0,58.96 367.1,58.04 367.2,58.81 367.4,57.43 367.5,56.72 367.6,55.63 367.7,54.20 367.8,53.09 368.0,52.29 368.1,51.58 368.2,50.26 368.3,49.83 368.4,48.31 368.6,47.32 368.7,47.37 368.8,46.85 368.9,44.61 369.0,46.42 369.2,43.29 369.3,42.27 369.4,42.18 369.5,40.59 369.6,40.17 369.8,39.48 369.9,38.44 370.0,39.05 370.1,37.14 370.2,38.08 370.3,36.23 370.5,36.92 370.6,35.04 370.7,34.81 370.8,35.49 370.9,32.21 371.1,34.23 371.2,33.04 371.3,32.00 371.4,30.45 371.5,32.30 371.7,28.65 371.8,29.19 371.9,29.52 372.0,29.21 372.1,29.76 372.3,28.84 372.4,26.06 372.5,28.49 372.6,27.52 372.7,27.27 372.9,28.26 373.0,27.00 373.1,28.13 373.2,25.25 373.3,27.30 373.5,27.49 373.6,25.52 373.7,26.23 373.8,24.79 373.9,25.11 374.0,27.53 374.2,25.95 374.3,25.99 374.4,24.89 374.5,26.39 374.6,26.03 374.8,25.62 374.9,23.81 375.0,25.48 375.1,23.65 375.2,26.37 375.4,24.96 375.5,26.25 375.6,27.02 375.7,24.96 375.8,25.02 376.0,26.38 376.1,25.12 376.2,25.35 376.3,26.04 376.4,25.56 376.6,24.62 376.7,25.36 376.8,26.67 376.9,27.72 377.0,25.09 377.2,25.68 377.3,26.20 377.4,25.69 377.5,25.86 377.6,24.17 377.7,25.95 377.9,28.65 378.0,28.25 378.1,26.35 378.2,25.08 378.3,27.61 378.5,28.83 378.6,26.43 378.7,28.90 378.8,27.40 378.9,29.51 379.1,29.25 379.2,29.47 379.3,30.77 379.4,31.69 379.5,30.27 379.7,31.38 379.8,33.51 379.9,32.91 380.0,32.31 380.1,34.56 380.3,33.06 380.4,33.00 380.5,34.10 380.6,36.05 380.7,37.25 380.9,38.46 381.0,37.76 381.1,38.38 381.2,38.22 381.3,39.58 381.4,42.15 381.6,41.01 381.7,41.99 381.8,41.91 381.9,42.83 382.0,45.31 382.2,45.18 382.3,46.17 382.4,45.65 382.5,46.95 382.6,47.42 382.8,48.31 382.9,50.34 383.0,51.16 383.1,52.88 383.2,52.02 383.4,54.36 383.5,53.79 383.6,54.68 383.7,56.42 383.8,56.76 384.0,58.86 384.1,59.23 384.2,59.16 384.3,61.27 384.4,62.92 384.6,61.73 384.7,64.26 384.8,65.30 384.9,65.68 385.0,65.99 385.1,68.12 385.3,67.53 385.4,68.55 385.5,70.99 385.6,71.15 385.7,73.39 385.9,74.22 386.0,75.31 386.1,75.24 386.2,77.02 386.3,78.20 386.5,80.07 386.6,81.21 386.7,81.43 386.8,83.14 386.9,84.68 387.1,83.78 387.2,86.17 387.3,87.69 387.4,88.18 387.5,91.48 387.7,91.77 387.8,91.92 387.9,92.14 388.0,94.86 388.1,96.90 388.3,96.44 388.4,97.32 388.5,98.65 388.6,100.78 388.7,101.02 388.8,102.83 389.0,104.42 389.1,104.57 389.2,106.10 389.3,107.55 389.4,108.84 389.6,110.16 389.7,110.97 389.8,111.00 389.9,111.41 390.0,115.05 390.2,116.12 390.3,116.53 390.4,117.65 390.5,119.20 390.6,120.27 390.8,122.11 390.9,121.04 391.0,123.93 391.1,124.84 391.2,126.34 391.4,126.96 391.5,128.59 391.6,129.92 391.7,131.47 391.8,132.58 392.0,133.19 392.1,134.47 392.2,136.36 392.3,136.52 392.4,138.62 392.5,138.44 392.7,140.16 392.8,142.47 392.9,143.14 393.0,143.62 393.1,145.30 393.3,146.16 393.4,146.99 393.5,149.07 393.6,149.62 393.7,150.50 393.9,151.38 394.0,152.06 394.1,152.43 394.2,154.92 394.3,155.81 394.5,156.98 394.6,158.34 394.7,159.62 394.8,161.66 394.9,161.16 395.1,162.90 395.2,163.33 395.3,163.89 395.4,165.29 395.5,165.17 395.6,167.77 395.8,167.48 395.9,168.81 396.0,169.25 396.1,169.91 396.2,172.04 396.4,173.29 396.5,173.43 396.6,174.36 396.7,175.98 396.8,176.08 397.0,177.41 397.1,178.67 397.2,178.11 397.3,179.79 397.4,181.24 397.6,180.96 397.7,181.73 397.8,182.37 397.9,183.89 398.0,184.52 398.2,184.74 398.3,186.49 398.4,186.42 398.5,186.42 398.6,188.16 398.8,189.13 398.9,189.00 399.0,190.94 399.1,190.79 399.2,190.52 399.3,191.91 399.5,192.58 399.6,193.32 399.7,193.46 399.8,194.81 399.9,194.16 400.1,196.33 400.2,196.99 400.3,197.22 400.4,197.57 400.5,197.76 400.7,199.25 400.8,199.22 400.9,198.64 401.0,199.98 401.1,201.60 401.3,201.85 401.4,202.80 401.5,202.25 401.6,201.73 401.7,201.99 401.9,201.33 402.0,203.83 402.1,203.72 402.2,205.99 402.3,203.80 402.5,204.02 402.6,205.56 402.7,203.20 402.8,203.61 402.9,205.76 403.0,205.37 403.2,206.26 403.3,205.82 403.4,205.64 403.5,206.06 403.6,205.76 403.8,206.68 403.9,205.26 404.0,204.52 404.1,206.92 404.2,206.46 404.4,203.74 404.5,204.97 404.6,206.43 404.7,206.34 404.8,203.55 405.0,205.79 405.1,203.55 405.2,203.98 405.3,204.83 405.4,206.02 405.6,203.97 405.7,205.07 405.8,207.55 405.9,205.32 406.0,206.77 406.2,203.42 406.3,205.38 406.4,205.20 406.5,202.96 406.6,204.27 406.7,206.46 406.9,204.12 407.0,204.47 407.1,202.93 407.2,205.64 407.3,204.39 407.5,203.23 407.6,205.39 407.7,203.84 407.8,203.40 407.9,202.83 408.1,206.09 408.2,202.22 408.3,203.68 408.4,204.05 408.5,204.39 408.7,202.27 408.8,202.53 408.9,203.41 409.0,200.82 409.1,200.60 409.3,201.52 409.4,201.21 409.5,200.81 409.6,200.03 409.7,198.38 409.9,199.15 410.0,197.44 410.1,198.54 410.2,197.43 410.3,197.24 410.4,195.86 410.6,195.95 410.7,195.31 410.8,194.26 410.9,193.16 411.0,193.66 411.2,192.34 411.3,191.81 411.4,191.01 411.5,191.11 411.6,190.94 411.8,189.29 411.9,189.17 412.0,188.67 412.1,187.80 412.2,185.37 412.4,186.31 412.5,184.44 412.6,184.18 412.7,183.09 412.8,182.82 413.0,181.16 413.1,180.79 413.2,180.12 413.3,179.33 413.4,178.53 413.6,177.42 413.7,176.28 413.8,176.47 413.9,175.27 414.0,173.53 414.1,173.36 414.3,171.66 414.4,171.43 414.5,169.06 414.6,169.96 414.7,170.05 414.9,167.20 415.0,166.88 415.1,164.74 415.2,165.10 415.3,164.77 415.5,163.76 415.6,162.12 415.7,160.32 415.8,159.58 415.9,159.17 416.1,158.98 416.2,156.09 416.3,155.54 416.4,154.73 416.5,153.69 416.7,152.87 416.8,151.20 416.9,150.23 417.0,150.49 417.1,148.14 417.3,148.10 417.4,146.19 417.5,144.22 417.6,144.22 417.7,142.98 417.8,141.78 418.0,139.80 418.1,139.45 418.2,139.13 418.3,136.29 418.4,136.32 418.6,134.52 418.7,134.18 418.8,133.08 418.9,131.81 419.0,130.42 419.2,128.83 419.3,127.83 419.4,126.36 419.5,125.63 419.6,123.65 419.8,123.30 419.9,121.94 420.0,119.49 420.1,119.16 420.2,118.40 420.4,117.61 420.5,116.44 420.6,116.00 420.7,115.12 420.8,113.35 421.0,112.20 421.1,110.52 421.2,110.10 421.3,107.72 421.4,107.26 421.5,105.17 421.7,104.22 421.8,104.34 421.9,103.01 422.0,101.88 422.1,101.37 422.3,99.47 422.4,97.38 422.5,97.03 422.6,95.55 422.7,95.50 422.9,93.56 423.0,92.82 423.1,91.82 423.2,90.53 423.3,89.10 423.5,87.85 423.6,87.02 423.7,87.24 423.8,85.83 423.9,83.23 424.1,83.95 424.2,81.65 424.3,80.46 424.4,80.47 424.5,79.34 424.7,76.92 424.8,75.89 424.9,76.25 425.0,73.99 425.1,73.83 425.2,72.87 425.4,72.44 425.5,71.78 425.6,70.29 425.7,69.14 425.8,67.85 426.0,66.47 426.1,66.43 426.2,66.69 426.3,64.23 426.4,63.68 426.6,62.84 426.7,60.98 426.8,59.95 426.9,59.62 427.0,58.76 427.2,58.89 427.3,56.42 427.4,56.78 427.5,56.74 427.6,54.35 427.8,54.59 427.9,53.44 428.0,51.70 428.1,52.20 428.2,51.14 428.4,50.87 428.5,49.08 428.6,49.54 428.7,46.87 428.8,48.34 428.9,46.59 429.1,45.35 429.2,44.88 429.3,45.05 429.4,44.19 429.5,44.86 429.7,43.62 429.8,42.47 429.9,41.75 430.0,42.20 430.1,39.81 430.3,40.59 430.4,38.97 430.5,38.07 430.6,39.18 430.7,38.84 430.9,36.76 431.0,36.24 431.1,36.72 431.2,36.80 431.3,35.53 431.5,33.80 431.6,35.67 431.7,34.41 431.8,33.77 431.9,33.89 432.1,32.15 432.2,33.87 432.3,33.61 432.4,31.45 432.5,31.98 432.6,34.15 432.8,33.38 432.9,32.44 433.0,31.86 433.1,32.50 433.2,31.51 433.4,32.09 433.5,30.71 433.6,31.52 433.7,30.57 433.8,30.37 434.0,33.32 434.1,31.76 434.2,32.56 434.3,32.68 434.4,30.96 434.6,31.86 434.7,30.00 434.8,31.13 434.9,32.81 435.0,32.17 435.2,31.84 435.3,32.61 435.4,30.82 435.5,30.76 435.6,29.80 435.8,32.09 435.9,31.86 436.0,31.09 436.1,31.89 436.2,31.43 436.3,30.58 436.5,29.11 436.6,33.76 436.7,33.02 436.8,31.47 436.9,33.01 437.1,30.62 437.2,33.62 437.3,30.42 437.4,32.61 437.5,33.41 437.7,31.69 437.8,33.51 437.9,32.11 438.0,34.21 438.1,32.70 438.3,31.08 438.4,33.15 438.5,33.99 438.6,33.82 438.7,33.60 438.9,34.88 439.0,34.44 439.1,35.32 439.2,36.18 439.3,36.63 439.5,35.01 439.6,37.15 439.7,36.94 439.8,37.15 439.9,37.75 440.0,38.06 440.2,39.00 440.3,39.81 440.4,39.26 440.5,39.94 440.6,41.93 440.8,40.93 440.9,42.50 441.0,41.66 441.1,44.12 441.2,44.72 441.4,44.35 441.5,46.28 441.6,46.38 441.7,47.49 441.8,47.42 442.0,48.73 442.1,48.39 442.2,50.27 442.3,50.58 442.4,51.93 442.6,52.69 442.7,52.99 442.8,52.42 442.9,53.10 443.0,55.61 443.2,55.81 443.3,56.74 443.4,57.39 443.5,59.46 443.6,59.05 443.7,60.54 443.9,60.88 444.0,60.86 444.1,63.15 444.2,63.49 444.3,64.84 444.5,64.87 444.6,66.88 444.7,67.13 444.8,67.96 444.9,68.29 445.1,70.46 445.2,71.14 445.3,72.91 445.4,73.06 445.5,73.99 445.7,75.06 445.8,75.60 445.9,76.87 446.0,78.16 446.1,78.04 446.3,80.35 446.4,82.22 446.5,81.99 446.6,83.41 446.7,84.48 446.9,85.80 447.0,87.12 447.1,87.61 447.2,89.82 447.3,89.43 447.4,89.91 447.6,91.02 447.7,92.13 447.8,94.82 447.9,95.65 448.0,97.41 448.2,97.68 448.3,98.82 448.4,99.59 448.5,100.59 448.6,101.71 448.8,103.45 448.9,103.61 449.0,105.96 449.1,105.90 449.2,107.57 449.4,109.52 449.5,110.17 449.6,111.80 449.7,112.77 449.8,112.98 450.0,114.91 450.1,116.81 450.2,116.97 450.3,118.13 450.4,120.21 450.6,122.20 450.7,121.79 450.8,122.28 450.9,124.81 451.0,124.48 451.1,127.37 451.3,126.61 451.4,129.59 451.5,130.61 451.6,130.93 451.7,132.35 451.9,133.36 452.0,133.82 452.1,135.82 452.2,136.67 452.3,138.59 452.5,138.99 452.6,141.39 452.7,140.39 452.8,142.21 452.9,144.45 453.1,145.10 453.2,147.28 453.3,147.81 453.4,148.18 453.5,149.35 453.7,150.95 453.8,152.00 453.9,152.61 454.0,153.26 454.1,155.14 454.3,156.81 454.4,157.83 454.5,158.29 454.6,161.22 454.7,159.62 454.8,161.18 455.0,162.96 455.1,163.19 455.2,164.00 455.3,165.28 455.4,166.79 455.6,166.86 455.7,167.96 455.8,170.21 455.9,171.18 456.0,170.63 456.2,172.99 456.3,173.57 456.4,175.35 456.5,174.42 456.6,175.94 456.8,177.77 456.9,178.88 457.0,180.14 457.1,179.21 457.2,181.22 457.4,181.96 457.5,183.40 457.6,182.91 457.7,183.45 457.8,184.19 458.0,186.02 458.1,186.39 458.2,188.03 458.3,187.82 458.4,188.96 458.5,189.93 458.7,190.92 458.8,190.58 458.9,191.71 459.0,193.54 459.1,193.02 459.3,192.35 459.4,194.27 459.5,195.15 459.6,196.47 459.7,196.77 459.9,197.50 460.0,198.03 460.1,199.49 460.2,199.75 460.3,201.05 460.5,200.46 460.6,200.77 460.7,200.99 460.8,200.30 460.9,202.18 461.1,202.23 461.2,202.42 461.3,202.54 461.4,203.18 461.5,203.71 461.7,203.88 461.8,205.61 461.9,206.50 462.0,206.99 462.1,206.67 462.2,208.37 462.4,206.54 462.5,205.82 462.6,207.80 462.7,205.81 462.8,208.46 463.0,206.77 463.1,207.91 463.2,206.53 463.3,206.65 463.4,207.48 463.6,208.34 463.7,206.76 463.8,207.95 463.9,206.51 464.0,207.26 464.2,208.94 464.3,206.48 464.4,207.07 464.5,209.77 464.6,207.97 464.8,208.59 464.9,208.14 465.0,205.93 465.1,208.01 465.2,207.86 465.4,208.09 465.5,209.54 465.6,209.47 465.7,207.81 465.8,207.08 465.9,207.48 466.1,208.31 466.2,207.36 466.3,209.61 466.4,208.82 466.5,208.42 466.7,206.72 466.8,209.94 466.9,206.57 467.0,208.21 467.1,205.81 467.3,208.29 467.4,206.07 467.5,209.26 467.6,206.24 467.7,207.21 467.9,208.00 468.0,207.69 468.1,207.49 468.2,205.15 468.3,207.07 468.5,207.09 468.6,205.71 468.7,203.95 468.8,204.65 468.9,206.07 469.1,205.47 469.2,202.37 469.3,201.93 469.4,204.44 469.5,203.67 469.6,200.31 469.8,200.35 469.9,200.60 470.0,199.97 470.1,200.07 470.2,198.08 470.4,198.82 470.5,196.33 470.6,197.86 470.7,195.81 470.8,195.89 471.0,194.03 471.1,194.96 471.2,193.74 471.3,193.63 471.4,191.43 471.6,190.91 471.7,190.09 471.8,189.76 471.9,189.10 472.0,188.06 472.2,187.72 472.3,187.13 472.4,187.14 472.5,186.06 472.6,184.60 472.8,183.57 472.9,183.43 473.0,182.91 473.1,181.73 473.2,181.45 473.3,179.17 473.5,179.46 473.6,178.46 473.7,176.50 473.8,176.45 473.9,175.55 474.1,174.88 474.2,174.38 474.3,172.87 474.4,171.27 474.5,170.68 474.7,168.84 474.8,168.83 474.9,166.23 475.0,165.79 475.1,164.64 475.3,165.31 475.4,162.69 475.5,162.80 475.6,160.39 475.7,160.59 475.9,158.88 476.0,158.95 476.1,157.23 476.2,156.24 476.3,155.06 476.5,153.83 476.6,153.88 476.7,152.39 476.8,151.17 476.9,148.73 477.0,148.09 477.2,147.47 477.3,146.57 477.4,144.44 477.5,143.53 477.6,142.70 477.8,140.65 477.9,139.83 478.0,138.91 478.1,138.33 478.2,136.50 478.4,137.49 478.5,134.66 478.6,133.49 478.7,131.30 478.8,131.70 479.0,129.96 479.1,128.33 479.2,127.53 479.3,126.00 479.4,126.38 479.6,124.11 479.7,122.58 479.8,122.04 479.9,120.16 480.0,119.37 480.2,117.50 480.3,116.79 480.4,115.41 480.5,116.02 480.6,113.93 480.7,111.97 480.9,112.05 481.0,109.73 481.1,109.93 481.2,108.25 481.3,106.09 481.5,104.43 481.6,104.24 481.7,103.94 481.8,102.11 481.9,102.00 482.1,99.52 482.2,99.54 482.3,97.18 482.4,96.37 482.5,95.27 482.7,94.05 482.8,93.70 482.9,92.81 483.0,90.14 483.1,90.48 483.3,87.91 483.4,88.23 483.5,85.81 483.6,86.04 483.7,84.00 483.9,84.02 484.0,82.74 484.1,79.85 484.2,79.27 484.3,79.75 484.4,78.04 484.6,77.09 484.7,75.59 484.8,74.65 484.9,74.28 485.0,72.00 485.2,72.50 485.3,70.31 485.4,71.17 485.5,69.45 485.6,68.64 485.8,67.81 485.9,66.48 486.0,66.04 486.1,64.69 486.2,62.44 486.4,62.59 486.5,61.44 486.6,60.56 486.7,61.37 486.8,58.48 487.0,57.81 487.1,57.37 487.2,57.27 487.3,55.72 487.4,54.19 487.6,54.35 487.7,53.96 487.8,52.37 487.9,51.76 488.0,51.66 488.1,49.42 488.3,48.92 488.4,48.75 488.5,48.84 488.6,47.41 488.7,47.59 488.9,45.24 489.0,45.50 489.1,44.47 489.2,44.79 489.3,43.97 489.5,44.04 489.6,41.68 489.7,41.57 489.8,41.36 489.9,40.49 490.1,41.10 490.2,40.11 490.3,38.77 490.4,38.19 490.5,38.65 490.7,39.21 490.8,38.04 490.9,35.53 491.0,36.36 491.1,35.58 491.2,35.77 491.4,35.40 491.5,33.10 491.6,35.04 491.7,33.62 491.8,33.42 492.0,33.54 492.1,34.30 492.2,32.27 492.3,32.90 492.4,33.44 492.6,32.66 492.7,31.87 492.8,31.52 492.9,30.86 493.0,30.61 493.2,30.69 493.3,31.14 493.4,31.78 493.5,31.14 493.6,30.59 493.8,32.09 493.9,32.66 494.0,30.75 494.1,31.07 494.2,31.87 494.4,31.78 494.5,30.10 494.6,30.82 494.7,31.62 494.8,31.24 494.9,29.23 495.1,31.51 495.2,31.98 495.3,30.52 495.4,30.51 495.5,30.29 495.7,31.01 495.8,32.21 495.9,30.65 496.0,30.89 496.1,30.45 496.3,33.00 496.4,30.09 496.5,29.18 496.6,30.59 496.7,31.34 496.9,31.11 497.0,32.85 497.1,31.05 497.2,30.39 497.3,31.67 497.5,30.98 497.6,32.98 497.7,32.94 497.8,32.80 497.9,32.77 498.1,33.06 498.2,32.24 498.3,33.07 498.4,34.10 498.5,34.31 498.6,34.63 498.8,34.90 498.9,33.20 499.0,34.01 499.1,36.90 499.2,35.15 499.4,36.82 499.5,35.33 499.6,39.08 499.7,39.28 499.8,37.93 500.0,39.21 500.1,38.52 500.2,39.81 500.3,40.63 500.4,40.24 500.6,40.50 500.7,41.79 500.8,43.49 500.9,43.45 501.0,43.15 501.2,44.62 501.3,44.22 501.4,44.88 501.5,47.11 501.6,47.17 501.8,47.18 501.9,48.63 502.0,48.98 502.1,50.43 502.2,51.78 502.3,50.96 502.5,52.47 502.6,53.44 502.7,54.89 502.8,54.71 502.9,56.54 503.1,56.97 503.2,57.27 503.3,59.06 503.4,59.25 503.5,60.03 503.7,60.85 503.8,61.18 503.9,62.65 504.0,63.65 504.1,64.17 504.3,65.49 504.4,65.76 504.5,66.32 504.6,68.83 504.7,69.79 504.9,70.35 505.0,71.65 505.1,71.58 505.2,72.44 505.3,73.38 505.5,75.45 505.6,75.98 505.7,75.60 505.8,77.76 505.9,79.45 506.0,80.77 506.2,81.07 506.3,81.90 506.4,83.33 506.5,84.04 506.6,85.64 506.8,86.38 506.9,87.74 507.0,87.76 507.1,89.66 507.2,90.79 507.4,91.14 507.5,92.89 507.6,93.03 507.7,94.38 507.8,97.28 508.0,98.06 508.1,98.11 508.2,99.31 508.3,100.77 508.4,101.41 508.6,103.07 508.7,104.14 508.8,104.38 508.9,107.34 509.0,106.51 509.2,107.83 509.3,110.51 509.4,111.26 509.5,112.68 509.6,111.89 509.7,115.07 509.9,116.00 510.0,115.98 510.1,118.08 510.2,119.87 510.3,120.16 510.5,120.85 510.6,123.44 510.7,122.50 510.8,124.48 510.9,126.01 511.1,127.74 511.2,127.79 511.3,128.56 511.4,131.02 511.5,132.13 511.7,133.43 511.8,133.80 511.9,134.44 512.0,136.52 512.1,136.97 512.3,137.83 512.4,139.63 512.5,140.99 512.6,142.11 512.7,143.60 512.9,144.81 513.0,144.73 513.1,146.34 513.2,147.65 513.3,148.53 513.4,150.47 513.6,150.45 513.7,152.34 513.8,151.97 513.9,153.58 514.0,155.82 514.2,155.68 514.3,156.63 514.4,157.61 514.5,159.29 514.6,160.24 514.8,161.03 514.9,162.08 515.0,162.01 515.1,163.77 515.2,165.46 515.4,166.39 515.5,167.84 515.6,168.55 515.7,169.24 515.8,171.14 516.0,171.28 516.1,172.39 516.2,173.28 516.3,174.68 516.4,175.66 516.6,174.44 516.7,177.50 516.8,177.36 516.9,178.36 517.0,177.99 517.1,179.73 517.3,179.80 517.4,180.87 517.5,182.75 517.6,183.03 517.7,184.10 517.9,184.98 518.0,186.17 518.1,186.68 518.2,187.96 518.3,188.70 518.5,189.67 518.6,189.21 518.7,190.42 518.8,191.15 518.9,192.34 519.1,191.58 519.2,194.37 519.3,192.89 519.4,193.92 519.5,194.71 519.7,194.84 519.8,196.55 519.9,196.93 520.0,196.99 520.1,196.93 520.3,198.95 520.4,198.12 520.5,197.93 520.6,199.55 520.7,200.98 520.8,199.57 521.0,200.20 521.1,202.00 521.2,201.90 521.3,202.77 521.4,201.55 521.6,203.18 521.7,205.16 521.8,203.01 521.9,203.53 522.0,205.40 522.2,204.36 522.3,204.38 522.4,206.58 522.5,204.69 522.6,206.66 522.8,206.57 522.9,205.46 523.0,203.68 523.1,205.42 523.2,206.22 523.4,205.95 523.5,207.61 523.6,206.91 523.7,204.62 523.8,206.94 524.0,205.39 524.1,206.48 524.2,206.99 524.3,206.79 524.4,208.19 524.5,205.75 524.7,207.57 524.8,205.75 524.9,204.65 525.0,206.15 525.1,204.14 525.3,208.53 525.4,205.12 525.5,207.45 525.6,204.02 525.7,208.13 525.9,207.44 526.0,205.65 526.1,206.90 526.2,205.79 526.3,206.54 526.5,204.16 526.6,205.66 526.7,207.03 526.8,207.48 526.9,204.75 527.1,204.59 527.2,205.41 527.3,205.68 527.4,206.03 527.5,205.49 527.7,205.81 527.8,205.74 527.9,204.57 528.0,204.78 528.1,203.79 528.2,204.34 528.4,204.59 528.5,203.18 528.6,202.97 528.7,203.24 528.8,201.12 529.0,203.14 529.1,203.19 529.2,201.38 529.3,199.61 529.4,201.33 529.6,200.59 529.7,199.05 529.8,198.31 529.9,199.56 530.0,197.61 530.2,197.20 530.3,196.19 530.4,196.73 530.5,196.31 530.6,195.34 530.8,193.70 530.9,193.30 531.0,192.34 531.1,193.04 531.2,191.05 531.4,191.73 531.5,192.05 531.6,189.47 531.7,189.04 531.8,187.95 531.9,186.61 532.1,186.67 532.2,185.67 532.3,185.76 532.4,183.79 532.5,183.54 532.7,183.42 532.8,182.01 532.9,180.85"/>
<polyline stroke="#228b22" points="55.5,118.06 55.6,117.72 55.7,117.82 55.9,118.02 56.0,117.92 56.1,117.84 56.2,118.13 56.3,118.04 56.5,118.00 56.6,117.84 56.7,118.02 56.8,118.12 56.9,118.07 57.1,118.09 57.2,117.97 57.3,118.07 57.4,118.11 57.5,118.01 57.6,117.96 57.8,117.99 57.9,118.22 58.0,118.20 58.1,118.07 58.2,118.15 58.4,118.20 58.5,117.84 58.6,118.06 58.7,118.13 58.8,118.28 59.0,117.87 59.1,118.07 59.2,118.09 59.3,118.19 59.4,118.22 59.6,118.13 59.7,118.19 59.8,118.09 59.9,118.39 60.0,118.22 60.2,118.42 60.3,118.45 60.4,118.38 60.5,118.42 60.6,118.35 60.8,118.61 60.9,118.30 61.0,118.45 61.1,118.28 61.2,118.25 61.3,118.25 61.5,118.50 61.6,118.14 61.7,118.33 61.8,118.34 61.9,118.27 62.1,118.36 62.2,118.52 62.3,118.62 62.4,118.49 62.5,118.63 62.7,118.37 62.8,118.61 62.9,118.54 63.0,118.62 63.1,118.75 63.3,118.24 63.4,118.77 63.5,118.53 63.6,118.70 63.7,118.47 63.9,118.62 64.0,118.49 64.1,118.54 64.2,118.95 64.3,118.88 64.5,118.65 64.6,118.71 64.7,118.95 64.8,118.79 64.9,118.52 65.0,118.72 65.2,118.90 65.3,118.78 65.4,118.75 65.5,118.68 65.6,118.92 65.8,118.84 65.9,118.85 66.0,118.94 66.1,118.84 66.2,119.05 66.4,118.82 66.5,118.82 66.6,118.99 66.7,119.01 66.8,119.14 67.0,118.80 67.1,118.83 67.2,119.05 67.3,118.66 67.4,119.03 67.6,118.91 67.7,119.02 67.8,119.02 67.9,119.03 68.0,119.05 68.2,118.92 68.3,118.95 68.4,119.09 68.5,119.13 68.6,118.87 68.7,118.94 68.9,119.05 69.0,118.95 69.1,118.98 69.2,119.07 69.3,119.11 69.5,118.78 69.6,118.83 69.7,119.00 69.8,118.94 69.9,118.78 70.1,118.76 70.2,118.85 70.3,118.84 70.4,118.88 70.5,119.10 70.7,118.91 70.8,118.73 70.9,118.75 71.0,118.79 71.1,118.88 71.3,118.79 71.4,118.67 71.5,118.57 71.6,118.80 71.7,118.51 71.9,118.59 72.0,118.62 72.1,118.52 72.2,118.86 72.3,118.53 72.4,118.59 72.6,118.33 72.7,118.32 72.8,118.34 72.9,118.57 73.0,118.48 73.2,118.54 73.3,118.42 73.4,118.56 73.5,118.19 73.6,118.13 73.8,118.33 73.9,118.05 74.0,117.87 74.1,118.11 74.2,118.27 74.4,118.01 74.5,117.84 74.6,117.82 74.7,117.92 74.8,117.69 75.0,117.94 75.1,117.87 75.2,117.58 75.3,117.74 75.4,117.71 75.6,117.75 75.7,117.50 75.8,117.63 75.9,117.49 76.0,117.36 76.1,117.32 76.3,117.55 76.4,117.39 76.5,117.27 76.6,117.29 76.7,117.08 76.9,116.96 77.0,116.74 77.1,116.88 77.2,116.68 77.3,116.79 77.5,116.76 77.6,116.59 77.7,116.71 77.8,116.25 77.9,116.46 78.1,116.31 78.2,116.70 78.3,116.19 78.4,116.40 78.5,116.30 78.7,116.39 78.8,116.00 78.9,115.90 79.0,116.08 79.1,116.11 79.3,116.17 79.4,115.95 79.5,115.61 79.6,115.81 79.7,115.78 79.8,115.68 80.0,115.40 80.1,115.75 80.2,115.32 80.3,115.04 80.4,115.27 80.6,115.30 80.7,115.10 80.8,115.07 80.9,115.02 81.0,115.01 81.2,114.83 81.3,115.03 81.4,114.79 81.5,114.78 81.6,114.49 81.8,114.72 81.9,114.72 82.0,114.73 82.1,114.43 82.2,114.56 82.4,114.15 82.5,114.17 82.6,114.12 82.7,114.37 82.8,114.16 83.0,113.91 83.1,114.20 83.2,113.96 83.3,114.12 83.4,113.78 83.5,113.93 83.7,113.60 83.8,113.87 83.9,113.96 84.0,113.58 84.1,113.42 84.3,113.33 84.4,113.38 84.5,113.47 84.6,113.86 84.7,113.06 84.9,113.50 85.0,113.16 85.1,112.85 85.2,113.21 85.3,113.02 85.5,113.28 85.6,113.03 85.7,113.16 85.8,112.84 85.9,112.96 86.1,113.21 86.2,112.86 86.3,112.70 86.4,112.61 86.5,112.78 86.7,113.00 86.8,112.75 86.9,112.66 87.0,112.75 87.1,112.64 87.2,112.46 87.4,112.77 87.5,112.87 87.6,112.59 87.7,112.26 87.8,112.72 88.0,112.35 88.1,112.48 88.2,112.57 88.3,112.32 88.4,112.59 88.6,112.36 88.7,111.99 88.8,112.25 88.9,112.15 89.0,112.12 89.2,111.93 89.3,111.98 89.4,112.11 89.5,111.79 89.6,112.26 89.8,112.02 89.9,111.95 90.0,111.71 90.1,111.65 90.2,111.74 90.4,111.73 90.5,111.50 90.6,111.53 90.7,111.71 90.8,111.76 90.9,111.49 91.1,111.39 91.2,111.24 91.3,111.46 91.4,111.61 91.5,111.75 91.7,111.19 91.8,111.29 91.9,111.16 92.0,111.46 92.1,111.23 92.3,111.34 92.4,111.43 92.5,111.51 92.6,111.24 92.7,110.98 92.9,110.79 93.0,111.08 93.1,111.12 93.2,111.28 93.3,111.20 93.5,110.67 93.6,111.23 93.7,110.93 93.8,110.60 93.9,111.10 94.1,110.73 94.2,110.99 94.3,110.68 94.4,110.60 94.5,110.44 94.6,110.66 94.8,110.69 94.9,110.32 95.0,110.96 95.1,110.26 95.2,110.16 95.4,110.32 95.5,110.33 95.6,110.04 95.7,110.09 95.8,110.53 96.0,109.68 96.1,109.74 96.2,109.80 96.3,110.94 96.4,111.03 96.6,109.94 96.7,110.54 96.8,110.13 96.9,110.97 97.0,109.50 97.2,109.71 97.3,110.22 97.4,110.53 97.5,109.03 97.6,110.55 97.8,109.88 97.9,109.77 98.0,110.41 98.1,110.30 98.2,109.45 98.3,109.42 98.5,109.51 98.6,109.36 98.7,110.53 98.8,109.57 98.9,109.42 99.1,110.37 99.2,110.08 99.3,110.18 99.4,110.17 99.5,109.74 99.7,109.99 99.8,110.15 99.9,109.75 100.0,110.14 100.1,110.08 100.3,110.15 100.4,110.10 100.5,109.90 100.6,110.28 100.7,110.37 100.9,110.22 101.0,110.43 101.1,110.37 101.2,110.51 101.3,110.65 101.5,110.65 101.6,110.86 101.7,110.75 101.8,110.37 101.9,110.85 102.0,110.94 102.2,111.14 102.3,111.07 102.4,111.00 102.5,111.15 102.6,111.08 102.8,111.22 102.9,111.46 103.0,111.47 103.1,111.48 103.2,111.65 103.4,111.66 103.5,112.11 103.6,112.02 103.7,112.09 103.8,112.48 104.0,112.23 104.1,112.75 104.2,112.73 104.3,112.84 104.4,113.23 104.6,112.90 104.7,113.22 104.8,113.21 104.9,113.34 105.0,113.93 105.1,113.95 105.3,113.76 105.4,114.23 105.5,113.86 105.6,114.37 105.7,114.74 105.9,114.32 106.0,114.72 106.1,115.28 106.2,115.02 106.3,115.00 106.5,115.61 106.6,115.44 106.7,115.64 106.8,115.92 106.9,116.19 107.1,116.30 107.2,116.31 107.3,116.44 107.4,116.64 107.5,116.64 107.7,116.65 107.8,117.22 107.9,117.26 108.0,117.16 108.1,117.91 108.3,117.77 108.4,118.16 108.5,118.44 108.6,118.55 108.7,118.47 108.8,118.68 109.0,118.89 109.1,119.32 109.2,119.63 109.3,119.45 109.4,119.88 109.6,120.21 109.7,120.12 109.8,120.32 109.9,120.72 110.0,120.77 110.2,121.12 110.3,121.03 110.4,121.66 110.5,121.60 110.6,121.94 110.8,121.88 110.9,122.22 111.0,122.58 111.1,122.65 111.2,122.56 111.4,123.20 111.5,122.88 111.6,123.22 111.7,123.58 111.8,123.59 112.0,123.95 112.1,124.12 112.2,124.17 112.3,124.03 112.4,124.55 112.5,124.36 112.7,124.76 112.8,124.92 112.9,125.23 113.0,125.21 113.1,125.59 113.3,125.71 113.4,125.80 113.5,126.25 113.6,125.87 113.7,126.13 113.9,126.59 114.0,126.87 114.1,126.98 114.2,126.90 114.3,126.89 114.5,126.96 114.6,127.28 114.7,127.35 114.8,127.69 114.9,127.70 115.1,127.64 115.2,127.67 115.3,127.83 115.4,128.40 115.5,128.54 115.7,128.58 115.8,128.45 115.9,128.57 116.0,128.59 116.1,128.93 116.2,129.23 116.4,129.13 116.5,129.64 116.6,129.09 116.7,129.10 116.8,129.91 117.0,129.44 117.1,129.75 117.2,129.59 117.3,129.57 117.4,129.76 117.6,130.14 117.7,130.11 117.8,130.24 117.9,130.72 118.0,130.70 118.2,130.45 118.3,130.72 118.4,131.15 118.5,130.61 118.6,130.80 118.8,131.22 118.9,130.96 119.0,131.09 119.1,131.47 119.2,131.13 119.4,131.57 119.5,130.95 119.6,131.00 119.7,131.63 119.8,131.73 119.9,131.64 120.1,131.91 120.2,131.24 120.3,131.64 120.4,131.17 120.5,131.17 120.7,131.63 120.8,131.75 120.9,131.40 121.0,131.81 121.1,131.78 121.3,131.66 121.4,131.57 121.5,132.06 121.6,131.97 121.7,131.88 121.9,132.02 122.0,132.26 122.1,132.08 122.2,132.10 122.3,132.36 122.5,132.51 122.6,132.19 122.7,131.86 122.8,131.78 122.9,132.19 123.1,132.43 123.2,132.15 123.3,132.13 123.4,132.67 123.5,132.96 123.6,131.79 123.8,132.49 123.9,132.40 124.0,132.78 124.1,132.47 124.2,132.89 124.4,132.42 124.5,132.95 124.6,132.46 124.7,132.06 124.8,132.22 125.0,132.23 125.1,133.11 125.2,132.80 125.3,132.22 125.4,132.40 125.6,132.60 125.7,132.71 125.8,132.97 125.9,132.85 126.0,132.76 126.2,132.65 126.3,132.30 126.4,132.28 126.5,133.38 126.6,132.43 126.8,133.43 126.9,132.61 127.0,133.13 127.1,132.00 127.2,133.37 127.3,133.56 127.5,132.95 127.6,133.62 127.7,132.22 127.8,133.24 127.9,134.13 128.1,133.22 128.2,133.11 128.3,133.46 128.4,132.36 128.5,133.37 128.7,132.15 128.8,132.92 128.9,132.74 129.0,132.08 129.1,132.20 129.3,132.08 129.4,131.78 129.5,133.34 129.6,133.19 129.7,132.36 129.9,132.58 130.0,132.05 130.1,132.60 130.2,131.94 130.3,132.48 130.5,132.30 130.6,132.77 130.7,132.10 130.8,132.53 130.9,131.93 131.0,131.96 131.2,131.97 131.3,131.45 131.4,131.55 131.5,131.79 131.6,131.27 131.8,131.91 131.9,131.22 132.0,130.95 132.1,131.11 132.2,131.29 132.4,130.96 132.5,130.91 132.6,130.99 132.7,130.63 132.8,130.78 133.0,130.32 133.1,130.09 133.2,130.23 133.3,129.68 133.4,129.75 133.6,129.44 133.7,129.38 133.8,129.65 133.9,129.01 134.0,128.98 134.2,128.73 134.3,128.93 134.4,127.98 134.5,127.71 134.6,128.02 134.7,127.63 134.9,127.48 135.0,127.46 135.1,127.50 135.2,126.76 135.3,126.74 135.5,126.50 135.6,126.36 135.7,125.68 135.8,126.10 135.9,125.69 136.1,125.32 136.2,125.55 136.3,124.79 136.4,124.58 136.5,124.55 136.7,124.30 136.8,124.28 136.9,123.65 137.0,123.89 137.1,123.37 137.3,123.27 137.4,123.26 137.5,122.81 137.6,122.40 137.7,122.02 137.9,122.36 138.0,121.72 138.1,121.69 138.2,121.00 138.3,121.07 138.4,120.24 138.6,120.26 138.7,120.23 138.8,119.46 138.9,119.74 139.0,119.06 139.2,118.77 139.3,118.56 139.4,118.46 139.5,118.06 139.6,117.96 139.8,117.89 139.9,117.16 140.0,117.26 140.1,116.85 140.2,116.46 140.4,116.53 140.5,115.61 140.6,115.81 140.7,115.57 140.8,115.12 141.0,114.89 141.1,114.57 141.2,114.30 141.3,113.70 141.4,113.89 141.6,113.84 141.7,113.25 141.8,112.83 141.9,113.04 142.0,112.36 142.1,111.90 142.3,111.83 142.4,111.45 142.5,111.29 142.6,110.98 142.7,110.66 142.9,110.82 143.0,110.51 143.1,110.34 143.2,109.74 143.3,109.67 143.5,109.36 143.6,109.23 143.7,108.56 143.8,108.61 143.9,108.34 144.1,107.88 144.2,107.86 144.3,107.53 144.4,107.36 144.5,107.13 144.7,107.34 144.8,106.79 144.9,106.67 145.0,105.81 145.1,106.15 145.3,106.52 145.4,105.81 145.5,105.64 145.6,105.49 145.7,105.30 145.8,105.07 146.0,105.38 146.1,104.27 146.2,104.59 146.3,104.67 146.4,104.04 146.6,103.83 146.7,103.58 146.8,103.53 146.9,103.59 147.0,103.23 147.2,103.06 147.3,102.55 147.4,102.96 147.5,102.73 147.6,102.35 147.8,102.35 147.9,102.25 148.0,102.04 148.1,101.59 148.2,101.84 148.4,101.77 148.5,101.48 148.6,101.65 148.7,101.28 148.8,101.34 149.0,101.28 149.1,100.77 149.2,100.88 149.3,100.93 149.4,100.54 149.5,100.82 149.7,100.27 149.8,100.38 149.9,100.60 150.0,99.90 150.1,100.24 150.3,99.87 150.4,99.78 150.5,99.85 150.6,99.82 150.7,99.27 150.9,99.20 151.0,99.20 151.1,99.77 151.2,98.93 151.3,98.86 151.5,98.87 151.6,99.09 151.7,99.60 151.8,99.02 151.9,99.72 152.1,99.11 152.2,99.06 152.3,99.02 152.4,99.41 152.5,99.00 152.7,99.09 152.8,99.54 152.9,99.30 153.0,99.03 153.1,99.15 153.2,98.71 153.4,98.26 153.5,99.42 153.6,98.71 153.7,99.30 153.8,98.76 154.0,98.52 154.1,98.42 154.2,98.50 154.3,98.53 154.4,99.08 154.6,98.98 154.7,98.70 154.8,97.94 154.9,98.11 155.0,98.58 155.2,98.44 155.3,98.68 155.4,98.62 155.5,98.98 155.6,98.22 155.8,98.12 155.9,98.32 156.0,97.65 156.1,98.11 156.2,98.44 156.4,98.26 156.5,97.73 156.6,98.23 156.7,98.44 156.8,97.93 156.9,98.35 157.1,97.75 157.2,98.13 157.3,97.54 157.4,97.47 157.5,98.33 157.7,98.65 157.8,97.35 157.9,98.44 158.0,97.62 158.1,96.55 158.3,97.07 158.4,98.69 158.5,97.61 158.6,97.87 158.7,96.78 158.9,97.24 159.0,96.65 159.1,97.37 159.2,98.44 159.3,97.17 159.5,98.90 159.6,97.05 159.7,98.12 159.8,98.50 159.9,97.77 160.1,97.77 160.2,98.65 160.3,98.49 160.4,98.55 160.5,98.57 160.6,97.67 160.8,98.74 160.9,98.77 161.0,98.65 161.1,98.53 161.2,99.29 161.4,99.24 161.5,99.01 161.6,98.94 161.7,98.83 161.8,99.09 162.0,99.54 162.1,99.42 162.2,99.64 162.3,100.05 162.4,100.29 162.6,100.49 162.7,100.00 162.8,100.87 162.9,100.27 163.0,100.82 163.2,101.00 163.3,101.11 163.4,101.13 163.5,101.63 163.6,101.75 163.8,102.17 163.9,102.37 164.0,102.25 164.1,102.54 164.2,102.66 164.3,102.79 164.5,103.19 164.6,103.23 164.7,103.06 164.8,103.56 164.9,103.92 165.1,103.81 165.2,104.21 165.3,104.36 165.4,104.81 165.5,105.25 165.7,105.48 165.8,105.62 165.9,105.85 166.0,106.24 166.1,106.44 166.3,106.75 166.4,106.81 166.5,107.01 166.6,107.49 166.7,107.74 166.9,108.05 167.0,108.29 167.1,108.82 167.2,109.30 167.3,109.16 167.5,109.56 167.6,110.15 167.7,110.43 167.8,110.56 167.9,111.26 168.0,111.07 168.2,111.67 168.3,112.18 168.4,112.28 168.5,112.66 168.6,113.07 168.8,113.51 168.9,113.45 169.0,114.37 169.1,114.38 169.2,114.58 169.4,114.75 169.5,115.97 169.6,115.37 169.7,116.23 169.8,116.07 170.0,117.39 170.1,117.92 170.2,118.16 170.3,117.82 170.4,118.93 170.6,118.90 170.7,119.28 170.8,119.89 170.9,119.81 171.0,120.52 171.2,120.69 171.3,121.32 171.4,121.17 171.5,121.69 171.6,122.39 171.7,122.54 171.9,123.01 172.0,123.47 172.1,123.48 172.2,123.97 172.3,124.61 172.5,125.25 172.6,125.79 172.7,125.52 172.8,125.90 172.9,126.13 173.1,126.89 173.2,127.22 173.3,127.63 173.4,127.76 173.5,128.23 173.7,129.03 173.8,128.98 173.9,129.18 174.0,129.91 174.1,130.02 174.3,130.61 174.4,130.81 174.5,131.28 174.6,131.33 174.7,132.05 174.9,132.22 175.0,131.99 175.1,132.71 175.2,133.65 175.3,133.60 175.4,133.33 175.6,134.12 175.7,134.46 175.8,134.79 175.9,134.68 176.0,135.01 176.2,135.88 176.3,136.11 176.4,135.82 176.5,136.52 176.6,137.25 176.8,137.37 176.9,137.05 177.0,137.92 177.1,137.78 177.2,138.44 177.4,139.15 177.5,138.99 177.6,139.43 177.7,139.91 177.8,139.63 178.0,139.67 178.1,140.05 178.2,140.40 178.3,140.58 178.4,141.18 178.6,141.13 178.7,141.22 178.8,141.63 178.9,141.70 179.0,142.52 179.1,142.33 179.3,142.40 179.4,142.43 179.5,143.03 179.6,142.99 179.7,143.88 179.9,143.27 180.0,143.56 180.1,144.57 180.2,144.53 180.3,144.70 180.5,144.49 180.6,144.44 180.7,145.03 180.8,145.00 180.9,145.19 181.1,145.02 181.2,144.75 181.3,145.41 181.4,146.35 181.5,146.12 181.7,145.91 181.8,146.19 181.9,145.89 182.0,146.20 182.1,146.36 182.3,146.51 182.4,146.08 182.5,146.68 182.6,146.98 182.7,146.37 182.8,146.79 183.0,146.77 183.1,147.17 183.2,146.87 183.3,147.34 183.4,147.41 183.6,147.62 183.7,147.44 183.8,147.26 183.9,146.99 184.0,147.28 184.2,147.10 184.3,147.23 184.4,148.30 184.5,146.89 184.6,147.49 184.8,148.07 184.9,148.31 185.0,148.23 185.1,147.73 185.2,147.27 185.4,148.25 185.5,148.95 185.6,148.18 185.7,148.64 185.8,148.04 186.0,148.75 186.1,147.77 186.2,147.44 186.3,148.27 186.4,147.77 186.5,148.05 186.7,147.37 186.8,147.97 186.9,147.68 187.0,148.19 187.1,147.59 187.3,147.43 187.4,148.21 187.5,148.64 187.6,148.78 187.7,147.61 187.9,148.11 188.0,149.19 188.1,149.13 188.2,148.74 188.3,148.56 188.5,148.79 188.6,148.45 188.7,148.39 188.8,149.02 188.9,147.02 189.1,148.87 189.2,147.33 189.3,148.74 189.4,149.01 189.5,146.72 189.7,147.10 189.8,148.95 189.9,146.71 190.0,147.33 190.1,147.26 190.2,147.20 190.4,147.06 190.5,147.82 190.6,146.69 190.7,145.73 190.8,146.68 191.0,145.76 191.1,146.12 191.2,145.80 191.3,145.95 191.4,145.04 191.6,145.49 191.7,145.42 191.8,144.64 191.9,144.61 192.0,144.08 192.2,144.26 192.3,144.23 192.4,144.56 192.5,144.21 192.6,143.05 192.8,142.83 192.9,143.53 193.0,142.36 193.1,142.83 193.2,142.06 193.4,142.12 193.5,141.36 193.6,141.16 193.7,140.91 193.8,140.17 193.9,140.60 194.1,140.63 194.2,140.11 194.3,139.54 194.4,139.24 194.5,139.04 194.7,138.36 194.8,138.45 194.9,138.11 195.0,137.51 195.1,137.36 195.3,136.61 195.4,136.56 195.5,136.06 195.6,135.69 195.7,135.21 195.9,135.08 196.0,135.02 196.1,134.14 196.2,133.94 196.3,133.47 196.5,133.42 196.6,132.37 196.7,132.55 196.8,132.04 196.9,131.62 197.1,131.06 197.2,131.14 197.3,130.55 197.4,130.09 197.5,129.48 197.6,129.55 197.8,129.08 197.9,128.55 198.0,127.60 198.1,127.33 198.2,126.78 198.4,126.12 198.5,126.15 198.6,125.13 198.7,124.97 198.8,124.57 199.0,124.27 199.1,123.51 199.2,122.70 199.3,122.87 199.4,122.63 199.6,121.43 199.7,121.32 199.8,120.79 199.9,120.37 200.0,119.84 200.2,119.25 200.3,119.11 200.4,118.06 200.5,117.83 200.6,117.53 200.7,117.13 200.9,116.63 201.0,116.05 201.1,115.65 201.2,115.08 201.3,114.50 201.5,114.36 201.6,113.19 201.7,112.86 201.8,113.19 201.9,111.94 202.1,111.64 202.2,110.82 202.3,110.98 202.4,110.27 202.5,109.96 202.7,108.99 202.8,108.89 202.9,107.75 203.0,107.94 203.1,107.33 203.3,106.97 203.4,106.61 203.5,105.57 203.6,105.48 203.7,105.02 203.9,104.98 204.0,104.29 204.1,103.90 204.2,102.88 204.3,102.81 204.4,102.62 204.6,101.75 204.7,101.90 204.8,100.69 204.9,100.66 205.0,100.14 205.2,100.12 205.3,99.59 205.4,99.30 205.5,98.77 205.6,98.15 205.8,98.21 205.9,97.62 206.0,97.22 206.1,96.56 206.2,96.48 206.4,95.82 206.5,95.38 206.6,94.86 206.7,94.12 206.8,94.34 207.0,94.46 207.1,93.68 207.2,93.86 207.3,92.78 207.4,92.54 207.6,92.40 207.7,91.77 207.8,91.29 207.9,91.49 208.0,90.97 208.1,90.51 208.3,90.43 208.4,89.95 208.5,89.67 208.6,90.12 208.7,89.44 208.9,88.72 209.0,88.37 209.1,88.10 209.2,88.59 209.3,88.37 209.5,87.83 209.6,87.40 209.7,86.90 209.8,86.94 209.9,86.93 210.1,85.97 210.2,86.31 210.3,86.02 210.4,85.06 210.5,85.37 210.7,84.98 210.8,84.37 210.9,84.46 211.0,84.72 211.1,85.38 211.3,83.49 211.4,83.98 211.5,84.30 211.6,83.16 211.7,83.05 211.8,83.99 212.0,83.82 212.1,83.24 212.2,82.44 212.3,82.86 212.4,82.31 212.6,82.69 212.7,82.87 212.8,82.11 212.9,82.65 213.0,82.51 213.2,82.86 213.3,82.61 213.4,82.71 213.5,81.66 213.6,81.92 213.8,82.06 213.9,82.98 214.0,82.54 214.1,81.40 214.2,81.23 214.4,82.24 214.5,81.74 214.6,81.61 214.7,81.68 214.8,81.55 215.0,82.41 215.1,82.24 215.2,81.71 215.3,81.88 215.4,80.96 215.5,82.08 215.7,80.97 215.8,81.47 215.9,81.56 216.0,80.93 216.1,81.72 216.3,81.22 216.4,82.40 216.5,80.98 216.6,81.06 216.7,80.24 216.9,82.43 217.0,81.87 217.1,81.22 217.2,81.48 217.3,80.09 217.5,81.85 217.6,81.03 217.7,82.45 217.8,80.64 217.9,81.26 218.1,80.26 218.2,80.02 218.3,81.02 218.4,82.31 218.5,79.35 218.7,82.44 218.8,80.60 218.9,80.30 219.0,82.31 219.1,82.34 219.2,80.93 219.4,81.11 219.5,81.31 219.6,82.38 219.7,81.89 219.8,82.91 220.0,82.67 220.1,81.83 220.2,82.17 220.3,82.58 220.4,83.48 220.6,82.94 220.7,83.21 220.8,83.99 220.9,84.24 221.0,84.44 221.2,84.26 221.3,84.47 221.4,84.25 221.5,84.70 221.6,84.56 221.8,85.92 221.9,85.24 222.0,85.41 222.1,85.38 222.2,85.71 222.4,85.87 222.5,86.53 222.6,86.67 222.7,86.73 222.8,87.58 222.9,87.85 223.1,88.41 223.2,88.14 223.3,88.47 223.4,88.67 223.5,89.60 223.7,89.90 223.8,90.06 223.9,90.18 224.0,91.15 224.1,91.28 224.3,91.75 224.4,91.87 224.5,92.07 224.6,93.21 224.7,92.89 224.9,93.48 225.0,94.10 225.1,94.32 225.2,94.82 225.3,95.20 225.5,95.67 225.6,95.85 225.7,95.89 225.8,96.52 225.9,97.46 226.1,97.71 226.2,97.87 226.3,98.97 226.4,99.39 226.5,99.38 226.6,100.09 226.8,100.99 226.9,100.90 227.0,101.45 227.1,101.83 227.2,102.06 227.4,103.11 227.5,103.17 227.6,104.28 227.7,103.74 227.8,105.16 228.0,105.62 228.1,106.22 228.2,106.23 228.3,107.71 228.4,108.07 228.6,108.07 228.7,109.20 228.8,109.71 228.9,110.03 229.0,110.11 229.2,111.34 229.3,111.56 229.4,111.49 229.5,112.84 229.6,112.95 229.8,113.55 229.9,115.03 230.0,115.14 230.1,115.56 230.2,114.99 230.3,117.18 230.5,117.44 230.6,118.00 230.7,118.17 230.8,119.11 230.9,119.15 231.1,119.95 231.2,120.77 231.3,121.51 231.4,121.58 231.5,122.95 231.7,122.98 231.8,122.85 231.9,124.09 232.0,125.14 232.1,124.56 232.3,125.72 232.4,126.17 232.5,127.10 232.6,127.54 232.7,128.20 232.9,129.41 233.0,129.27 233.1,129.83 233.2,130.62 233.3,131.76 233.5,131.48 233.6,132.20 233.7,132.52 233.8,133.19 233.9,133.51 234.0,133.98 234.2,135.42 234.3,136.02 234.4,137.15 234.5,136.73 234.6,136.50 234.8,138.46 234.9,137.86 235.0,138.45 235.1,139.85 235.2,140.03 235.4,139.92 235.5,140.78 235.6,141.26 235.7,142.12 235.8,142.69 236.0,142.72 236.1,144.00 236.2,144.01 236.3,143.74 236.4,145.08 236.6,144.97 236.7,145.67 236.8,145.88 236.9,146.57 237.0,147.35 237.2,148.33 237.3,148.45 237.4,148.52 237.5,148.68 237.6,148.83 237.7,149.32 237.9,150.70 238.0,150.16 238.1,151.34 238.2,151.64 238.3,151.79 238.5,152.12 238.6,151.98 238.7,153.37 238.8,152.61 238.9,152.91 239.1,154.43 239.2,154.83 239.3,154.59 239.4,155.28 239.5,156.00 239.7,155.38 239.8,156.19 239.9,156.05 240.0,156.91 240.1,156.36 240.3,156.59 240.4,157.71 240.5,157.58 240.6,158.68 240.7,157.98 240.9,158.11 241.0,158.95 241.1,159.05 241.2,159.25 241.3,159.73 241.4,159.68 241.6,160.42 241.7,159.74 241.8,160.93 241.9,161.10 242.0,160.34 242.2,160.69 242.3,161.66 242.4,161.15 242.5,162.11 242.6,161.10 242.8,162.70 242.9,162.83 243.0,161.04 243.1,161.87 243.2,161.53 243.4,162.20 243.5,162.51 243.6,161.37 243.7,162.25 243.8,162.79 244.0,161.97 244.1,162.10 244.2,162.39 244.3,161.47 244.4,162.58 244.6,163.15 244.7,162.92 244.8,163.13 244.9,162.76 245.0,162.83 245.1,162.31 245.3,163.72 245.4,163.66 245.5,162.64 245.6,162.79 245.7,162.39 245.9,162.46 246.0,163.02 246.1,163.31 246.2,162.99 246.3,162.78 246.5,163.56 246.6,163.25 246.7,162.34 246.8,161.82 246.9,164.12 247.1,161.42 247.2,162.52 247.3,162.86 247.4,163.61 247.5,163.94 247.7,163.06 247.8,162.70 247.9,164.14 248.0,164.11 248.1,162.03 248.3,160.86 248.4,162.19 248.5,163.08 248.6,162.87 248.7,164.08 248.8,163.25 249.0,161.83 249.1,161.01 249.2,162.02 249.3,161.89 249.4,161.90 249.6,162.29 249.7,161.80 249.8,161.66 249.9,161.85 250.0,161.01 250.2,160.29 250.3,161.26 250.4,159.68 250.5,159.47 250.6,159.79 250.8,159.34 250.9,159.83 251.0,159.15 251.1,158.66 251.2,158.24 251.4,157.76 251.5,157.78 251.6,157.31 251.7,156.99 251.8,156.54 252.0,156.01 252.1,156.10 252.2,155.90 252.3,155.53 252.4,154.14 252.5,154.86 252.7,153.83 252.8,153.40 252.9,153.93 253.0,153.68 253.1,153.37 253.3,152.06 253.4,152.47 253.5,151.70 253.6,151.77 253.7,150.62 253.9,150.86 254.0,149.71 254.1,148.92 254.2,149.63 254.3,148.35 254.5,148.22 254.6,147.80 254.7,147.28 254.8,146.78 254.9,146.23 255.1,145.81 255.2,144.92 255.3,145.00 255.4,144.19 255.5,143.29 255.7,143.63 255.8,143.25 255.9,141.80 256.0,141.65 256.1,140.70 256.2,140.13 256.4,139.42 256.5,139.23 256.6,139.07 256.7,138.25 256.8,137.48 257.0,137.03 257.1,136.81 257.2,135.15 257.3,135.18 257.4,134.62 257.6,133.98 257.7,132.91 257.8,132.31 257.9,131.39 258.0,131.83 258.2,131.42 258.3,130.81 258.4,130.05 258.5,129.39 258.6,128.69 258.8,128.43 258.9,126.93 259.0,126.70 259.1,126.26 259.2,125.58 259.4,124.96 259.5,123.67 259.6,123.57 259.7,123.16 259.8,121.37 259.9,121.07 260.1,120.84 260.2,120.09 260.3,119.03 260.4,119.48 260.5,118.75 260.7,117.15 260.8,116.56 260.9,117.17 261.0,116.12 261.1,114.68 261.3,114.88 261.4,113.71 261.5,112.98 261.6,112.68 261.7,111.83 261.9,111.06 262.0,110.55 262.1,109.72 262.2,109.54 262.3,108.85 262.5,107.80 262.6,106.84 262.7,106.04 262.8,105.57 262.9,105.78 263.1,104.96 263.2,103.40 263.3,103.25 263.4,103.08 263.5,102.73 263.6,100.60 263.8,101.39 263.9,100.75 264.0,99.13 264.1,99.81 264.2,98.90 264.4,97.95 264.5,97.33 264.6,96.78 264.7,96.00 264.8,95.81 265.0,94.61 265.1,93.87 265.2,93.64 265.3,93.05 265.4,92.53 265.6,92.30 265.7,91.41 265.8,91.18 265.9,90.79 266.0,90.27 266.2,90.31 266.3,89.09 266.4,88.68 266.5,88.29 266.6,86.99 266.8,87.23 266.9,87.06 267.0,86.27 267.1,85.32 267.2,84.75 267.3,84.24 267.5,84.38 267.6,83.76 267.7,82.98 267.8,83.30 267.9,82.46 268.1,82.30 268.2,80.57 268.3,80.66 268.4,80.19 268.5,79.30 268.7,79.67 268.8,79.22 268.9,78.70 269.0,78.21 269.1,78.30 269.3,78.14 269.4,76.44 269.5,76.54 269.6,76.61 269.7,76.47 269.9,75.35 270.0,75.22 270.1,75.63 270.2,75.16 270.3,74.90 270.5,74.79 270.6,73.40 270.7,73.43 270.8,72.38 270.9,73.32 271.0,72.78 271.2,72.75 271.3,72.20 271.4,71.60 271.5,72.13 271.6,70.78 271.8,70.41 271.9,70.34 272.0,70.49 272.1,70.12 272.2,69.87 272.4,70.20 272.5,70.46 272.6,70.21 272.7,69.07 272.8,69.76 273.0,69.38 273.1,68.83 273.2,69.70 273.3,69.00 273.4,69.86 273.6,69.18 273.7,68.79 273.8,69.83 273.9,69.78 274.0,68.97 274.2,69.63 274.3,68.20 274.4,69.06 274.5,68.22 274.6,67.93 274.7,69.59 274.9,67.90 275.0,68.61 275.1,68.65 275.2,68.58 275.3,67.35 275.5,68.24 275.6,68.32 275.7,67.45 275.8,68.38 275.9,67.96 276.1,68.28 276.2,67.48 276.3,69.26 276.4,69.38 276.5,68.03 276.7,69.01 276.8,68.87 276.9,68.95 277.0,69.17 277.1,67.61 277.3,69.29 277.4,69.32 277.5,67.76 277.6,66.39 277.7,68.80 277.9,67.43 278.0,66.92 278.1,69.47 278.2,69.76 278.3,67.17 278.4,69.45 278.6,68.01 278.7,68.54 278.8,68.15 278.9,67.96 279.0,68.73 279.2,67.75 279.3,68.58 279.4,68.26 279.5,69.01 279.6,68.60 279.8,70.36 279.9,70.05 280.0,70.55 280.1,70.35 280.2,69.79 280.4,70.81 280.5,71.03 280.6,70.52 280.7,71.88 280.8,71.86 281.0,71.94 281.1,72.27 281.2,72.00 281.3,72.56 281.4,73.00 281.6,73.07 281.7,73.53 281.8,74.80 281.9,74.72 282.0,74.94 282.1,74.52 282.3,75.40 282.4,76.22 282.5,75.03 282.6,76.41 282.7,76.63 282.9,76.99 283.0,77.26 283.1,78.36 283.2,78.97 283.3,78.89 283.5,79.12 283.6,80.15 283.7,80.54 283.8,81.41 283.9,82.00 284.1,82.74 284.2,82.55 284.3,83.12 284.4,84.51 284.5,83.79 284.7,84.91 284.8,85.25 284.9,85.13 285.0,86.37 285.1,85.89 285.3,87.06 285.4,88.12 285.5,87.93 285.6,88.79 285.7,89.37 285.8,89.37 286.0,91.53 286.1,91.13 286.2,91.89 286.3,92.85 286.4,93.26 286.6,93.32 286.7,94.85 286.8,94.82 286.9,95.50 287.0,96.10 287.2,96.41 287.3,97.74 287.4,97.90 287.5,99.06 287.6,99.62 287.8,100.63 287.9,102.00 288.0,101.31 288.1,103.25 288.2,103.42 288.4,104.50 288.5,104.95 288.6,105.44 288.7,106.14 288.8,106.56 289.0,106.99 289.1,107.97 289.2,108.81 289.3,110.18 289.4,109.62 289.5,112.16 289.7,112.08 289.8,111.60 289.9,114.15 290.0,114.79 290.1,114.71 290.3,114.93 290.4,116.93 290.5,117.56 290.6,118.10 290.7,118.76 290.9,119.81 291.0,120.24 291.1,121.19 291.2,122.20 291.3,123.29 291.5,123.48 291.6,124.69 291.7,125.08 291.8,125.42 291.9,126.13 292.1,126.73 292.2,127.93 292.3,129.28 292.4,128.97 292.5,130.07 292.7,131.39 292.8,133.41 292.9,132.42 293.0,133.18 293.1,135.27 293.2,134.22 293.4,135.37 293.5,136.29 293.6,137.37 293.7,137.74 293.8,138.56 294.0,139.39 294.1,140.85 294.2,141.03 294.3,141.76 294.4,142.23 294.6,142.54 294.7,143.92 294.8,144.09 294.9,145.33 295.0,145.65 295.2,147.22 295.3,148.04 295.4,149.12 295.5,148.65 295.6,149.87 295.8,150.29 295.9,151.73 296.0,151.75 296.1,152.59 296.2,152.82 296.4,154.01 296.5,154.23 296.6,155.84 296.7,155.60 296.8,155.79 296.9,157.34 297.1,157.37 297.2,158.57 297.3,158.70 297.4,159.68 297.5,159.57 297.7,160.96 297.8,161.14 297.9,161.68 298.0,163.00 298.1,163.25 298.3,163.25 298.4,164.52 298.5,165.43 298.6,164.88 298.7,165.88 298.9,165.94 299.0,166.41 299.1,166.79 299.2,167.55 299.3,168.16 299.5,168.16 299.6,168.59 299.7,169.36 299.8,169.90 299.9,170.55 300.0,171.97 300.2,170.92 300.3,171.48 300.4,172.87 300.5,172.54 300.6,173.24 300.8,172.51 300.9,172.76 301.0,174.15 301.1,173.78 301.2,174.71 301.4,176.11 301.5,176.34 301.6,175.08 301.7,175.89 301.8,176.66 302.0,176.23 302.1,176.52 302.2,177.79 302.3,177.19 302.4,177.38 302.6,177.89 302.7,178.08 302.8,179.11 302.9,178.05 303.0,178.45 303.2,177.09 303.3,177.75 303.4,177.91 303.5,178.17 303.6,178.21 303.7,179.24 303.9,178.44 304.0,178.28 304.1,177.26 304.2,177.79 304.3,177.77 304.5,179.87 304.6,179.39 304.7,177.74 304.8,179.93 304.9,179.37 305.1,180.31 305.2,178.51 305.3,178.62 305.4,180.16 305.5,178.08 305.7,179.04 305.8,179.25 305.9,177.41 306.0,180.24 306.1,177.84 306.3,179.42 306.4,178.78 306.5,179.15 306.6,177.48 306.7,180.06 306.9,179.06 307.0,180.20 307.1,179.45 307.2,179.49 307.3,177.52 307.4,179.63 307.6,178.37 307.7,177.98 307.8,178.97 307.9,178.53 308.0,178.10 308.2,178.41 308.3,178.85 308.4,178.00 308.5,177.37 308.6,177.94 308.8,176.57 308.9,178.36 309.0,177.01 309.1,178.20 309.2,175.72 309.4,175.87 309.5,174.78 309.6,175.58 309.7,174.70 309.8,176.40 310.0,173.99 310.1,173.58 310.2,174.32 310.3,175.08 310.4,173.84 310.6,172.07 310.7,173.19 310.8,171.77 310.9,171.19 311.0,171.84 311.1,170.44 311.3,170.33 311.4,170.87 311.5,169.63 311.6,170.23 311.7,169.38 311.9,168.71 312.0,167.72 312.1,168.21 312.2,166.80 312.3,165.77 312.5,165.80 312.6,165.01 312.7,164.83 312.8,163.80 312.9,164.25 313.1,163.19 313.2,162.80 313.3,162.03 313.4,161.90 313.5,161.48 313.7,161.19 313.8,160.30 313.9,159.42 314.0,159.32 314.1,158.25 314.3,157.74 314.4,157.44 314.5,155.53 314.6,154.82 314.7,154.43 314.8,153.84 315.0,152.84 315.1,153.29 315.2,152.63 315.3,152.18 315.4,150.86 315.6,149.90 315.7,149.81 315.8,148.13 315.9,148.71 316.0,146.95 316.2,145.96 316.3,146.21 316.4,145.20 316.5,144.84 316.6,143.71 316.8,143.13 316.9,142.98 317.0,141.78 317.1,140.84 317.2,140.03 317.4,138.21 317.5,138.06 317.6,137.17 317.7,136.93 317.8,135.88 318.0,135.41 318.1,134.40 318.2,133.81 318.3,133.43 318.4,132.00 318.5,130.57 318.7,131.14 318.8,130.26 318.9,128.24 319.0,127.32 319.1,127.47 319.3,126.42 319.4,125.96 319.5,124.87 319.6,124.44 319.7,123.89 319.9,123.00 320.0,121.96 320.1,120.47 320.2,120.41 320.3,118.60 320.5,118.91 320.6,117.62 320.7,117.03 320.8,116.20 320.9,116.17 321.1,114.43 321.2,113.75 321.3,112.28 321.4,111.78 321.5,110.55 321.7,110.57 321.8,108.91 321.9,108.67 322.0,107.69 322.1,107.11 322.2,106.32 322.4,105.45 322.5,105.27 322.6,103.43 322.7,103.07 322.8,102.32 323.0,101.71 323.1,100.35 323.2,100.43 323.3,99.06 323.4,97.98 323.6,97.90 323.7,96.94 323.8,96.34 323.9,94.96 324.0,94.98 324.2,94.85 324.3,92.57 324.4,92.86 324.5,92.77 324.6,92.17 324.8,90.62 324.9,89.00 325.0,89.64 325.1,89.14 325.2,88.23 325.4,87.20 325.5,86.18 325.6,86.03 325.7,85.28 325.8,83.90 325.9,83.05 326.1,83.42 326.2,82.95 326.3,81.98 326.4,81.70 326.5,80.37 326.7,80.49 326.8,78.85 326.9,78.78 327.0,78.43 327.1,77.88 327.3,76.91 327.4,76.83 327.5,76.48 327.6,76.38 327.7,74.41 327.9,73.58 328.0,73.65 328.1,74.21 328.2,72.69 328.3,72.09 328.5,72.23 328.6,71.19 328.7,71.29 328.8,69.97 328.9,69.81 329.1,69.11 329.2,67.81 329.3,67.83 329.4,67.80 329.5,66.75 329.6,66.75 329.8,66.59 329.9,65.40 330.0,65.65 330.1,65.56 330.2,65.00 330.4,65.41 330.5,63.99 330.6,64.08 330.7,63.88 330.8,63.38 331.0,63.82 331.1,62.89 331.2,62.51 331.3,62.56 331.4,61.68 331.6,62.38 331.7,60.15 331.8,61.94 331.9,60.48 332.0,61.09 332.2,60.34 332.3,60.76 332.4,60.32 332.5,59.48 332.6,58.71 332.8,59.77 332.9,59.45 333.0,59.81 333.1,59.78 333.2,59.54 333.3,58.68 333.5,59.38 333.6,59.54 333.7,59.44 333.8,59.59 333.9,60.30 334.1,58.92 334.2,60.07 334.3,58.30 334.4,58.86 334.5,58.58 334.7,58.33 334.8,58.37 334.9,60.11 335.0,58.96 335.1,57.54 335.3,58.45 335.4,57.86 335.5,58.34 335.6,57.85 335.7,59.33 335.9,58.63 336.0,58.34 336.1,58.31 336.2,59.61 336.3,59.91 336.5,59.24 336.6,60.38 336.7,59.79 336.8,57.81 336.9,59.12 337.0,59.83 337.2,59.91 337.3,59.01 337.4,58.12 337.5,59.02 337.6,58.84 337.8,58.56 337.9,59.30 338.0,59.88 338.1,60.61 338.2,58.95 338.4,59.76 338.5,59.12 338.6,58.10 338.7,58.09 338.8,59.76 339.0,59.72 339.1,59.88 339.2,59.88 339.3,61.30 339.4,60.89 339.6,60.78 339.7,61.47 339.8,61.72 339.9,61.23 340.0,61.36 340.2,61.93 340.3,62.53 340.4,62.93 340.5,63.74 340.6,63.95 340.7,62.51 340.9,64.08 341.0,64.80 341.1,63.92 341.2,64.84 341.3,66.13 341.5,65.93 341.6,66.31 341.7,66.75 341.8,65.94 341.9,67.50 342.1,67.61 342.2,67.61 342.3,68.48 342.4,68.71 342.5,69.13 342.7,70.04 342.8,70.83 342.9,70.77 343.0,71.76 343.1,70.87 343.3,71.35 343.4,72.37 343.5,74.35 343.6,73.95 343.7,74.70 343.9,75.01 344.0,75.85 344.1,76.12 344.2,76.32 344.3,77.38 344.4,77.85 344.6,77.79 344.7,78.45 344.8,79.47 344.9,80.03 345.0,80.74 345.2,81.68 345.3,81.21 345.4,83.36 345.5,83.82 345.6,84.85 345.8,86.14 345.9,85.73 346.0,86.59 346.1,87.54 346.2,88.07 346.4,88.38 346.5,89.22 346.6,91.58 346.7,92.49 346.8,91.78 347.0,92.57 347.1,93.67 347.2,95.09 347.3,95.31 347.4,95.40 347.6,96.44 347.7,96.60 347.8,98.44 347.9,98.29 348.0,100.41 348.1,101.25 348.3,101.52 348.4,101.77 348.5,104.23 348.6,104.49 348.7,104.09 348.9,104.98 349.0,106.68 349.1,107.21 349.2,108.44 349.3,110.04 349.5,110.31 349.6,111.39 349.7,111.57 349.8,113.36 349.9,114.12 350.1,114.88 350.2,114.87 350.3,116.09 350.4,116.64 350.5,118.32 350.7,119.58 350.8,121.05 350.9,121.01 351.0,121.66 351.1,122.22 351.3,124.66 351.4,125.40 351.5,125.72 351.6,127.24 351.7,128.00 351.8,128.82 352.0,129.11 352.1,130.24 352.2,131.11 352.3,132.46 352.4,133.77 352.6,134.31 352.7,134.27 352.8,136.77 352.9,137.12 353.0,138.72 353.2,139.44 353.3,140.06 353.4,140.51 353.5,141.90 353.6,143.34 353.8,143.38 353.9,145.40 354.0,145.46 354.1,146.54 354.2,148.05 354.4,148.89 354.5,149.33 354.6,150.27 354.7,150.89 354.8,152.85 355.0,153.19 355.1,153.65 355.2,155.11 355.3,155.51 355.4,157.76 355.5,157.45 355.7,158.17 355.8,158.10 355.9,159.67 356.0,160.57 356.1,161.60 356.3,163.34 356.4,164.69 356.5,164.65 356.6,164.50 356.7,166.08 356.9,166.39 357.0,167.65 357.1,169.04 357.2,170.85 357.3,171.93 357.5,170.43 357.6,172.06 357.7,172.22 357.8,174.09 357.9,173.74 358.1,174.92 358.2,175.94 358.3,177.08 358.4,177.51 358.5,177.61 358.7,179.63 358.8,179.53 358.9,179.96 359.0,180.20 359.1,181.38 359.2,182.24 359.4,183.38 359.5,183.95 359.6,184.18 359.7,185.58 359.8,184.54 360.0,186.48 360.1,187.24 360.2,187.75 360.3,188.24 360.4,189.73 360.6,188.82 360.7,189.45 360.8,191.91 360.9,191.58 361.0,191.82 361.2,192.74 361.3,192.37 361.4,193.10 361.5,193.99 361.6,194.22 361.8,192.82 361.9,194.25 362.0,194.29 362.1,194.47 362.2,196.32 362.4,197.10 362.5,195.59 362.6,196.68 362.7,195.66 362.8,196.77 362.9,197.95 363.1,196.69 363.2,197.04 363.3,198.70 363.4,197.99 363.5,197.55 363.7,198.14 363.8,198.13 363.9,197.79 364.0,197.12 364.1,198.78 364.3,197.48 364.4,198.98 364.5,199.57 364.6,197.34 364.7,199.07 364.9,199.96 365.0,198.48 365.1,199.35 365.2,197.36 365.3,197.74 365.5,199.72 365.6,198.44 365.7,199.87 365.8,198.57 365.9,197.50 366.1,198.60 366.2,197.50 366.3,200.35 366.4,198.19 366.5,197.88 366.6,198.13 366.8,199.60 366.9,198.09 367.0,197.60 367.1,200.63 367.2,198.27 367.4,199.97 367.5,198.34 367.6,199.59 367.7,198.67 367.8,199.53 368.0,198.92 368.1,199.69 368.2,197.78 368.3,197.12 368.4,198.23 368.6,198.24 368.7,199.08 368.8,198.14 368.9,197.09 369.0,196.55 369.2,197.49 369.3,197.21 369.4,197.71 369.5,195.36 369.6,196.52 369.8,194.47 369.9,196.50 370.0,194.35 370.1,193.02 370.2,194.84 370.3,192.05 370.5,193.49 370.6,191.62 370.7,191.05 370.8,191.80 370.9,189.19 371.1,188.50 371.2,188.45 371.3,188.83 371.4,187.93 371.5,187.85 371.7,187.06 371.8,185.56 371.9,184.68 372.0,184.53 372.1,183.27 372.3,183.16 372.4,183.05 372.5,183.02 372.6,182.38 372.7,181.05 372.9,179.21 373.0,178.36 373.1,178.75 373.2,177.45 373.3,177.94 373.5,176.89 373.6,176.35 373.7,175.40 373.8,174.51 373.9,173.74 374.0,172.70 374.2,171.71 374.3,170.47 374.4,169.40 374.5,168.81 374.6,169.24 374.8,166.79 374.9,165.65 375.0,164.52 375.1,164.44 375.2,164.75 375.4,162.48 375.5,162.78 375.6,160.92 375.7,159.58 375.8,157.82 376.0,158.41 376.1,157.18 376.2,156.44 376.3,155.97 376.4,153.80 376.6,153.77 376.7,153.17 376.8,151.07 376.9,149.02 377.0,149.13 377.2,147.83 377.3,146.41 377.4,145.10 377.5,145.28 377.6,143.94 377.7,143.36 377.9,142.32 378.0,139.93 378.1,139.96 378.2,138.49 378.3,138.32 378.5,136.43 378.6,135.14 378.7,133.93 378.8,133.25 378.9,131.78 379.1,130.56 379.2,130.09 379.3,127.30 379.4,127.01 379.5,126.81 379.7,123.79 379.8,124.30 379.9,122.46 380.0,122.10 380.1,120.23 380.3,120.15 380.4,118.14 380.5,118.76 380.6,115.60 380.7,114.08 380.9,114.98 381.0,112.95 381.1,111.68 381.2,110.53 381.3,108.75 381.4,108.06 381.6,107.22 381.7,106.08 381.8,103.98 381.9,103.12 382.0,102.20 382.2,100.55 382.3,99.15 382.4,99.90 382.5,99.23 382.6,96.20 382.8,95.63 382.9,93.21 383.0,94.57 383.1,92.12 383.2,91.71 383.4,89.45 383.5,90.10 383.6,87.49 383.7,86.22 383.8,85.87 384.0,84.90 384.1,84.42 384.2,82.37 384.3,82.11 384.4,80.46 384.6,80.17 384.7,78.34 384.8,76.58 384.9,76.27 385.0,75.32 385.1,74.74 385.3,73.15 385.4,71.96 385.5,72.30 385.6,70.30 385.7,70.15 385.9,68.49 386.0,67.52 386.1,65.94 386.2,64.74 386.3,65.71 386.5,63.68 386.6,62.98 386.7,61.14 386.8,61.53 386.9,60.00 387.1,59.60 387.2,57.35 387.3,57.83 387.4,56.07 387.5,55.82 387.7,55.33 387.8,54.75 387.9,53.66 388.0,53.59 388.1,51.52 388.3,50.67 388.4,50.36 388.5,49.69 388.6,48.52 388.7,48.52 388.8,46.40 389.0,45.85 389.1,46.60 389.2,44.64 389.3,45.10 389.4,44.94 389.6,44.22 389.7,43.40 389.8,41.03 389.9,41.33 390.0,41.29 390.2,39.63 390.3,38.96 390.4,39.73 390.5,38.63 390.6,37.39 390.8,38.44 390.9,38.26 391.0,34.87 391.1,36.22 391.2,35.27 391.4,35.81 391.5,34.55 391.6,34.64 391.7,34.30 391.8,33.07 392.0,32.07 392.1,31.73 392.2,31.73 392.3,31.94 392.4,32.86 392.5,32.25 392.7,30.08 392.8,29.83 392.9,30.81 393.0,31.32 393.1,32.22 393.3,31.71 393.4,29.08 393.5,31.64 393.6,30.35 393.7,31.16 393.9,31.78 394.0,29.69 394.1,31.32 394.2,29.64 394.3,30.22 394.5,30.06 394.6,30.55 394.7,29.29 394.8,30.07 394.9,31.99 395.1,30.25 395.2,29.22 395.3,31.49 395.4,28.81 395.5,31.10 395.6,31.00 395.8,30.50 395.9,31.35 396.0,29.29 396.1,31.07 396.2,31.07 396.4,29.70 396.5,28.24 396.6,29.21 396.7,29.22 396.8,28.92 397.0,30.68 397.1,30.63 397.2,31.49 397.3,29.64 397.4,28.43 397.6,29.05 397.7,29.55 397.8,30.35 397.9,31.51 398.0,30.97 398.2,31.95 398.3,30.35 398.4,31.95 398.5,29.93 398.6,30.86 398.8,32.12 398.9,32.99 399.0,31.94 399.1,34.30 399.2,32.45 399.3,33.65 399.5,34.87 399.6,34.54 399.7,34.74 399.8,34.87 399.9,35.50 400.1,37.22 400.2,37.68 400.3,37.75 400.4,37.31 400.5,38.40 400.7,38.99 400.8,40.30 400.9,40.88 401.0,42.81 401.1,41.39 401.3,43.02 401.4,42.97 401.5,43.65 401.6,44.66 401.7,46.15 401.9,46.10 402.0,46.67 402.1,46.85 402.2,46.85 402.3,49.12 402.5,50.70 402.6,49.90 402.7,51.13 402.8,52.47 402.9,52.13 403.0,53.16 403.2,54.02 403.3,55.29 403.4,56.10 403.5,56.10 403.6,57.77 403.8,60.14 403.9,59.21 404.0,60.98 404.1,61.20 404.2,62.89 404.4,63.60 404.5,64.78 404.6,65.58 404.7,65.19 404.8,65.73 405.0,67.98 405.1,69.14 405.2,70.36 405.3,71.06 405.4,72.06 405.6,72.92 405.7,74.40 405.8,74.60 405.9,76.24 406.0,77.03 406.2,77.36 406.3,78.53 406.4,80.68 406.5,81.07 406.6,83.55 406.7,83.81 406.9,84.70 407.0,85.32 407.1,86.10 407.2,88.10 407.3,88.74 407.5,90.00 407.6,91.21 407.7,91.89 407.8,94.08 407.9,94.63 408.1,95.96 408.2,95.84 408.3,98.42 408.4,98.87 408.5,100.28 408.7,101.41 408.8,103.00 408.9,103.31 409.0,105.08 409.1,106.39 409.3,108.62 409.4,108.06 409.5,109.58 409.6,111.25 409.7,110.27 409.9,113.50 410.0,113.92 410.1,114.81 410.2,116.33 410.3,117.62 410.4,119.06 410.6,120.05 410.7,120.44 410.8,123.06 410.9,124.46 411.0,125.99 411.2,126.14 411.3,127.44 411.4,128.40 411.5,128.91 411.6,130.49 411.8,131.80 411.9,133.16 412.0,134.12 412.1,134.32 412.2,136.86 412.4,137.64 412.5,138.65 412.6,140.04 412.7,141.32 412.8,143.03 413.0,143.15 413.1,144.72 413.2,146.44 413.3,145.90 413.4,148.08 413.6,149.13 413.7,149.93 413.8,152.05 413.9,151.65 414.0,153.73 414.1,154.48 414.3,154.80 414.4,155.53 414.5,158.34 414.6,158.62 414.7,158.80 414.9,160.59 415.0,162.88 415.1,163.38 415.2,164.56 415.3,165.09 415.5,165.73 415.6,166.78 415.7,167.92 415.8,168.70 415.9,170.01 416.1,170.72 416.2,172.06 416.3,172.50 416.4,172.92 416.5,173.06 416.7,174.47 416.8,176.67 416.9,178.43 417.0,178.85 417.1,179.51 417.3,180.33 417.4,182.22 417.5,181.19 417.6,182.68 417.7,183.90 417.8,183.37 418.0,184.39 418.1,185.53 418.2,186.26 418.3,187.11 418.4,189.22 418.6,188.22 418.7,189.03 418.8,190.14 418.9,191.44 419.0,191.88 419.2,193.06 419.3,192.64 419.4,193.31 419.5,193.43 419.6,195.54 419.8,196.14 419.9,195.30 420.0,196.22 420.1,197.37 420.2,198.95 420.4,200.05 420.5,200.51 420.6,201.30 420.7,201.43 420.8,201.60 421.0,202.38 421.1,202.29 421.2,201.12 421.3,203.23 421.4,202.85 421.5,203.85 421.7,202.45 421.8,205.00 421.9,204.62 422.0,205.31 422.1,205.42 422.3,204.71 422.4,205.32 422.5,205.99 422.6,206.79 422.7,205.64 422.9,205.32 423.0,206.99 423.1,205.27 423.2,207.35 423.3,206.28 423.5,205.53 423.6,205.66 423.7,207.50 423.8,206.27 423.9,207.09 424.1,206.10 424.2,206.32 424.3,206.94 424.4,205.78 424.5,205.96 424.7,208.19 424.8,205.90 424.9,208.66 425.0,208.15 425.1,209.28 425.2,207.21 425.4,208.07 425.5,207.02 425.6,206.17 425.7,206.63 425.8,207.99 426.0,209.16 426.1,208.75 426.2,206.31 426.3,206.85 426.4,209.27 426.6,206.71 426.7,208.00 426.8,207.03 426.9,206.29 427.0,206.01 427.2,205.72 427.3,208.74 427.4,205.35 427.5,206.84 427.6,206.71 427.8,207.39 427.9,207.17 428.0,205.73 428.1,204.88 428.2,206.20 428.4,206.19 428.5,205.62 428.6,204.70 428.7,203.66 428.8,205.17 428.9,204.32 429.1,203.20 429.2,203.34 429.3,202.15 429.4,201.66 429.5,202.45 429.7,202.06 429.8,200.71 429.9,200.20 430.0,200.18 430.1,198.62 430.3,198.67 430.4,198.60 430.5,198.57 430.6,195.81 430.7,196.58 430.9,196.72 431.0,194.29 431.1,194.77 431.2,193.61 431.3,192.92 431.5,190.65 431.6,192.40 431.7,190.95 431.8,190.15 431.9,188.65 432.1,187.57 432.2,186.87 432.3,187.65 432.4,185.52 432.5,185.47 432.6,184.30 432.8,184.44 432.9,182.99 433.0,181.89 433.1,181.57 433.2,181.48 433.4,179.71 433.5,180.59 433.6,177.27 433.7,178.01 433.8,176.44 434.0,176.27 434.1,174.91 434.2,173.04 434.3,173.38 434.4,170.82 434.6,170.68 434.7,169.48 434.8,168.07 434.9,166.99 435.0,166.15 435.2,165.59 435.3,164.68 435.4,164.29 435.5,161.96 435.6,161.35 435.8,161.47 435.9,159.74 436.0,158.95 436.1,157.89 436.2,155.17 436.3,156.11 436.5,154.77 436.6,153.35 436.7,152.87 436.8,150.53 436.9,150.25 437.1,148.08 437.2,147.56 437.3,146.57 437.4,144.48 437.5,143.91 437.7,144.15 437.8,142.38 437.9,140.43 438.0,138.99 438.1,138.54 438.3,137.04 438.4,137.38 438.5,134.49 438.6,134.85 438.7,133.69 438.9,132.90 439.0,129.71 439.1,130.27 439.2,128.95 439.3,126.92 439.5,125.56 439.6,123.84 439.7,124.31 439.8,122.78 439.9,120.56 440.0,120.33 440.2,118.40 440.3,117.70 440.4,117.03 440.5,116.51 440.6,112.65 440.8,111.97 440.9,111.17 441.0,111.46 441.1,109.48 441.2,108.20 441.4,106.87 441.5,105.47 441.6,105.36 441.7,104.13 441.8,102.26 442.0,101.25 442.1,100.68 442.2,99.17 442.3,99.02 442.4,97.17 442.6,95.88 442.7,94.30 442.8,92.80 442.9,92.53 443.0,91.21 443.2,90.02 443.3,89.10 443.4,87.10 443.5,86.52 443.6,87.32 443.7,83.67 443.9,83.53 444.0,83.09 444.1,82.40 444.2,79.52 444.3,79.95 444.5,79.60 444.6,77.92 444.7,76.24 444.8,75.60 444.9,75.01 445.1,74.00 445.2,72.74 445.3,71.37 445.4,69.68 445.5,70.27 445.7,69.06 445.8,67.42 445.9,65.80 446.0,66.33 446.1,65.86 446.3,63.63 446.4,62.90 446.5,62.24 446.6,60.51 446.7,60.42 446.9,59.04 447.0,59.28 447.1,57.68 447.2,57.03 447.3,56.48 447.4,56.09 447.6,54.55 447.7,53.21 447.8,52.59 447.9,52.02 448.0,51.14 448.2,49.76 448.3,50.08 448.4,49.06 448.5,46.95 448.6,47.33 448.8,46.68 448.9,46.15 449.0,45.45 449.1,44.79 449.2,44.05 449.4,43.23 449.5,42.56 449.6,43.48 449.7,42.26 449.8,40.93 450.0,39.62 450.1,41.38 450.2,37.84 450.3,39.82 450.4,38.92 450.6,37.60 450.7,37.34 450.8,36.63 450.9,35.99 451.0,36.20 451.1,36.57 451.3,36.17 451.4,33.64 451.5,33.87 451.6,33.02 451.7,33.02 451.9,33.92 452.0,33.36 452.1,32.45 452.2,31.22 452.3,32.63 452.5,31.47 452.6,30.82 452.7,32.18 452.8,31.46 452.9,30.00 453.1,31.29 453.2,33.44 453.3,30.71 453.4,31.78 453.5,29.74 453.7,31.41 453.8,31.60 453.9,31.22 454.0,31.88 454.1,30.05 454.3,32.37 454.4,30.04 454.5,29.59 454.6,32.56 454.7,32.12 454.8,32.10 455.0,31.20 455.1,30.67 455.2,32.27 455.3,30.21 455.4,31.14 455.6,29.98 455.7,30.72 455.8,29.60 455.9,30.19 456.0,30.95 456.2,30.36 456.3,29.68 456.4,32.32 456.5,31.74 456.6,32.98 456.8,32.96 456.9,31.84 457.0,31.90 457.1,31.42 457.2,32.14 457.4,30.95 457.5,29.56 457.6,29.98 457.7,33.36 457.8,31.02 458.0,32.73 458.1,31.39 458.2,32.38 458.3,32.39 458.4,31.76 458.5,33.49 458.7,31.64 458.8,32.66 458.9,33.79 459.0,33.86 459.1,34.99 459.3,35.52 459.4,35.61 459.5,36.84 459.6,35.89 459.7,35.46 459.9,38.33 460.0,37.92 460.1,36.86 460.2,39.68 460.3,41.00 460.5,40.44 460.6,41.31 460.7,40.83 460.8,42.61 460.9,43.39 461.1,44.41 461.2,42.79 461.3,43.54 461.4,44.30 461.5,46.30 461.7,46.71 461.8,47.20 461.9,48.44 462.0,49.43 462.1,48.82 462.2,49.49 462.4,52.41 462.5,52.14 462.6,53.24 462.7,52.60 462.8,55.18 463.0,54.65 463.1,55.70 463.2,56.67 463.3,56.83 463.4,57.19 463.6,59.38 463.7,60.14 463.8,60.24 463.9,61.51 464.0,62.66 464.2,63.75 464.3,63.92 464.4,64.31 464.5,65.72 464.6,66.89 464.8,68.48 464.9,69.27 465.0,69.40 465.1,70.91 465.2,71.98 465.4,72.64 465.5,73.89 465.6,74.52 465.7,76.41 465.8,76.27 465.9,77.59 466.1,78.94 466.2,80.87 466.3,81.19 466.4,83.10 466.5,83.27 466.7,84.82 466.8,85.04 466.9,86.67 467.0,87.02 467.1,88.42 467.3,89.29 467.4,88.92 467.5,92.61 467.6,92.67 467.7,93.63 467.9,95.25 468.0,97.30 468.1,97.84 468.2,98.36 468.3,99.60 468.5,101.37 468.6,101.68 468.7,102.87 468.8,103.24 468.9,105.27 469.1,106.03 469.2,106.95 469.3,108.78 469.4,110.23 469.5,111.94 469.6,112.06 469.8,113.20 469.9,113.75 470.0,115.68 470.1,117.08 470.2,117.95 470.4,119.72 470.5,121.39 470.6,120.84 470.7,123.26 470.8,124.08 471.0,124.21 471.1,126.52 471.2,127.79 471.3,129.08 471.4,129.07 471.6,132.06 471.7,131.40 471.8,132.37 471.9,133.30 472.0,135.30 472.2,136.02 472.3,138.86 472.4,138.20 472.5,140.21 472.6,141.03 472.8,142.01 472.9,143.52 473.0,144.33 473.1,145.34 473.2,146.56 473.3,147.82 473.5,148.43 473.6,149.77 473.7,152.45 473.8,152.95 473.9,153.69 474.1,153.80 474.2,155.20 474.3,156.56 474.4,156.83 474.5,157.76 474.7,160.28 474.8,161.39 474.9,162.03 475.0,164.12 475.1,164.01 475.3,164.58 475.4,165.72 475.5,167.11 475.6,168.04 475.7,167.68 475.9,169.88 476.0,170.19 476.1,171.96 476.2,172.89 476.3,172.97 476.5,173.69 476.6,176.33 476.7,175.93 476.8,177.53 476.9,178.56 477.0,178.85 477.2,179.76 477.3,180.96 477.4,181.14 477.5,182.76 477.6,183.04 477.8,183.47 477.9,183.64 478.0,185.31 478.1,186.69 478.2,186.81 478.4,187.54 478.5,188.32 478.6,189.27 478.7,189.47 478.8,190.21 479.0,191.04 479.1,191.71 479.2,191.74 479.3,192.22 479.4,193.00 479.6,194.99 479.7,194.90 479.8,195.47 479.9,197.01 480.0,195.45 480.2,197.56 480.3,198.27 480.4,198.99 480.5,200.03 480.6,198.95 480.7,200.89 480.9,200.86 481.0,199.92 481.1,202.61 481.2,203.49 481.3,202.66 481.5,201.55 481.6,204.55 481.7,202.71 481.8,204.92 481.9,204.19 482.1,205.05 482.2,204.29 482.3,203.87 482.4,204.78 482.5,207.19 482.7,205.11 482.8,206.14 482.9,206.36 483.0,205.69 483.1,204.25 483.3,206.60 483.4,207.03 483.5,205.62 483.6,207.54 483.7,207.13 483.9,206.96 484.0,204.94 484.1,206.56 484.2,207.85 484.3,204.46 484.4,204.97 484.6,204.51 484.7,206.28 484.8,206.50 484.9,207.88 485.0,205.24 485.2,207.52 485.3,207.21 485.4,204.92 485.5,207.49 485.6,205.24 485.8,207.46 485.9,207.23 486.0,205.57 486.1,207.45 486.2,207.43 486.4,205.48 486.5,204.07 486.6,205.18 486.7,205.70 486.8,205.03 487.0,203.44 487.1,204.71 487.2,206.08 487.3,204.71 487.4,205.95 487.6,205.03 487.7,204.47 487.8,205.47 487.9,206.32 488.0,206.87 488.1,204.31 488.3,204.18 488.4,204.05 488.5,203.79 488.6,203.06 488.7,204.20 488.9,204.42 489.0,201.45 489.1,201.59 489.2,202.75 489.3,200.60 489.5,200.21 489.6,200.62 489.7,200.65 489.8,198.62 489.9,197.66 490.1,197.44 490.2,197.28 490.3,197.95 490.4,196.68 490.5,195.61 490.7,195.14 490.8,195.17 490.9,194.03 491.0,194.69 491.1,191.49 491.2,192.77 491.4,190.06 491.5,191.18 491.6,190.73 491.7,188.78 491.8,188.04 492.0,188.27 492.1,187.01 492.2,186.14 492.3,184.45 492.4,184.30 492.6,183.26 492.7,181.95 492.8,182.85 492.9,181.55 493.0,181.80 493.2,179.69 493.3,178.56 493.4,178.85 493.5,176.79 493.6,176.27 493.8,174.84 493.9,174.23 494.0,173.41 494.1,171.80 494.2,172.62 494.4,170.14 494.5,168.63 494.6,169.23 494.7,168.68 494.8,167.79 494.9,165.09 495.1,165.24 495.2,163.11 495.3,162.67 495.4,161.34 495.5,161.98 495.7,160.24 495.8,160.70 495.9,157.41 496.0,157.55 496.1,155.68 496.3,153.51 496.4,153.56 496.5,151.97 496.6,151.72 496.7,149.33 496.9,148.60 497.0,148.46 497.1,147.08 497.2,146.04 497.3,144.50 497.5,143.25 497.6,142.17 497.7,141.45 497.8,140.11 497.9,138.84 498.1,138.78 498.2,137.06 498.3,135.68 498.4,135.02 498.5,133.73 498.6,133.15 498.8,130.96 498.9,129.94 499.0,129.28 499.1,128.18 499.2,126.92 499.4,125.30 499.5,124.04 499.6,122.58 499.7,121.53 499.8,121.30 500.0,119.63 500.1,118.58 500.2,118.13 500.3,115.57 500.4,114.49 500.6,114.38 500.7,112.12 500.8,111.87 500.9,110.04 501.0,109.29 501.2,108.29 501.3,106.61 501.4,104.31 501.5,104.93 501.6,103.67 501.8,102.23 501.9,100.17 502.0,100.31 502.1,99.10 502.2,96.81 502.3,96.92 502.5,94.98 502.6,93.66 502.7,93.87 502.8,91.88 502.9,90.65 503.1,90.74 503.2,89.28 503.3,87.21 503.4,86.37 503.5,85.98 503.7,84.65 503.8,84.46 503.9,82.80 504.0,80.83 504.1,80.85 504.3,80.17 504.4,79.39 504.5,78.16 504.6,76.95 504.7,74.61 504.9,73.53 505.0,73.25 505.1,71.94 505.2,71.34 505.3,70.69 505.5,69.05 505.6,68.94 505.7,67.93 505.8,66.37 505.9,66.05 506.0,64.21 506.2,63.40 506.3,63.42 506.4,63.09 506.5,61.38 506.6,60.95 506.8,60.13 506.9,58.88 507.0,57.67 507.1,56.41 507.2,56.24 507.4,55.27 507.5,55.37 507.6,54.38 507.7,53.80 507.8,51.64 508.0,51.94 508.1,51.02 508.2,49.79 508.3,49.42 508.4,48.50 508.6,49.75 508.7,47.37 508.8,46.41 508.9,45.60 509.0,45.23 509.2,45.29 509.3,43.74 509.4,42.36 509.5,43.97 509.6,41.60 509.7,41.63 509.9,41.17 510.0,38.76 510.1,41.22 510.2,40.58 510.3,39.68 510.5,37.88 510.6,37.71 510.7,37.49 510.8,37.41 510.9,36.84 511.1,35.04 511.2,35.73 511.3,35.12 511.4,34.89 511.5,34.09 511.7,33.87 511.8,32.45 511.9,33.47 512.0,33.01 512.1,33.77 512.3,33.60 512.4,32.26 512.5,33.20 512.6,33.79 512.7,31.84 512.9,31.42 513.0,32.75 513.1,32.80 513.2,31.55 513.3,33.08 513.4,33.41 513.6,33.01 513.7,33.82 513.8,29.86 513.9,33.45 514.0,31.34 514.2,31.69 514.3,33.40 514.4,32.30 514.5,30.05 514.6,32.48 514.8,32.88 514.9,29.99 515.0,31.98 515.1,33.31 515.2,32.94 515.4,32.58 515.5,31.05 515.6,29.91 515.7,29.95 515.8,30.18 516.0,32.82 516.1,30.77 516.2,30.42 516.3,30.89 516.4,31.56 516.6,32.46 516.7,32.92 516.8,30.37 516.9,32.59 517.0,32.54 517.1,31.32 517.3,33.40 517.4,32.87 517.5,32.60 517.6,34.21 517.7,31.74 517.9,31.79 518.0,30.23 518.1,32.29 518.2,34.89 518.3,31.98 518.5,34.16 518.6,35.58 518.7,33.16 518.8,34.45 518.9,35.15 519.1,36.31 519.2,36.13 519.3,36.99 519.4,36.73 519.5,36.56 519.7,38.09 519.8,39.90 519.9,37.54 520.0,40.72 520.1,40.72 520.3,40.39 520.4,41.27 520.5,41.51 520.6,41.22 520.7,42.13 520.8,42.45 521.0,44.87 521.1,43.86 521.2,45.48 521.3,45.77 521.4,47.89 521.6,48.50 521.7,48.12 521.8,49.18 521.9,49.98 522.0,50.57 522.2,49.88 522.3,52.16 522.4,53.55 522.5,52.56 522.6,54.41 522.8,54.55 522.9,54.86 523.0,56.63 523.1,58.41 523.2,57.70 523.4,59.15 523.5,60.12 523.6,61.21 523.7,61.03 523.8,63.15 524.0,63.69 524.1,64.30 524.2,65.60 524.3,66.17 524.4,67.40 524.5,68.10 524.7,69.17 524.8,69.47 524.9,72.51 525.0,71.56 525.1,71.97 525.3,74.07 525.4,73.84 525.5,77.22 525.6,76.75 525.7,77.90 525.9,78.76 526.0,79.71 526.1,81.28 526.2,81.09 526.3,82.80 526.5,84.42 526.6,86.03 526.7,86.08 526.8,87.39 526.9,88.81 527.1,89.44 527.2,90.56 527.3,91.06 527.4,93.13 527.5,94.06 527.7,95.40 527.8,95.60 527.9,97.20 528.0,98.73 528.1,99.30 528.2,100.69 528.4,102.54 528.5,103.14 528.6,103.93 528.7,105.54 528.8,106.48 529.0,106.37 529.1,108.77 529.2,110.07 529.3,111.17 529.4,111.20 529.6,112.62 529.7,113.75 529.8,114.61 529.9,117.74 530.0,118.58 530.2,119.46 530.3,119.60 530.4,121.62 530.5,121.94 530.6,123.61 530.8,125.27 530.9,126.34 531.0,127.62 531.1,127.36 531.2,129.24 531.4,130.66 531.5,131.27 531.6,131.74 531.7,134.15 531.8,133.91 531.9,134.55 532.1,137.02 532.2,138.98 532.3,138.43 532.4,140.48 532.5,141.54 532.7,142.75 532.8,142.01 532.9,144.56"/>
</g>
<rect x="55.5" y="9.1" width="478.90" height="237.10" fill="none" stroke="#262626" stroke-width="1.2"/>
<g>
<rect x="55.5" y="217.5" width="187.30" height="28.70" fill="#fff" stroke="#262626" stroke-width="1.2"/>
<g stroke-width="1.15">
<line x1="64" y1="232" x2="94.3" y2="232" stroke="#ff8c00"/>
<line x1="124.2" y1="232" x2="154.5" y2="232" stroke="#4169e1"/>
<line x1="183.8" y1="232" x2="213.3" y2="232" stroke="#228b22"/>
</g>
<g font-size="17">
<text x="101.6" y="237.9">i<tspan font-size="11.3" dx="0.4" dy="3">A</tspan></text>
<text x="161.6" y="237.9">i<tspan font-size="11.3" dx="0.4" dy="3">B</tspan></text>
<text x="221.1" y="237.9">i<tspan font-size="11.3" dx="0.4" dy="3">C</tspan></text>
</g>
</g>
<g font-size="13.8" stroke="#222" stroke-width="0.15">
<text x="47.5" y="239.85" text-anchor="end">-15</text>
<text x="47.5" y="216.48" text-anchor="end">-12</text>
<text x="47.5" y="193.11" text-anchor="end">-9</text>
<text x="47.5" y="169.74" text-anchor="end">-6</text>
<text x="47.5" y="146.37" text-anchor="end">-3</text>
<text x="47.5" y="123.00" text-anchor="end">0</text>
<text x="47.5" y="99.63" text-anchor="end">3</text>
<text x="47.5" y="76.26" text-anchor="end">6</text>
<text x="47.5" y="52.89" text-anchor="end">9</text>
<text x="47.5" y="29.52" text-anchor="end">12</text>
<text x="55.50" y="263.6" text-anchor="middle">0.0</text>
<text x="115.36" y="263.6" text-anchor="middle">0.01</text>
<text x="175.22" y="263.6" text-anchor="middle">0.02</text>
<text x="235.09" y="263.6" text-anchor="middle">0.03</text>
<text x="294.95" y="263.6" text-anchor="middle">0.04</text>
<text x="354.81" y="263.6" text-anchor="middle">0.05</text>
<text x="414.67" y="263.6" text-anchor="middle">0.06</text>
<text x="474.54" y="263.6" text-anchor="middle">0.07</text>
<text x="534.40" y="263.6" text-anchor="middle">0.08</text>
</g>
<text x="294.4" y="284.5" style="fill:#3a3a3a" font-size="17.5" text-anchor="middle" textLength="58.8" lengthAdjust="spacingAndGlyphs">Time (s)</text>
<text transform="translate(17,129.4) rotate(-90)" style="fill:#3a3a3a" font-size="17" text-anchor="middle" textLength="86.8" lengthAdjust="spacingAndGlyphs">Current (A)</text>
</svg>
</body></html>
